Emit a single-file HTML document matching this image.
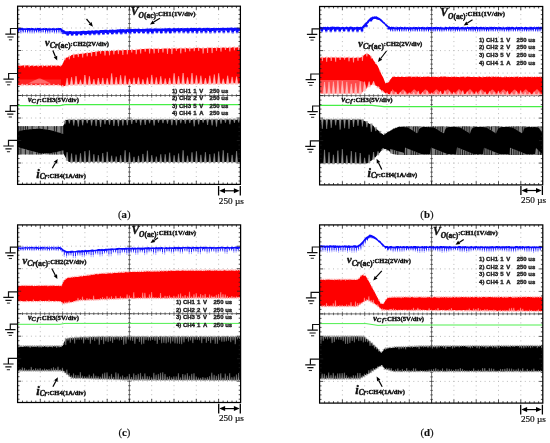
<!DOCTYPE html>
<html><head><meta charset="utf-8"><title>Figure</title>
<style>
html,body{margin:0;padding:0;background:#fff;}
body{width:550px;height:443px;overflow:hidden;}
svg{display:block;}
.lb{font-family:"Liberation Serif",serif;font-weight:bold;fill:#111;stroke:#111;stroke-width:0.4px;}
.lg{font-family:"Liberation Sans",sans-serif;font-weight:bold;font-size:6px;fill:#161616;stroke:#161616;stroke-width:0.32px;}
.sb{font-family:"Liberation Serif",serif;font-size:9.2px;fill:#111;stroke:#111;stroke-width:0.2px;}
.cp{font-family:"Liberation Serif",serif;font-size:10.8px;fill:#111;stroke:#111;stroke-width:0.15px;}
</style></head><body>
<svg width="550" height="443" viewBox="0 0 550 443">
<rect width="550" height="443" fill="#fff"/>
<path d="M39.8 10h1M39.8 14.5h1M39.8 19h1M39.8 23.5h1M39.8 28h1M39.8 32.5h1M39.8 37h1M39.8 41.5h1M39.8 46h1M39.8 50.5h1M39.8 55h1M39.8 59.5h1M39.8 64h1M39.8 68.5h1M39.8 73h1M39.8 77.5h1M39.8 82h1M39.8 86.5h1M39.8 91h1M39.8 95.5h1M39.8 100h1M39.8 104.5h1M39.8 109h1M39.8 113.5h1M39.8 118h1M39.8 122.5h1M39.8 127h1M39.8 131.5h1M39.8 136h1M39.8 140.5h1M39.8 145h1M39.8 149.5h1M39.8 154h1M39.8 158.5h1M39.8 163h1M39.8 167.5h1M39.8 172h1M39.8 176.5h1M39.8 181h1M62.1 10h1M62.1 14.5h1M62.1 19h1M62.1 23.5h1M62.1 28h1M62.1 32.5h1M62.1 37h1M62.1 41.5h1M62.1 46h1M62.1 50.5h1M62.1 55h1M62.1 59.5h1M62.1 64h1M62.1 68.5h1M62.1 73h1M62.1 77.5h1M62.1 82h1M62.1 86.5h1M62.1 91h1M62.1 95.5h1M62.1 100h1M62.1 104.5h1M62.1 109h1M62.1 113.5h1M62.1 118h1M62.1 122.5h1M62.1 127h1M62.1 131.5h1M62.1 136h1M62.1 140.5h1M62.1 145h1M62.1 149.5h1M62.1 154h1M62.1 158.5h1M62.1 163h1M62.1 167.5h1M62.1 172h1M62.1 176.5h1M62.1 181h1M84.4 10h1M84.4 14.5h1M84.4 19h1M84.4 23.5h1M84.4 28h1M84.4 32.5h1M84.4 37h1M84.4 41.5h1M84.4 46h1M84.4 50.5h1M84.4 55h1M84.4 59.5h1M84.4 64h1M84.4 68.5h1M84.4 73h1M84.4 77.5h1M84.4 82h1M84.4 86.5h1M84.4 91h1M84.4 95.5h1M84.4 100h1M84.4 104.5h1M84.4 109h1M84.4 113.5h1M84.4 118h1M84.4 122.5h1M84.4 127h1M84.4 131.5h1M84.4 136h1M84.4 140.5h1M84.4 145h1M84.4 149.5h1M84.4 154h1M84.4 158.5h1M84.4 163h1M84.4 167.5h1M84.4 172h1M84.4 176.5h1M84.4 181h1M106.7 10h1M106.7 14.5h1M106.7 19h1M106.7 23.5h1M106.7 28h1M106.7 32.5h1M106.7 37h1M106.7 41.5h1M106.7 46h1M106.7 50.5h1M106.7 55h1M106.7 59.5h1M106.7 64h1M106.7 68.5h1M106.7 73h1M106.7 77.5h1M106.7 82h1M106.7 86.5h1M106.7 91h1M106.7 95.5h1M106.7 100h1M106.7 104.5h1M106.7 109h1M106.7 113.5h1M106.7 118h1M106.7 122.5h1M106.7 127h1M106.7 131.5h1M106.7 136h1M106.7 140.5h1M106.7 145h1M106.7 149.5h1M106.7 154h1M106.7 158.5h1M106.7 163h1M106.7 167.5h1M106.7 172h1M106.7 176.5h1M106.7 181h1M151.2 10h1M151.2 14.5h1M151.2 19h1M151.2 23.5h1M151.2 28h1M151.2 32.5h1M151.2 37h1M151.2 41.5h1M151.2 46h1M151.2 50.5h1M151.2 55h1M151.2 59.5h1M151.2 64h1M151.2 68.5h1M151.2 73h1M151.2 77.5h1M151.2 82h1M151.2 86.5h1M151.2 91h1M151.2 95.5h1M151.2 100h1M151.2 104.5h1M151.2 109h1M151.2 113.5h1M151.2 118h1M151.2 122.5h1M151.2 127h1M151.2 131.5h1M151.2 136h1M151.2 140.5h1M151.2 145h1M151.2 149.5h1M151.2 154h1M151.2 158.5h1M151.2 163h1M151.2 167.5h1M151.2 172h1M151.2 176.5h1M151.2 181h1M173.5 10h1M173.5 14.5h1M173.5 19h1M173.5 23.5h1M173.5 28h1M173.5 32.5h1M173.5 37h1M173.5 41.5h1M173.5 46h1M173.5 50.5h1M173.5 55h1M173.5 59.5h1M173.5 64h1M173.5 68.5h1M173.5 73h1M173.5 77.5h1M173.5 82h1M173.5 86.5h1M173.5 91h1M173.5 95.5h1M173.5 100h1M173.5 104.5h1M173.5 109h1M173.5 113.5h1M173.5 118h1M173.5 122.5h1M173.5 127h1M173.5 131.5h1M173.5 136h1M173.5 140.5h1M173.5 145h1M173.5 149.5h1M173.5 154h1M173.5 158.5h1M173.5 163h1M173.5 167.5h1M173.5 172h1M173.5 176.5h1M173.5 181h1M195.8 10h1M195.8 14.5h1M195.8 19h1M195.8 23.5h1M195.8 28h1M195.8 32.5h1M195.8 37h1M195.8 41.5h1M195.8 46h1M195.8 50.5h1M195.8 55h1M195.8 59.5h1M195.8 64h1M195.8 68.5h1M195.8 73h1M195.8 77.5h1M195.8 82h1M195.8 86.5h1M195.8 91h1M195.8 95.5h1M195.8 100h1M195.8 104.5h1M195.8 109h1M195.8 113.5h1M195.8 118h1M195.8 122.5h1M195.8 127h1M195.8 131.5h1M195.8 136h1M195.8 140.5h1M195.8 145h1M195.8 149.5h1M195.8 154h1M195.8 158.5h1M195.8 163h1M195.8 167.5h1M195.8 172h1M195.8 176.5h1M195.8 181h1M218.1 10h1M218.1 14.5h1M218.1 19h1M218.1 23.5h1M218.1 28h1M218.1 32.5h1M218.1 37h1M218.1 41.5h1M218.1 46h1M218.1 50.5h1M218.1 55h1M218.1 59.5h1M218.1 64h1M218.1 68.5h1M218.1 73h1M218.1 77.5h1M218.1 82h1M218.1 86.5h1M218.1 91h1M218.1 95.5h1M218.1 100h1M218.1 104.5h1M218.1 109h1M218.1 113.5h1M218.1 118h1M218.1 122.5h1M218.1 127h1M218.1 131.5h1M218.1 136h1M218.1 140.5h1M218.1 145h1M218.1 149.5h1M218.1 154h1M218.1 158.5h1M218.1 163h1M218.1 167.5h1M218.1 172h1M218.1 176.5h1M218.1 181h1M22 28h1M26.4 28h1M30.9 28h1M35.3 28h1M39.8 28h1M44.2 28h1M48.7 28h1M53.2 28h1M57.6 28h1M62.1 28h1M66.5 28h1M71 28h1M75.5 28h1M79.9 28h1M84.4 28h1M88.8 28h1M93.3 28h1M97.7 28h1M102.2 28h1M106.7 28h1M111.1 28h1M115.6 28h1M120 28h1M124.5 28h1M128.9 28h1M133.4 28h1M137.9 28h1M142.3 28h1M146.8 28h1M151.2 28h1M155.7 28h1M160.2 28h1M164.6 28h1M169.1 28h1M173.5 28h1M178 28h1M182.4 28h1M186.9 28h1M191.4 28h1M195.8 28h1M200.3 28h1M204.7 28h1M209.2 28h1M213.7 28h1M218.1 28h1M222.6 28h1M227 28h1M231.5 28h1M235.9 28h1M22 50.5h1M26.4 50.5h1M30.9 50.5h1M35.3 50.5h1M39.8 50.5h1M44.2 50.5h1M48.7 50.5h1M53.2 50.5h1M57.6 50.5h1M62.1 50.5h1M66.5 50.5h1M71 50.5h1M75.5 50.5h1M79.9 50.5h1M84.4 50.5h1M88.8 50.5h1M93.3 50.5h1M97.7 50.5h1M102.2 50.5h1M106.7 50.5h1M111.1 50.5h1M115.6 50.5h1M120 50.5h1M124.5 50.5h1M128.9 50.5h1M133.4 50.5h1M137.9 50.5h1M142.3 50.5h1M146.8 50.5h1M151.2 50.5h1M155.7 50.5h1M160.2 50.5h1M164.6 50.5h1M169.1 50.5h1M173.5 50.5h1M178 50.5h1M182.4 50.5h1M186.9 50.5h1M191.4 50.5h1M195.8 50.5h1M200.3 50.5h1M204.7 50.5h1M209.2 50.5h1M213.7 50.5h1M218.1 50.5h1M222.6 50.5h1M227 50.5h1M231.5 50.5h1M235.9 50.5h1M22 73h1M26.4 73h1M30.9 73h1M35.3 73h1M39.8 73h1M44.2 73h1M48.7 73h1M53.2 73h1M57.6 73h1M62.1 73h1M66.5 73h1M71 73h1M75.5 73h1M79.9 73h1M84.4 73h1M88.8 73h1M93.3 73h1M97.7 73h1M102.2 73h1M106.7 73h1M111.1 73h1M115.6 73h1M120 73h1M124.5 73h1M128.9 73h1M133.4 73h1M137.9 73h1M142.3 73h1M146.8 73h1M151.2 73h1M155.7 73h1M160.2 73h1M164.6 73h1M169.1 73h1M173.5 73h1M178 73h1M182.4 73h1M186.9 73h1M191.4 73h1M195.8 73h1M200.3 73h1M204.7 73h1M209.2 73h1M213.7 73h1M218.1 73h1M222.6 73h1M227 73h1M231.5 73h1M235.9 73h1M22 118h1M26.4 118h1M30.9 118h1M35.3 118h1M39.8 118h1M44.2 118h1M48.7 118h1M53.2 118h1M57.6 118h1M62.1 118h1M66.5 118h1M71 118h1M75.5 118h1M79.9 118h1M84.4 118h1M88.8 118h1M93.3 118h1M97.7 118h1M102.2 118h1M106.7 118h1M111.1 118h1M115.6 118h1M120 118h1M124.5 118h1M128.9 118h1M133.4 118h1M137.9 118h1M142.3 118h1M146.8 118h1M151.2 118h1M155.7 118h1M160.2 118h1M164.6 118h1M169.1 118h1M173.5 118h1M178 118h1M182.4 118h1M186.9 118h1M191.4 118h1M195.8 118h1M200.3 118h1M204.7 118h1M209.2 118h1M213.7 118h1M218.1 118h1M222.6 118h1M227 118h1M231.5 118h1M235.9 118h1M22 140.5h1M26.4 140.5h1M30.9 140.5h1M35.3 140.5h1M39.8 140.5h1M44.2 140.5h1M48.7 140.5h1M53.2 140.5h1M57.6 140.5h1M62.1 140.5h1M66.5 140.5h1M71 140.5h1M75.5 140.5h1M79.9 140.5h1M84.4 140.5h1M88.8 140.5h1M93.3 140.5h1M97.7 140.5h1M102.2 140.5h1M106.7 140.5h1M111.1 140.5h1M115.6 140.5h1M120 140.5h1M124.5 140.5h1M128.9 140.5h1M133.4 140.5h1M137.9 140.5h1M142.3 140.5h1M146.8 140.5h1M151.2 140.5h1M155.7 140.5h1M160.2 140.5h1M164.6 140.5h1M169.1 140.5h1M173.5 140.5h1M178 140.5h1M182.4 140.5h1M186.9 140.5h1M191.4 140.5h1M195.8 140.5h1M200.3 140.5h1M204.7 140.5h1M209.2 140.5h1M213.7 140.5h1M218.1 140.5h1M222.6 140.5h1M227 140.5h1M231.5 140.5h1M235.9 140.5h1M22 163h1M26.4 163h1M30.9 163h1M35.3 163h1M39.8 163h1M44.2 163h1M48.7 163h1M53.2 163h1M57.6 163h1M62.1 163h1M66.5 163h1M71 163h1M75.5 163h1M79.9 163h1M84.4 163h1M88.8 163h1M93.3 163h1M97.7 163h1M102.2 163h1M106.7 163h1M111.1 163h1M115.6 163h1M120 163h1M124.5 163h1M128.9 163h1M133.4 163h1M137.9 163h1M142.3 163h1M146.8 163h1M151.2 163h1M155.7 163h1M160.2 163h1M164.6 163h1M169.1 163h1M173.5 163h1M178 163h1M182.4 163h1M186.9 163h1M191.4 163h1M195.8 163h1M200.3 163h1M204.7 163h1M209.2 163h1M213.7 163h1M218.1 163h1M222.6 163h1M227 163h1M231.5 163h1M235.9 163h1" stroke="#b4b4b4" stroke-width="0.9" fill="none"/>
<path d="M129.4 6.2V184.4M17.6 95.5H240.4M128.1 10h2.6M128.1 14.5h2.6M128.1 19h2.6M128.1 23.5h2.6M127.2 28h4.4M128.1 32.5h2.6M128.1 37h2.6M128.1 41.5h2.6M128.1 46h2.6M127.2 50.5h4.4M128.1 55h2.6M128.1 59.5h2.6M128.1 64h2.6M128.1 68.5h2.6M127.2 73h4.4M128.1 77.5h2.6M128.1 82h2.6M128.1 86.5h2.6M128.1 91h2.6M127.2 95.5h4.4M128.1 100h2.6M128.1 104.5h2.6M128.1 109h2.6M128.1 113.5h2.6M127.2 118h4.4M128.1 122.5h2.6M128.1 127h2.6M128.1 131.5h2.6M128.1 136h2.6M127.2 140.5h4.4M128.1 145h2.6M128.1 149.5h2.6M128.1 154h2.6M128.1 158.5h2.6M127.2 163h4.4M128.1 167.5h2.6M128.1 172h2.6M128.1 176.5h2.6M128.1 181h2.6M22.5 94.2v2.6M26.9 94.2v2.6M31.4 94.2v2.6M35.8 94.2v2.6M40.3 93.3v4.4M44.7 94.2v2.6M49.2 94.2v2.6M53.7 94.2v2.6M58.1 94.2v2.6M62.6 93.3v4.4M67 94.2v2.6M71.5 94.2v2.6M76 94.2v2.6M80.4 94.2v2.6M84.9 93.3v4.4M89.3 94.2v2.6M93.8 94.2v2.6M98.2 94.2v2.6M102.7 94.2v2.6M107.2 93.3v4.4M111.6 94.2v2.6M116.1 94.2v2.6M120.5 94.2v2.6M125 94.2v2.6M129.4 93.3v4.4M133.9 94.2v2.6M138.4 94.2v2.6M142.8 94.2v2.6M147.3 94.2v2.6M151.7 93.3v4.4M156.2 94.2v2.6M160.7 94.2v2.6M165.1 94.2v2.6M169.6 94.2v2.6M174 93.3v4.4M178.5 94.2v2.6M182.9 94.2v2.6M187.4 94.2v2.6M191.9 94.2v2.6M196.3 93.3v4.4M200.8 94.2v2.6M205.2 94.2v2.6M209.7 94.2v2.6M214.2 94.2v2.6M218.6 93.3v4.4M223.1 94.2v2.6M227.5 94.2v2.6M232 94.2v2.6M236.4 94.2v2.6" stroke="#333" stroke-width="0.7" fill="none"/>
<polygon points="17.6,65.5 18.6,65.4 19.6,65.8 20.6,65.4 21.6,65.7 22.6,65.6 23.6,65.3 24.6,65.7 25.6,65.3 26.6,65.6 27.6,65.3 28.6,65.4 29.6,65.6 30.6,65.9 31.6,65.4 32.6,65.5 33.6,65.7 34.6,66 35.6,65.7 36.6,65.6 37.6,66 38.6,65.3 39.6,65.9 40.6,65.5 41.6,65.4 42.6,65.4 43.6,65.5 44.6,65.9 45.6,65.4 46.6,65.7 47.6,65.7 48.6,65.6 49.6,65.7 50.6,65.3 51.6,65.3 52.6,65.4 53.6,65.8 54.6,65.6 55.6,65.5 56.6,65.7 57.6,65.6 58.6,65.5 59.6,65.9 60.6,65.8 61.6,65.5 62.6,64.2 63.6,61.8 64.6,59.6 65.6,58.2 66.6,57.5 67.6,57.5 68.6,56.4 69.6,56.2 70.6,55.9 71.6,55.1 72.6,54.8 73.6,54.3 74.6,54.6 75.6,54.5 76.6,54.3 77.6,54.4 78.6,53.8 79.6,54 80.6,53.8 81.6,53.7 82.6,53.4 83.6,53.6 84.6,53.5 85.6,53.1 86.6,53.1 87.6,52.6 88.6,52.9 89.6,52.7 90.6,52.8 91.6,52.6 92.6,52.1 93.6,52.1 94.6,52.1 95.6,51.6 96.6,51.7 97.6,51.4 98.6,51.3 99.6,51.1 100.6,51.5 101.6,51 102.6,51 103.6,51.1 104.6,51.4 105.6,50.8 106.6,51 107.6,51 108.6,51.2 109.6,51.1 110.6,51.1 111.6,50.6 112.6,50.7 113.6,50.6 114.6,50.9 115.6,50.9 116.6,50.3 117.6,50.3 118.6,50.3 119.6,50.2 120.6,50.4 121.6,50.4 122.6,50.1 123.6,49.9 124.6,50.1 125.6,50 126.6,50.1 127.6,50.3 128.6,50.1 129.6,49.9 130.6,50 131.6,50 132.6,49.5 133.6,50 134.6,49.9 135.6,49.9 136.6,49.8 137.6,49.5 138.6,49.4 139.6,49.2 140.6,49.5 141.6,49 142.6,49 143.6,49.1 144.6,49 145.6,49 146.6,48.8 147.6,48.7 148.6,48.8 149.6,48.7 150.6,48.8 151.6,48.6 152.6,49.2 153.6,49 154.6,48.6 155.6,48.7 156.6,48.7 157.6,48.7 158.6,48.5 159.6,49 160.6,49.1 161.6,48.7 162.6,48.7 163.6,48.4 164.6,48.4 165.6,48.6 166.6,48.5 167.6,48.9 168.6,48.4 169.6,48.3 170.6,48.9 171.6,48.6 172.6,48.3 173.6,48.6 174.6,48.2 175.6,48.5 176.6,48.8 177.6,48.7 178.6,48.6 179.6,48.3 180.6,48.3 181.6,48.2 182.6,48.6 183.6,48.4 184.6,48.5 185.6,48.2 186.6,48.1 187.6,48.5 188.6,48.6 189.6,48.5 190.6,48.4 191.6,48.4 192.6,48.4 193.6,48 194.6,48.2 195.6,48 196.6,47.8 197.6,47.8 198.6,47.9 199.6,47.9 200.6,48.2 201.6,48.4 202.6,48 203.6,48.3 204.6,48.3 205.6,48.3 206.6,47.9 207.6,47.7 208.6,47.7 209.6,47.7 210.6,47.7 211.6,47.9 212.6,48.1 213.6,48.1 214.6,47.8 215.6,47.9 216.6,48 217.6,47.5 218.6,47.8 219.6,48 220.6,47.9 221.6,47.9 222.6,47.6 223.6,47.4 224.6,47.8 225.6,47.5 226.6,47.8 227.6,47.9 228.6,47.5 229.6,47.5 230.6,47.8 231.6,47.7 232.6,47.3 233.6,47.2 234.6,47.2 235.6,47.7 236.6,47.6 237.6,47.2 238.6,47.6 239.6,47.7 240.4,47.5 240.4,83.3 239.6,83.3 238.6,83.7 237.6,83.1 236.6,83.6 235.6,83.6 234.6,83.2 233.6,83.3 232.6,83.4 231.6,83.3 230.6,83.5 229.6,83.5 228.6,83.7 227.6,83.7 226.6,83.9 225.6,83.9 224.6,83.6 223.6,83.9 222.6,83.7 221.6,83.9 220.6,83.6 219.6,83.8 218.6,83.6 217.6,83.6 216.6,83.7 215.6,84 214.6,83.7 213.6,83.8 212.6,83.3 211.6,83.8 210.6,83.6 209.6,83.3 208.6,83.4 207.6,83.8 206.6,83.7 205.6,83.9 204.6,83.7 203.6,83.9 202.6,83.9 201.6,83.9 200.6,83.6 199.6,83.5 198.6,83.5 197.6,84 196.6,84 195.6,83.9 194.6,83.6 193.6,84.1 192.6,84 191.6,84.1 190.6,83.9 189.6,83.9 188.6,83.7 187.6,83.7 186.6,83.6 185.6,83.9 184.6,83.5 183.6,83.7 182.6,83.9 181.6,83.9 180.6,83.6 179.6,83.9 178.6,83.9 177.6,83.7 176.6,84.2 175.6,83.6 174.6,83.9 173.6,84.1 172.6,83.9 171.6,83.8 170.6,84.3 169.6,84.1 168.6,84.3 167.6,84.1 166.6,84.2 165.6,84 164.6,84.1 163.6,83.8 162.6,84.1 161.6,84.1 160.6,84.2 159.6,84.3 158.6,84.3 157.6,84.3 156.6,84.2 155.6,84 154.6,84.3 153.6,84.2 152.6,83.8 151.6,84 150.6,84.2 149.6,84.1 148.6,83.8 147.6,84.4 146.6,83.9 145.6,84.4 144.6,83.9 143.6,84 142.6,83.8 141.6,84.4 140.6,84.2 139.6,84 138.6,84.5 137.6,84.5 136.6,84 135.6,84.1 134.6,83.9 133.6,84.4 132.6,84.4 131.6,84 130.6,83.9 129.6,84.3 128.6,84.5 127.6,84.4 126.6,84.1 125.6,84.6 124.6,84.4 123.6,84.5 122.6,83.9 121.6,84.1 120.6,84 119.6,84.6 118.6,84.3 117.6,84.2 116.6,84.4 115.6,84.7 114.6,84.4 113.6,84.3 112.6,84.7 111.6,84.2 110.6,84.5 109.6,84.6 108.6,84.5 107.6,84.4 106.6,84.4 105.6,84.6 104.6,84.2 103.6,84.1 102.6,84.4 101.6,84.5 100.6,84.1 99.6,84.6 98.6,84.1 97.6,84.2 96.6,84.7 95.6,84.4 94.6,84.3 93.6,84.7 92.6,84.2 91.6,84.3 90.6,84.4 89.6,84.8 88.6,84.7 87.6,84.8 86.6,84.6 85.6,84.8 84.6,84.8 83.6,84.3 82.6,84.3 81.6,84.5 80.6,84.7 79.6,84.3 78.6,84.3 77.6,84.5 76.6,84.3 75.6,84.6 74.6,84.6 73.6,84.7 72.6,84.5 71.6,84.6 70.6,84.6 69.6,84.7 68.6,85 67.6,85 66.6,85.3 65.6,85.7 64.6,86 63.6,86.1 62.6,86.4 61.6,85.9 60.6,85.2 59.6,85.2 58.6,84.8 57.6,84.9 56.6,84.9 55.6,85.1 54.6,84.9 53.6,84.8 52.6,85 51.6,85.2 50.6,84.7 49.6,85.3 48.6,85.2 47.6,85 46.6,85.3 45.6,84.9 44.6,84.9 43.6,84.9 42.6,84.7 41.6,85 40.6,84.7 39.6,84.9 38.6,85 37.6,85.1 36.6,84.7 35.6,85.2 34.6,85 33.6,85.1 32.6,84.9 31.6,85.1 30.6,85.1 29.6,85.1 28.6,85.2 27.6,84.7 26.6,84.7 25.6,85 24.6,84.6 23.6,84.9 22.6,84.8 21.6,84.6 20.6,85.3 19.6,85.2 18.6,84.9 17.6,85.1" fill="#fe0000"/>
<polygon points="17.6,79.6 18.6,79.6 19.6,79.6 20.6,79.6 21.6,79.6 22.6,79.6 23.6,79.6 24.6,79.6 25.6,79.6 26.6,79.6 27.6,79.6 28.6,79.6 29.6,79.6 30.6,79.6 31.6,79.6 32.6,79.6 33.6,79.6 34.6,79.6 35.6,79.6 36.6,79.6 37.6,79.6 38.6,79.6 39.6,79.6 40.6,79.6 41.6,79.6 42.6,79.6 43.6,79.6 44.6,79.6 45.6,79.6 46.6,79.6 47.6,79.6 48.6,79.6 49.6,79.6 50.6,79.6 51.6,79.6 52.6,79.6 53.6,79.6 54.6,79.6 55.6,79.6 56.6,79.6 57.6,79.6 58.6,79.6 59.6,79.6 60.6,79.6 61,79.6 61,85.6 60.6,85.6 59.6,85.6 58.6,85.6 57.6,85.6 56.6,85.6 55.6,85.6 54.6,85.6 53.6,85.6 52.6,85.6 51.6,85.6 50.6,85.6 49.6,85.6 48.6,85.6 47.6,85.6 46.6,85.6 45.6,85.6 44.6,85.6 43.6,85.6 42.6,85.6 41.6,85.6 40.6,85.6 39.6,85.6 38.6,85.6 37.6,85.6 36.6,85.6 35.6,85.6 34.6,85.6 33.6,85.6 32.6,85.6 31.6,85.6 30.6,85.6 29.6,85.6 28.6,85.6 27.6,85.6 26.6,85.6 25.6,85.6 24.6,85.6 23.6,85.6 22.6,85.6 21.6,85.6 20.6,85.6 19.6,85.6 18.6,85.6 17.6,85.6" fill="#ffa4a4" fill-opacity="0.22"/>
<polygon points="28,83.4 29,82.9 30,82.4 31,82 32,81.5 33,81 34,80.6 35,80.1 36,79.7 37,79.3 38,78.8 39,78.4 40,78.4 41,78.8 42,79.3 43,79.7 44,80.1 45,80.6 46,81 47,81.5 48,82 49,82.4 50,82.9 51,83.4 51,83.5 50,83.5 49,83.5 48,83.5 47,83.5 46,83.5 45,83.5 44,83.5 43,83.5 42,83.5 41,83.5 40,83.5 39,83.5 38,83.5 37,83.5 36,83.5 35,83.5 34,83.5 33,83.5 32,83.5 31,83.5 30,83.5 29,83.5 28,83.5" fill="#ffa4a4" fill-opacity="0.55"/>
<path d="M19.7 64.9h1.1L20.3 66.3zM21 85.7h2.9L22.5 83.8zM24.2 64.9h1.1L24.7 67.4zM25.5 85.7h2.9L27 83.9zM28.6 64.9h1.1L29.2 67.2zM30 85.7h2.9L31.4 83.8zM33.1 64.9h1.1L33.7 66.5zM34.4 85.7h2.9L35.9 84zM37.6 64.9h1.1L38.1 66.9zM38.9 85.7h2.9L40.3 83.8zM42 64.9h1.1L42.6 67.3zM43.3 85.7h2.9L44.8 83.8zM46.5 64.9h1.1L47 67zM47.8 85.7h2.9L49.3 83.7zM50.9 64.9h1.1L51.5 67.1zM52.3 85.7h2.9L53.7 83.9zM55.4 64.9h1.1L56 66.6zM56.7 85.7h2.9L58.2 84.5zM59.9 64.9h1.1L60.4 66.5zM61.2 87h2.9L62.6 84.9zM64.3 57.9h1.1L64.9 60.3zM65.6 86.1h2.9L67.1 78.2zM68.8 55.6h1.1L69.3 59.3zM70.1 85.4h2.9L71.6 77.2zM73.2 53.8h1.1L73.8 58zM74.6 85.4h2.9L76 76.1zM77.7 53.3h1.1L78.3 57.1zM79 85.3h2.9L80.5 79.7zM82.2 52.7h1.1L82.7 57.5zM83.5 85.3h2.9L84.9 75zM86.6 52.2h1.1L87.2 56.3zM87.9 85.3h2.9L89.4 76.3zM91.1 51.6h1.1L91.6 56.3zM92.4 85.2h2.9L93.9 79.2zM95.5 51.1h1.1L96.1 56.1zM96.9 85.2h2.9L98.3 78zM100 50.6h1.1L100.6 53.7zM101.3 85.2h2.9L102.8 77.9zM104.5 50.4h1.1L105 55.5zM105.8 85.1h2.9L107.2 78.3zM108.9 50.1h1.1L109.5 55.3zM110.2 85.1h2.9L111.7 73.4zM113.4 49.9h1.1L113.9 54.4zM114.7 85.1h2.9L116.2 77.1zM117.8 49.7h1.1L118.4 54.1zM119.2 85h2.9L120.6 75.2zM122.3 49.5h1.1L122.9 54.9zM123.6 85h2.9L125.1 75.6zM126.8 49.3h1.1L127.3 54.3zM128.1 85h2.9L129.5 78.9zM131.2 49.1h1.1L131.8 52.5zM132.5 84.9h2.9L134 77.8zM135.7 48.9h1.1L136.2 54.2zM137 84.9h2.9L138.5 77.5zM140.1 48.6h1.1L140.7 53.5zM141.5 84.9h2.9L142.9 79.3zM144.6 48.4h1.1L145.2 51.7zM145.9 84.9h2.9L147.4 77.6zM149.1 48.2h1.1L149.6 53.5zM150.4 84.8h2.9L151.8 74.9zM153.5 48.1h1.1L154.1 53.4zM154.8 84.8h2.9L156.3 77.4zM158 48h1.1L158.5 52.8zM159.3 84.8h2.9L160.8 76.3zM162.4 48h1.1L163 52.5zM163.8 84.7h2.9L165.2 78.5zM166.9 47.9h1.1L167.5 53.9zM168.2 84.7h2.9L169.7 77.9zM171.4 47.8h1.1L171.9 54.1zM172.7 84.7h2.9L174.1 73.3zM175.8 47.7h1.1L176.4 50.9zM177.1 84.6h2.9L178.6 76.2zM180.3 47.7h1.1L180.8 53.4zM181.6 84.6h2.9L183.1 73zM184.7 47.6h1.1L185.3 52.1zM186.1 84.6h2.9L187.5 77.4zM189.2 47.5h1.1L189.8 51.3zM190.5 84.5h2.9L192 73.1zM193.7 47.4h1.1L194.2 51.2zM195 84.5h2.9L196.4 75.4zM198.1 47.3h1.1L198.7 50.9zM199.4 84.5h2.9L200.9 75.7zM202.6 47.3h1.1L203.1 53.5zM203.9 84.4h2.9L205.4 78.1zM207 47.2h1.1L207.6 53zM208.4 84.4h2.9L209.8 75.7zM211.5 47.1h1.1L212.1 53.1zM212.8 84.4h2.9L214.3 74.5zM216 47h1.1L216.5 50.9zM217.3 84.4h2.9L218.7 73.3zM220.4 46.9h1.1L221 51.6zM221.7 84.3h2.9L223.2 78.7zM224.9 46.9h1.1L225.4 50zM226.2 84.3h2.9L227.7 75.7zM229.3 46.8h1.1L229.9 51.4zM230.7 84.3h2.9L232.1 76.9zM233.8 46.7h1.1L234.4 50.3zM235.1 84.2h2.9L236.6 76.6zM238.3 46.6h1.1L238.8 50.8z" fill="#ffbcbc" fill-opacity="1.0" stroke="#ffbcbc" stroke-width="0.5" stroke-opacity="1.0"/>
<polygon points="17.6,127 18.6,126.4 19.6,126.9 20.6,127 21.6,126.5 22.6,127 23.6,126.9 24.6,127 25.6,126.6 26.6,126.7 27.6,126.7 28.6,127.1 29.6,126.8 30.6,126.7 31.6,126.7 32.6,126.6 33.6,126.4 34.6,126.5 35.6,127 36.6,126.6 37.6,127.1 38.6,126.6 39.6,126.6 40.6,126.8 41.6,126.5 42.6,126.7 43.6,127.1 44.6,127 45.6,127 46.6,126.8 47.6,127 48.6,127.1 49.6,126.8 50.6,126.9 51.6,126.4 52.6,126.9 53.6,126.7 54.6,126.9 55.6,126.9 56.6,126.6 57.6,126.4 58.6,127 59.6,126.5 60.6,126.7 61.6,126.6 62.6,126.6 63.6,125.3 64.6,122.7 65.6,119.8 66.6,120.1 67.6,119.8 68.6,120 69.6,119.9 70.6,119.7 71.6,119.7 72.6,119.7 73.6,120.2 74.6,119.9 75.6,119.7 76.6,120.2 77.6,120.3 78.6,119.9 79.6,119.7 80.6,119.7 81.6,119.6 82.6,119.8 83.6,119.6 84.6,119.7 85.6,119.7 86.6,120 87.6,120.2 88.6,120.1 89.6,119.8 90.6,119.8 91.6,119.9 92.6,119.8 93.6,119.8 94.6,119.6 95.6,119.7 96.6,120.2 97.6,119.6 98.6,119.9 99.6,120 100.6,120.1 101.6,119.7 102.6,119.7 103.6,119.7 104.6,119.8 105.6,119.8 106.6,120.2 107.6,120.1 108.6,120.1 109.6,119.5 110.6,119.5 111.6,120 112.6,120.1 113.6,119.8 114.6,119.9 115.6,119.5 116.6,119.8 117.6,120.1 118.6,120.1 119.6,120.1 120.6,120.2 121.6,119.6 122.6,119.5 123.6,119.6 124.6,119.8 125.6,119.9 126.6,120.1 127.6,120 128.6,119.9 129.6,120 130.6,119.8 131.6,119.8 132.6,119.5 133.6,120 134.6,119.6 135.6,120.1 136.6,119.9 137.6,119.6 138.6,119.5 139.6,119.6 140.6,119.9 141.6,119.9 142.6,119.5 143.6,119.5 144.6,119.8 145.6,119.8 146.6,119.7 147.6,119.6 148.6,119.8 149.6,119.4 150.6,119.6 151.6,119.7 152.6,120.1 153.6,119.8 154.6,120 155.6,119.7 156.6,119.6 157.6,119.6 158.6,120.1 159.6,119.9 160.6,119.6 161.6,119.4 162.6,119.7 163.6,119.8 164.6,119.7 165.6,119.6 166.6,119.8 167.6,120 168.6,119.5 169.6,119.4 170.6,119.6 171.6,119.7 172.6,119.8 173.6,119.5 174.6,119.9 175.6,119.9 176.6,119.7 177.6,119.5 178.6,120 179.6,119.6 180.6,119.9 181.6,119.5 182.6,119.5 183.6,119.9 184.6,119.5 185.6,120 186.6,119.7 187.6,119.5 188.6,119.5 189.6,119.6 190.6,119.8 191.6,120 192.6,119.4 193.6,119.6 194.6,119.5 195.6,120 196.6,119.4 197.6,119.3 198.6,119.3 199.6,119.6 200.6,119.9 201.6,119.9 202.6,119.8 203.6,120 204.6,119.9 205.6,119.5 206.6,119.4 207.6,119.9 208.6,119.8 209.6,119.3 210.6,119.7 211.6,119.5 212.6,119.5 213.6,119.5 214.6,119.4 215.6,119.3 216.6,119.5 217.6,119.5 218.6,119.9 219.6,119.3 220.6,119.9 221.6,119.4 222.6,119.5 223.6,119.8 224.6,119.8 225.6,119.5 226.6,119.3 227.6,119.6 228.6,119.5 229.6,119.9 230.6,119.4 231.6,119.5 232.6,119.8 233.6,119.2 234.6,119.5 235.6,119.8 236.6,119.7 237.6,119.2 238.6,119.2 239.6,119.2 240.4,119.8 240.4,161.8 239.6,162.2 238.6,161.9 237.6,162.3 236.6,161.9 235.6,162 234.6,162.2 233.6,162 232.6,162.2 231.6,162.2 230.6,162 229.6,162.2 228.6,162 227.6,161.8 226.6,161.8 225.6,162.1 224.6,162 223.6,161.9 222.6,162.3 221.6,162 220.6,162 219.6,161.8 218.6,162 217.6,161.9 216.6,162 215.6,162.1 214.6,161.9 213.6,161.9 212.6,161.9 211.6,162.2 210.6,161.7 209.6,162.3 208.6,161.8 207.6,161.9 206.6,162.3 205.6,161.7 204.6,161.8 203.6,162.1 202.6,162.2 201.6,162 200.6,161.9 199.6,162 198.6,162.1 197.6,162.2 196.6,161.7 195.6,161.7 194.6,162 193.6,162.1 192.6,161.7 191.6,162.2 190.6,161.7 189.6,161.9 188.6,161.7 187.6,162 186.6,161.7 185.6,162.3 184.6,162 183.6,161.6 182.6,161.6 181.6,162.2 180.6,162.2 179.6,161.6 178.6,161.7 177.6,162 176.6,162.2 175.6,161.7 174.6,161.9 173.6,162.1 172.6,162.2 171.6,161.9 170.6,162 169.6,161.9 168.6,162.2 167.6,161.7 166.6,161.9 165.6,161.9 164.6,162.3 163.6,162.2 162.6,162 161.6,161.7 160.6,162 159.6,161.7 158.6,162 157.6,161.7 156.6,162.3 155.6,162.2 154.6,161.8 153.6,162.2 152.6,162 151.6,161.6 150.6,161.7 149.6,162 148.6,162 147.6,161.9 146.6,162.1 145.6,161.6 144.6,162.1 143.6,162.1 142.6,162 141.6,161.8 140.6,162.2 139.6,162.2 138.6,161.9 137.6,161.9 136.6,162 135.6,162.2 134.6,162.3 133.6,161.9 132.6,161.7 131.6,162.2 130.6,162.1 129.6,162.2 128.6,161.8 127.6,162.1 126.6,162.3 125.6,162.2 124.6,161.8 123.6,161.9 122.6,162.1 121.6,162.2 120.6,162.2 119.6,162 118.6,162.1 117.6,161.9 116.6,161.9 115.6,162.2 114.6,161.6 113.6,161.8 112.6,162.1 111.6,162 110.6,161.7 109.6,162 108.6,161.6 107.6,161.9 106.6,161.6 105.6,162.2 104.6,162.2 103.6,162.1 102.6,162.3 101.6,161.7 100.6,161.7 99.6,161.7 98.6,162 97.6,162.2 96.6,161.6 95.6,161.8 94.6,161.7 93.6,162.1 92.6,161.9 91.6,161.6 90.6,162 89.6,162.1 88.6,161.9 87.6,161.7 86.6,162.2 85.6,162.1 84.6,162.1 83.6,162.2 82.6,161.8 81.6,162 80.6,161.9 79.6,162.1 78.6,161.7 77.6,162.2 76.6,161.8 75.6,161.7 74.6,161.8 73.6,161.8 72.6,161.9 71.6,162 70.6,162.1 69.6,162 68.6,161.8 67.6,160.5 66.6,159.2 65.6,157.5 64.6,155.8 63.6,153.7 62.6,153.6 61.6,153.5 60.6,154 59.6,153.8 58.6,154.2 57.6,154.2 56.6,154 55.6,153.7 54.6,154.1 53.6,154.1 52.6,153.7 51.6,153.9 50.6,154 49.6,154 48.6,153.8 47.6,153.7 46.6,153.6 45.6,153.7 44.6,153.6 43.6,154.1 42.6,153.6 41.6,153.9 40.6,153.9 39.6,154 38.6,153.9 37.6,153.5 36.6,153.5 35.6,153.9 34.6,154 33.6,154.2 32.6,153.5 31.6,153.8 30.6,153.6 29.6,153.7 28.6,154.2 27.6,154 26.6,154 25.6,153.7 24.6,154 23.6,153.8 22.6,153.5 21.6,154 20.6,154 19.6,153.6 18.6,153.7 17.6,154" fill="#000"/>
<polygon points="17.6,126.2 18.6,126.2 19.6,126.2 20.6,126.2 21.6,126.2 22.6,126.2 23.6,126.2 24.6,126.2 25.6,126.2 26.6,126.2 27.6,126.2 28.6,126.2 29.6,126.2 30.6,126.2 31.6,126.2 32.6,126.2 33.6,126.2 34.6,126.2 35.6,126.2 36.6,126.2 37.6,126.2 38.6,126.2 39.6,126.2 40.6,126.2 41.6,126.2 42.6,126.2 43.6,126.2 44.6,126.2 45.6,126.2 46.6,126.2 47.6,126.2 48.6,126.2 49.6,126.2 50.6,126.2 51.6,126.2 52.6,126.2 53.6,126.2 54.6,126.2 55.6,126.2 56.6,126.2 57.6,126.2 58.6,126.2 59.6,126.2 60.6,126.2 61.6,126.2 62.6,126.2 63.5,126.2 63.5,134 62.6,133.7 61.6,133.4 60.6,133.1 59.6,132.8 58.6,132.5 57.6,132.2 56.6,131.9 55.6,131.6 54.6,131.3 53.6,131 52.6,130.7 51.6,130.4 50.6,130.3 49.6,130.1 48.6,130 47.6,129.8 46.6,129.6 45.6,129.5 44.6,129.3 43.6,129.2 42.6,129 41.6,128.9 40.6,128.7 39.6,128.6 38.6,128.7 37.6,128.8 36.6,128.8 35.6,128.9 34.6,129 33.6,129 32.6,129.1 31.6,129.2 30.6,129.2 29.6,129.3 28.6,129.4 27.6,129.5 26.6,129.6 25.6,129.8 24.6,129.9 23.6,130.1 22.6,130.2 21.6,130.4 20.6,130.5 19.6,130.7 18.6,130.8 17.6,131" fill="#828282" fill-opacity="1"/>
<path d="M18.7 126.2V130.8M20.9 126.2V130.5M23.2 126.2V130.1M25.4 126.2V129.8M27.6 126.2V129.5M32.1 126.2V129.1M38.8 126.2V128.7M43.2 126.2V129.1M47.7 126.2V129.8M54.4 126.2V131.2M56.6 126.2V131.9M61.1 126.2V133.3M63.3 126.2V133.9" stroke="#000" stroke-width="0.8" fill="none"/>
<polygon points="17.6,147 18.6,147.3 19.6,147.6 20.6,147.9 21.6,148.2 22.6,148.5 23.6,148.7 24.6,149 25.6,149.3 26.6,149.6 27.6,149.9 28.6,150.2 29.6,150.5 30.6,150.8 31.6,151 32.6,151.3 33.6,151.6 34.6,151.8 35.6,152.1 36.6,152.3 37.6,152.6 38.6,152.9 39.6,153.1 40.6,153.4 41.6,153.7 42.6,153.9 43.6,154.2 44.6,154.2 45.6,154.1 46.6,153.9 47.6,153.8 48.6,153.6 49.6,153.5 50.6,153.3 51.6,153 52.6,152.8 53.6,152.6 54.6,152.4 55.6,152.2 56.6,151.9 57.6,151.7 58.6,151.5 59.6,151.3 60.6,151 61.6,150.8 62.6,150.6 63.5,150.4 63.5,154.5 62.6,154.5 61.6,154.5 60.6,154.5 59.6,154.5 58.6,154.5 57.6,154.5 56.6,154.5 55.6,154.5 54.6,154.5 53.6,154.5 52.6,154.5 51.6,154.5 50.6,154.5 49.6,154.5 48.6,154.5 47.6,154.5 46.6,154.5 45.6,154.5 44.6,154.5 43.6,154.5 42.6,154.5 41.6,154.5 40.6,154.5 39.6,154.5 38.6,154.5 37.6,154.5 36.6,154.5 35.6,154.5 34.6,154.5 33.6,154.5 32.6,154.5 31.6,154.5 30.6,154.5 29.6,154.5 28.6,154.5 27.6,154.5 26.6,154.5 25.6,154.5 24.6,154.5 23.6,154.5 22.6,154.5 21.6,154.5 20.6,154.5 19.6,154.5 18.6,154.5 17.6,154.5" fill="#828282" fill-opacity="1"/>
<path d="M18.7 147.3V154.5M20.9 148V154.5M25.4 149.3V154.5M29.9 150.6V154.5M32.1 151.2V154.5M36.6 152.3V154.5M38.8 152.9V154.5M41 153.5V154.5M49.9 153.4V154.5M52.2 152.9V154.5M54.4 152.4V154.5M56.6 151.9V154.5M61.1 150.9V154.5" stroke="#000" stroke-width="0.8" fill="none"/>
<path d="M63.8 120.9h2.1L64.9 124.3zM66 160.4h2.1L67.1 152.2zM68.3 119.2h2.1L69.3 123.4zM70.5 162.7h2.1L71.6 153.5zM72.7 119.2h2.1L73.8 125.5zM75 162.7h2.1L76 154.6zM77.2 119.2h2.1L78.3 126.5zM79.4 162.7h2.1L80.5 153.3zM81.6 119.2h2.1L82.7 125.3zM83.9 162.7h2.1L84.9 151.2zM86.1 119.2h2.1L87.2 123.3zM88.3 162.7h2.1L89.4 150.4zM90.6 119.1h2.1L91.6 125.5zM92.8 162.7h2.1L93.9 154.3zM95 119.1h2.1L96.1 126.1zM97.3 162.7h2.1L98.3 155.2zM99.5 119.1h2.1L100.6 126.9zM101.7 162.7h2.1L102.8 153.1zM103.9 119.1h2.1L105 124.3zM106.2 162.7h2.1L107.2 151.8zM108.4 119.1h2.1L109.5 124.7zM110.6 162.7h2.1L111.7 155.7zM112.9 119.1h2.1L113.9 125.9zM115.1 162.7h2.1L116.2 156.5zM117.3 119.1h2.1L118.4 126.2zM119.6 162.7h2.1L120.6 155.2zM121.8 119.1h2.1L122.9 125.5zM124 162.7h2.1L125.1 150.3zM126.2 119.1h2.1L127.3 125.2zM128.5 162.7h2.1L129.5 152.4zM130.7 119h2.1L131.8 124.1zM132.9 162.7h2.1L134 156.8zM135.2 119h2.1L136.2 122.9zM137.4 162.7h2.1L138.5 155.8zM139.6 119h2.1L140.7 125.3zM141.9 162.7h2.1L142.9 153.9zM144.1 119h2.1L145.2 124.9zM146.3 162.7h2.1L147.4 150.7zM148.5 119h2.1L149.6 123.3zM150.8 162.7h2.1L151.8 155.2zM153 119h2.1L154.1 125.5zM155.2 162.7h2.1L156.3 156.6zM157.5 119h2.1L158.5 122.8zM159.7 162.7h2.1L160.8 154.3zM161.9 119h2.1L163 123.2zM164.2 162.7h2.1L165.2 154.3zM166.4 119h2.1L167.5 123.7zM168.6 162.7h2.1L169.7 152.7zM170.8 119h2.1L171.9 125.2zM173.1 162.7h2.1L174.1 155.3zM175.3 118.9h2.1L176.4 125.3zM177.5 162.7h2.1L178.6 153.5zM179.8 118.9h2.1L180.8 123.3zM182 162.7h2.1L183.1 150.3zM184.2 118.9h2.1L185.3 123.7zM186.5 162.7h2.1L187.5 155.7zM188.7 118.9h2.1L189.8 123.1zM190.9 162.7h2.1L192 152.3zM193.1 118.9h2.1L194.2 126.3zM195.4 162.7h2.1L196.4 151.3zM197.6 118.9h2.1L198.7 124.4zM199.8 162.7h2.1L200.9 154.8zM202.1 118.9h2.1L203.1 122.7zM204.3 162.7h2.1L205.4 152.2zM206.5 118.9h2.1L207.6 125zM208.8 162.7h2.1L209.8 154.2zM211 118.9h2.1L212.1 125.4zM213.2 162.7h2.1L214.3 153.5zM215.4 118.9h2.1L216.5 126.6zM217.7 162.7h2.1L218.7 151.5zM219.9 118.8h2.1L221 123.7zM222.1 162.7h2.1L223.2 150.3zM224.4 118.8h2.1L225.4 122.8zM226.6 162.7h2.1L227.7 152.9zM228.8 118.8h2.1L229.9 124.3zM231.1 162.7h2.1L232.1 154.9zM233.3 118.8h2.1L234.4 122.9zM235.5 162.7h2.1L236.6 151.1zM237.7 118.8h2.1L238.8 122.7z" fill="#939393" fill-opacity="1.0" stroke="#939393" stroke-width="0.5" stroke-opacity="1.0"/>
<path d="M17.6 105.6H60L65 104.6H240.4" stroke="#46ee46" stroke-width="1.1" fill="none"/>
<path d="M18.7 32.1V33.5M20.9 32.2V33.8M23.2 31.9V33.2M25.4 31.9V33.2M27.6 32.1V33.5M29.9 32V33.5M32.1 32.1V33.6M34.3 32.2V33.7M36.6 31.9V33.2M38.8 31.9V33.3M41 31.9V33.3M43.2 31.8V33.1M45.5 32.2V33.8M47.7 32.2V33.7M49.9 32.1V33.6M52.2 31.8V33M54.4 32.2V33.7M56.6 32.2V33.7M58.9 32V33.4M61.1 32.2V33.7" stroke="#8c8cff" stroke-width="0.8" fill="none"/>
<path d="M18.7 29.9V32.3M20.9 29.9V32.4M23.2 29.9V32.1M25.4 29.9V32.1M27.6 29.9V32.3M29.9 29.9V32.2M32.1 29.9V32.3M34.3 29.9V32.4M36.6 29.9V32.1M38.8 29.9V32.1M41 29.9V32.1M43.2 29.9V32M45.5 29.9V32.4M47.7 29.9V32.4M49.9 29.9V32.3M52.2 29.9V32M54.4 29.9V32.4M56.6 29.9V32.4M58.9 29.9V32.2M61.1 29.9V32.4" stroke="#0a0aff" stroke-width="1" fill="none"/>
<polygon points="17.6,28.1 18.6,27.9 19.6,27.8 20.6,27.9 21.6,27.8 22.6,28 23.6,28.3 24.6,28.2 25.6,28.3 26.6,28.2 27.6,27.9 28.6,28.1 29.6,28.1 30.6,28.3 31.6,28.1 32.6,27.9 33.6,28.2 34.6,28.4 35.6,27.9 36.6,28.4 37.6,27.8 38.6,27.9 39.6,27.9 40.6,28.3 41.6,28.4 42.6,28.3 43.6,28 44.6,28.4 45.6,28 46.6,27.9 47.6,28.4 48.6,28.2 49.6,28.2 50.6,28.2 51.6,28.4 52.6,28.1 53.6,28.3 54.6,28.2 55.6,28.4 56.6,28.1 57.6,28.3 58.6,28.1 59.6,28 60.6,27.9 61.5,28.2 61.5,30.3 60.6,30.6 59.6,30.2 58.6,30.2 57.6,30.1 56.6,30.3 55.6,30.3 54.6,30.2 53.6,30.6 52.6,30.1 51.6,30.1 50.6,30.3 49.6,30.5 48.6,30.6 47.6,30.5 46.6,30.6 45.6,30.6 44.6,30.1 43.6,30.1 42.6,30.2 41.6,30.1 40.6,30.7 39.6,30.7 38.6,30.7 37.6,30.1 36.6,30.7 35.6,30.6 34.6,30.6 33.6,30.3 32.6,30.5 31.6,30.1 30.6,30.6 29.6,30.5 28.6,30.5 27.6,30.5 26.6,30.1 25.6,30.1 24.6,30.1 23.6,30.3 22.6,30.7 21.6,30.1 20.6,30.1 19.6,30.2 18.6,30.7 17.6,30.1" fill="#0a0aff"/>
<path d="M63.2 33.6V34.3M67.7 35.1V36M72.1 35.1V35.9M76.6 35.1V36M81.1 34.9V35.8M85.5 34.5V35.3M90 34.5V35.4M94.4 34.3V35.2M98.9 34.2V35.2M103.4 34V34.9M107.8 33.9V35M112.3 33.7V34.8M116.7 33.5V34.5M121.2 33.6V34.8M125.7 33.2V34.2M130.1 33.3V34.5M134.6 32.9V34M139 32.8V33.8M143.5 32.8V33.9M148 33V34.2M152.4 33V34.3M156.9 32.5V33.6M161.3 32.7V33.9M165.8 32.6V33.8M170.3 32.7V33.9M174.7 32.4V33.5M179.2 32.4V33.6M183.7 32.3V33.5M188.1 32.5V33.8M192.6 32.3V33.4M197 32.5V33.9M201.5 32.3V33.4M206 32.2V33.4M210.4 32.4V33.7M214.9 32.3V33.5M219.3 32.1V33.3M223.8 32.3V33.6M228.3 32.1V33.2M232.7 32.4V33.7M237.2 32.3V33.6" stroke="#8c8cff" stroke-width="2.2" fill="none"/>
<path d="M63.2 32.4V33.8M67.7 33.8V35.3M72.1 33.8V35.3M76.6 33.7V35.3M81.1 33.5V35.1M85.5 33.3V34.7M90 33.1V34.7M94.4 32.9V34.5M98.9 32.7V34.4M103.4 32.6V34.2M107.8 32.4V34.1M112.3 32.2V33.9M116.7 32V33.7M121.2 31.9V33.8M125.7 31.7V33.4M130.1 31.5V33.5M134.6 31.3V33.1M139 31.2V33M143.5 31.2V33M148 31.1V33.2M152.4 31V33.2M156.9 31V32.7M161.3 30.9V32.9M165.8 30.8V32.8M170.3 30.8V32.9M174.7 30.7V32.6M179.2 30.6V32.6M183.7 30.6V32.5M188.1 30.6V32.7M192.6 30.5V32.5M197 30.5V32.7M201.5 30.5V32.5M206 30.5V32.4M210.4 30.4V32.6M214.9 30.4V32.5M219.3 30.4V32.3M223.8 30.4V32.5M228.3 30.4V32.3M232.7 30.3V32.6M237.2 30.3V32.5" stroke="#0a0aff" stroke-width="2.8" fill="none"/>
<polygon points="61,28.5 62,29.1 63,29.7 64,30.2 65,30.7 66,31.6 67,31 68,31.6 69,31 70,31.1 71,31.1 72,31.6 73,31.3 74,31.2 75,31.6 76,31.1 77,31.2 78,31.2 79,31.3 80,31.3 81,31.1 82,30.9 83,30.8 84,30.7 85,31.1 86,30.9 87,30.9 88,30.5 89,30.6 90,30.8 91,30.7 92,30.3 93,30.5 94,30.7 95,30.2 96,30.2 97,30.2 98,30.4 99,30.5 100,30 101,29.9 102,29.9 103,30 104,30.1 105,29.8 106,29.8 107,29.7 108,30.2 109,30 110,29.5 111,30.1 112,29.4 113,29.6 114,30 115,29.8 116,29.7 117,29.5 118,29.3 119,29.5 120,29.1 121,29.2 122,29.2 123,29 124,29.2 125,29.4 126,29.3 127,29.1 128,29.2 129,29 130,28.7 131,29 132,28.9 133,29 134,29.1 135,28.8 136,28.8 137,28.9 138,28.7 139,28.5 140,28.9 141,29 142,28.9 143,28.8 144,28.9 145,28.8 146,28.7 147,28.6 148,28.5 149,28.7 150,28.3 151,28.5 152,28.7 153,28.7 154,28.6 155,28.3 156,28.4 157,28.4 158,28.5 159,28.4 160,28.5 161,28.7 162,28.2 163,28.5 164,28.5 165,28.3 166,28.3 167,28.6 168,28 169,28.3 170,28 171,28.4 172,28.5 173,28.2 174,27.9 175,28.2 176,28.2 177,28.3 178,28.1 179,28.2 180,28.3 181,28.1 182,28 183,28.4 184,27.9 185,28.2 186,28 187,28.2 188,27.8 189,28.4 190,27.9 191,27.7 192,27.9 193,28 194,27.7 195,28 196,28 197,28.2 198,27.9 199,27.8 200,27.8 201,28.2 202,28.3 203,28 204,27.8 205,28.2 206,27.9 207,27.8 208,27.7 209,28.1 210,28.2 211,28 212,27.9 213,28 214,27.7 215,28.3 216,27.8 217,28 218,28.1 219,28.1 220,27.9 221,27.8 222,27.9 223,27.6 224,28.1 225,27.8 226,28.1 227,27.7 228,27.8 229,27.7 230,27.8 231,27.6 232,27.5 233,28 234,27.7 235,27.6 236,27.7 237,27.8 238,27.8 239,27.9 240,27.9 240.4,27.7 240.4,30.6 240,31.1 239,30.8 238,31 237,30.9 236,30.5 235,31 234,31.1 233,31 232,31 231,30.5 230,30.6 229,31 228,30.7 227,31 226,30.5 225,30.6 224,31.1 223,30.6 222,31.2 221,30.6 220,31 219,30.6 218,30.6 217,30.7 216,30.7 215,31 214,30.7 213,30.9 212,30.9 211,31.3 210,31.3 209,31 208,30.9 207,30.6 206,30.9 205,31.3 204,31 203,31.2 202,30.7 201,30.7 200,31 199,30.7 198,31.3 197,31.1 196,31 195,30.9 194,31 193,30.9 192,30.9 191,31.1 190,31.3 189,31.3 188,31 187,31.2 186,31.4 185,31.3 184,30.8 183,30.9 182,30.8 181,31.3 180,31.1 179,31.2 178,30.9 177,31.3 176,31.2 175,31.3 174,31.3 173,31.3 172,31.3 171,31.5 170,31.5 169,31.4 168,31.4 167,31.6 166,31.1 165,31 164,31.2 163,31 162,31.4 161,31.7 160,31.6 159,31.1 158,31.6 157,31.6 156,31.5 155,31.3 154,31.4 153,31.4 152,31.7 151,31.7 150,31.9 149,31.6 148,31.4 147,31.6 146,31.6 145,31.9 144,31.5 143,31.9 142,31.7 141,31.7 140,31.7 139,31.5 138,31.9 137,31.8 136,31.8 135,31.7 134,32.1 133,31.8 132,32 131,32.1 130,31.7 129,32.3 128,32.1 127,32.1 126,32.5 125,32.1 124,32.5 123,32.4 122,32.4 121,32 120,32.5 119,32.5 118,32.2 117,32.8 116,32.5 115,32.5 114,32.9 113,32.8 112,32.8 111,32.7 110,33 109,32.5 108,33.1 107,32.9 106,33 105,33 104,32.8 103,33.1 102,32.8 101,33.2 100,32.9 99,33.1 98,33.1 97,33.4 96,33.6 95,33.4 94,33.6 93,33.5 92,33.7 91,33.4 90,33.9 89,33.9 88,34 87,33.9 86,34 85,33.9 84,34.2 83,33.7 82,34.2 81,34.3 80,33.8 79,34 78,34.4 77,34 76,34 75,34 74,34.1 73,34.4 72,34.6 71,34 70,34 69,34.4 68,34.5 67,34 66,34.5 65,34.1 64,33.5 63,32.5 62,32.3 61,31.6" fill="#0a0aff"/>
<path d="M17.6 10h1.9M240.4 10h-1.9M17.6 14.5h1.9M240.4 14.5h-1.9M17.6 19h1.9M240.4 19h-1.9M17.6 23.5h1.9M240.4 23.5h-1.9M17.6 28h3.6M240.4 28h-3.6M17.6 32.5h1.9M240.4 32.5h-1.9M17.6 37h1.9M240.4 37h-1.9M17.6 41.5h1.9M240.4 41.5h-1.9M17.6 46h1.9M240.4 46h-1.9M17.6 50.5h3.6M240.4 50.5h-3.6M17.6 55h1.9M240.4 55h-1.9M17.6 59.5h1.9M240.4 59.5h-1.9M17.6 64h1.9M240.4 64h-1.9M17.6 68.5h1.9M240.4 68.5h-1.9M17.6 73h3.6M240.4 73h-3.6M17.6 77.5h1.9M240.4 77.5h-1.9M17.6 82h1.9M240.4 82h-1.9M17.6 86.5h1.9M240.4 86.5h-1.9M17.6 91h1.9M240.4 91h-1.9M17.6 95.5h3.6M240.4 95.5h-3.6M17.6 100h1.9M240.4 100h-1.9M17.6 104.5h1.9M240.4 104.5h-1.9M17.6 109h1.9M240.4 109h-1.9M17.6 113.5h1.9M240.4 113.5h-1.9M17.6 118h3.6M240.4 118h-3.6M17.6 122.5h1.9M240.4 122.5h-1.9M17.6 127h1.9M240.4 127h-1.9M17.6 131.5h1.9M240.4 131.5h-1.9M17.6 136h1.9M240.4 136h-1.9M17.6 140.5h3.6M240.4 140.5h-3.6M17.6 145h1.9M240.4 145h-1.9M17.6 149.5h1.9M240.4 149.5h-1.9M17.6 154h1.9M240.4 154h-1.9M17.6 158.5h1.9M240.4 158.5h-1.9M17.6 163h3.6M240.4 163h-3.6M17.6 167.5h1.9M240.4 167.5h-1.9M17.6 172h1.9M240.4 172h-1.9M17.6 176.5h1.9M240.4 176.5h-1.9M17.6 181h1.9M240.4 181h-1.9M22.5 6.2v1.9M22.5 184.4v-1.9M26.9 6.2v1.9M26.9 184.4v-1.9M31.4 6.2v1.9M31.4 184.4v-1.9M35.8 6.2v1.9M35.8 184.4v-1.9M40.3 6.2v3.6M40.3 184.4v-3.6M44.7 6.2v1.9M44.7 184.4v-1.9M49.2 6.2v1.9M49.2 184.4v-1.9M53.7 6.2v1.9M53.7 184.4v-1.9M58.1 6.2v1.9M58.1 184.4v-1.9M62.6 6.2v3.6M62.6 184.4v-3.6M67 6.2v1.9M67 184.4v-1.9M71.5 6.2v1.9M71.5 184.4v-1.9M76 6.2v1.9M76 184.4v-1.9M80.4 6.2v1.9M80.4 184.4v-1.9M84.9 6.2v3.6M84.9 184.4v-3.6M89.3 6.2v1.9M89.3 184.4v-1.9M93.8 6.2v1.9M93.8 184.4v-1.9M98.2 6.2v1.9M98.2 184.4v-1.9M102.7 6.2v1.9M102.7 184.4v-1.9M107.2 6.2v3.6M107.2 184.4v-3.6M111.6 6.2v1.9M111.6 184.4v-1.9M116.1 6.2v1.9M116.1 184.4v-1.9M120.5 6.2v1.9M120.5 184.4v-1.9M125 6.2v1.9M125 184.4v-1.9M129.4 6.2v3.6M129.4 184.4v-3.6M133.9 6.2v1.9M133.9 184.4v-1.9M138.4 6.2v1.9M138.4 184.4v-1.9M142.8 6.2v1.9M142.8 184.4v-1.9M147.3 6.2v1.9M147.3 184.4v-1.9M151.7 6.2v3.6M151.7 184.4v-3.6M156.2 6.2v1.9M156.2 184.4v-1.9M160.7 6.2v1.9M160.7 184.4v-1.9M165.1 6.2v1.9M165.1 184.4v-1.9M169.6 6.2v1.9M169.6 184.4v-1.9M174 6.2v3.6M174 184.4v-3.6M178.5 6.2v1.9M178.5 184.4v-1.9M182.9 6.2v1.9M182.9 184.4v-1.9M187.4 6.2v1.9M187.4 184.4v-1.9M191.9 6.2v1.9M191.9 184.4v-1.9M196.3 6.2v3.6M196.3 184.4v-3.6M200.8 6.2v1.9M200.8 184.4v-1.9M205.2 6.2v1.9M205.2 184.4v-1.9M209.7 6.2v1.9M209.7 184.4v-1.9M214.2 6.2v1.9M214.2 184.4v-1.9M218.6 6.2v3.6M218.6 184.4v-3.6M223.1 6.2v1.9M223.1 184.4v-1.9M227.5 6.2v1.9M227.5 184.4v-1.9M232 6.2v1.9M232 184.4v-1.9M236.4 6.2v1.9M236.4 184.4v-1.9" stroke="#222" stroke-width="0.8" fill="none"/>
<rect x="17.6" y="6.2" width="222.8" height="178.2" fill="none" stroke="#000" stroke-width="1.25"/>
<path d="M17.6 28.5H10.5V34.1" stroke="#111" stroke-width="1.2" fill="none"/>
<path d="M5.3 34.1h10.4M7.4 37h6.2" stroke="#111" stroke-width="1.2" fill="none"/>
<path d="M8.9 39.8h3.2" stroke="#333" stroke-width="1.1" fill="none"/>
<path d="M17.6 73.5H8.6V79.1" stroke="#111" stroke-width="1.2" fill="none"/>
<path d="M3.4 79.1h10.4M5.5 82h6.2" stroke="#111" stroke-width="1.2" fill="none"/>
<path d="M7 84.8h3.2" stroke="#333" stroke-width="1.1" fill="none"/>
<path d="M17.6 105.7H10.3V111.3" stroke="#111" stroke-width="1.2" fill="none"/>
<path d="M5.1 111.3h10.4M7.2 114.2h6.2" stroke="#111" stroke-width="1.2" fill="none"/>
<path d="M8.7 117h3.2" stroke="#333" stroke-width="1.1" fill="none"/>
<path d="M17.6 140.4H8.5V146" stroke="#111" stroke-width="1.2" fill="none"/>
<path d="M3.3 146h10.4M5.4 148.9h6.2" stroke="#111" stroke-width="1.2" fill="none"/>
<path d="M6.9 151.7h3.2" stroke="#333" stroke-width="1.1" fill="none"/>
<text x="130.8" y="15.3" class="lb"><tspan font-size="11.5" font-style="italic">V</tspan><tspan font-size="7.5" font-style="italic" dy="2.9">O</tspan><tspan font-size="7.5">(ac)</tspan><tspan font-size="6.3" dy="-2.5">:</tspan><tspan font-size="6.8">CH1(1V/div)</tspan></text>
<path d="M159.9 18.2L153.7 22.1" stroke="#000" stroke-width="1.2" fill="none"/>
<polygon points="150.00,24.40 152.72,20.45 154.74,23.67" fill="#000"/>
<path d="M86.5 19L90.1 23.3" stroke="#000" stroke-width="1.2" fill="none"/>
<polygon points="92.90,26.70 88.63,24.53 91.55,22.10" fill="#000"/>
<text x="45.1" y="46" class="lb"><tspan font-size="10.5" font-style="italic">v</tspan><tspan font-size="7.8" font-style="italic" dy="2.2">Cr</tspan><tspan font-size="7.8">(ac)</tspan><tspan font-size="6.3" dy="-2.5">:</tspan><tspan font-size="6.6">CH2(2V/div)</tspan></text>
<path d="M52.8 50.4L55.4 56.5" stroke="#000" stroke-width="1.2" fill="none"/>
<polygon points="57.20,60.50 53.70,57.23 57.18,55.71" fill="#000"/>
<text x="28" y="101.6" class="lb"><tspan font-size="8" font-style="italic">v</tspan><tspan font-size="6.6" font-style="italic" dy="0.9">C</tspan><tspan font-size="3"> </tspan><tspan font-size="6.6" font-style="italic">f</tspan><tspan font-size="2.5" dy="-0.9"> </tspan><tspan font-size="6.75">:CH3(5V/div)</tspan></text>
<text x="36.3" y="177.6" class="lb"><tspan font-size="12.5" font-style="italic">i</tspan><tspan font-size="7.2" font-style="italic" dy="1.4">Cr</tspan><tspan font-size="6.6" dy="-1.4">:CH4(1A/div)</tspan></text>
<path d="M52.3 168.2L55.5 162.8" stroke="#000" stroke-width="1.2" fill="none"/>
<polygon points="57.70,159.00 57.11,163.76 53.83,161.83" fill="#000"/>
<text class="lg" y="92.9"><tspan x="172">1) CH1</tspan><tspan x="193.2">1</tspan><tspan x="199.2">V</tspan><tspan x="209.6">250 us</tspan></text>
<text class="lg" y="100.2"><tspan x="172">2) CH2</tspan><tspan x="193.2">2</tspan><tspan x="199.2">V</tspan><tspan x="209.6">250 us</tspan></text>
<text class="lg" y="107.5"><tspan x="172">3) CH3</tspan><tspan x="193.2">5</tspan><tspan x="199.2">V</tspan><tspan x="209.6">250 us</tspan></text>
<text class="lg" y="114.8"><tspan x="172">4) CH4</tspan><tspan x="193.2">1</tspan><tspan x="199.2">A</tspan><tspan x="209.6">250 us</tspan></text>
<path d="M218.6 186V195.5M240.3 186V195.5" stroke="#000" stroke-width="1.3" fill="none"/>
<path d="M222.6 190.8H236.3" stroke="#000" stroke-width="1.2" fill="none"/>
<polygon points="219.2,190.8 225,188.2 225,193.2" fill="#000"/>
<polygon points="239.7,190.8 233.9,188.2 233.9,193.2" fill="#000"/>
<text class="sb" x="218.8" y="203.5">250 µs</text>
<text class="cp" x="124.3" y="217.9" text-anchor="middle">(<tspan font-weight="bold">a</tspan>)</text>
<path d="M341.9 10.1h1M341.9 14.6h1M341.9 19.1h1M341.9 23.6h1M341.9 28.1h1M341.9 32.6h1M341.9 37.1h1M341.9 41.6h1M341.9 46.1h1M341.9 50.6h1M341.9 55.1h1M341.9 59.6h1M341.9 64.1h1M341.9 68.6h1M341.9 73.1h1M341.9 77.6h1M341.9 82.1h1M341.9 86.6h1M341.9 91.1h1M341.9 95.6h1M341.9 100.1h1M341.9 104.6h1M341.9 109.1h1M341.9 113.6h1M341.9 118.1h1M341.9 122.6h1M341.9 127.1h1M341.9 131.6h1M341.9 136.1h1M341.9 140.6h1M341.9 145.1h1M341.9 149.6h1M341.9 154.1h1M341.9 158.6h1M341.9 163.1h1M341.9 167.6h1M341.9 172.1h1M341.9 176.6h1M341.9 181.1h1M364.2 10.1h1M364.2 14.6h1M364.2 19.1h1M364.2 23.6h1M364.2 28.1h1M364.2 32.6h1M364.2 37.1h1M364.2 41.6h1M364.2 46.1h1M364.2 50.6h1M364.2 55.1h1M364.2 59.6h1M364.2 64.1h1M364.2 68.6h1M364.2 73.1h1M364.2 77.6h1M364.2 82.1h1M364.2 86.6h1M364.2 91.1h1M364.2 95.6h1M364.2 100.1h1M364.2 104.6h1M364.2 109.1h1M364.2 113.6h1M364.2 118.1h1M364.2 122.6h1M364.2 127.1h1M364.2 131.6h1M364.2 136.1h1M364.2 140.6h1M364.2 145.1h1M364.2 149.6h1M364.2 154.1h1M364.2 158.6h1M364.2 163.1h1M364.2 167.6h1M364.2 172.1h1M364.2 176.6h1M364.2 181.1h1M386.5 10.1h1M386.5 14.6h1M386.5 19.1h1M386.5 23.6h1M386.5 28.1h1M386.5 32.6h1M386.5 37.1h1M386.5 41.6h1M386.5 46.1h1M386.5 50.6h1M386.5 55.1h1M386.5 59.6h1M386.5 64.1h1M386.5 68.6h1M386.5 73.1h1M386.5 77.6h1M386.5 82.1h1M386.5 86.6h1M386.5 91.1h1M386.5 95.6h1M386.5 100.1h1M386.5 104.6h1M386.5 109.1h1M386.5 113.6h1M386.5 118.1h1M386.5 122.6h1M386.5 127.1h1M386.5 131.6h1M386.5 136.1h1M386.5 140.6h1M386.5 145.1h1M386.5 149.6h1M386.5 154.1h1M386.5 158.6h1M386.5 163.1h1M386.5 167.6h1M386.5 172.1h1M386.5 176.6h1M386.5 181.1h1M408.8 10.1h1M408.8 14.6h1M408.8 19.1h1M408.8 23.6h1M408.8 28.1h1M408.8 32.6h1M408.8 37.1h1M408.8 41.6h1M408.8 46.1h1M408.8 50.6h1M408.8 55.1h1M408.8 59.6h1M408.8 64.1h1M408.8 68.6h1M408.8 73.1h1M408.8 77.6h1M408.8 82.1h1M408.8 86.6h1M408.8 91.1h1M408.8 95.6h1M408.8 100.1h1M408.8 104.6h1M408.8 109.1h1M408.8 113.6h1M408.8 118.1h1M408.8 122.6h1M408.8 127.1h1M408.8 131.6h1M408.8 136.1h1M408.8 140.6h1M408.8 145.1h1M408.8 149.6h1M408.8 154.1h1M408.8 158.6h1M408.8 163.1h1M408.8 167.6h1M408.8 172.1h1M408.8 176.6h1M408.8 181.1h1M453.4 10.1h1M453.4 14.6h1M453.4 19.1h1M453.4 23.6h1M453.4 28.1h1M453.4 32.6h1M453.4 37.1h1M453.4 41.6h1M453.4 46.1h1M453.4 50.6h1M453.4 55.1h1M453.4 59.6h1M453.4 64.1h1M453.4 68.6h1M453.4 73.1h1M453.4 77.6h1M453.4 82.1h1M453.4 86.6h1M453.4 91.1h1M453.4 95.6h1M453.4 100.1h1M453.4 104.6h1M453.4 109.1h1M453.4 113.6h1M453.4 118.1h1M453.4 122.6h1M453.4 127.1h1M453.4 131.6h1M453.4 136.1h1M453.4 140.6h1M453.4 145.1h1M453.4 149.6h1M453.4 154.1h1M453.4 158.6h1M453.4 163.1h1M453.4 167.6h1M453.4 172.1h1M453.4 176.6h1M453.4 181.1h1M475.7 10.1h1M475.7 14.6h1M475.7 19.1h1M475.7 23.6h1M475.7 28.1h1M475.7 32.6h1M475.7 37.1h1M475.7 41.6h1M475.7 46.1h1M475.7 50.6h1M475.7 55.1h1M475.7 59.6h1M475.7 64.1h1M475.7 68.6h1M475.7 73.1h1M475.7 77.6h1M475.7 82.1h1M475.7 86.6h1M475.7 91.1h1M475.7 95.6h1M475.7 100.1h1M475.7 104.6h1M475.7 109.1h1M475.7 113.6h1M475.7 118.1h1M475.7 122.6h1M475.7 127.1h1M475.7 131.6h1M475.7 136.1h1M475.7 140.6h1M475.7 145.1h1M475.7 149.6h1M475.7 154.1h1M475.7 158.6h1M475.7 163.1h1M475.7 167.6h1M475.7 172.1h1M475.7 176.6h1M475.7 181.1h1M498 10.1h1M498 14.6h1M498 19.1h1M498 23.6h1M498 28.1h1M498 32.6h1M498 37.1h1M498 41.6h1M498 46.1h1M498 50.6h1M498 55.1h1M498 59.6h1M498 64.1h1M498 68.6h1M498 73.1h1M498 77.6h1M498 82.1h1M498 86.6h1M498 91.1h1M498 95.6h1M498 100.1h1M498 104.6h1M498 109.1h1M498 113.6h1M498 118.1h1M498 122.6h1M498 127.1h1M498 131.6h1M498 136.1h1M498 140.6h1M498 145.1h1M498 149.6h1M498 154.1h1M498 158.6h1M498 163.1h1M498 167.6h1M498 172.1h1M498 176.6h1M498 181.1h1M520.3 10.1h1M520.3 14.6h1M520.3 19.1h1M520.3 23.6h1M520.3 28.1h1M520.3 32.6h1M520.3 37.1h1M520.3 41.6h1M520.3 46.1h1M520.3 50.6h1M520.3 55.1h1M520.3 59.6h1M520.3 64.1h1M520.3 68.6h1M520.3 73.1h1M520.3 77.6h1M520.3 82.1h1M520.3 86.6h1M520.3 91.1h1M520.3 95.6h1M520.3 100.1h1M520.3 104.6h1M520.3 109.1h1M520.3 113.6h1M520.3 118.1h1M520.3 122.6h1M520.3 127.1h1M520.3 131.6h1M520.3 136.1h1M520.3 140.6h1M520.3 145.1h1M520.3 149.6h1M520.3 154.1h1M520.3 158.6h1M520.3 163.1h1M520.3 167.6h1M520.3 172.1h1M520.3 176.6h1M520.3 181.1h1M324.1 28.1h1M328.5 28.1h1M333 28.1h1M337.4 28.1h1M341.9 28.1h1M346.4 28.1h1M350.8 28.1h1M355.3 28.1h1M359.7 28.1h1M364.2 28.1h1M368.7 28.1h1M373.1 28.1h1M377.6 28.1h1M382 28.1h1M386.5 28.1h1M391 28.1h1M395.4 28.1h1M399.9 28.1h1M404.3 28.1h1M408.8 28.1h1M413.3 28.1h1M417.7 28.1h1M422.2 28.1h1M426.6 28.1h1M431.1 28.1h1M435.6 28.1h1M440 28.1h1M444.5 28.1h1M448.9 28.1h1M453.4 28.1h1M457.9 28.1h1M462.3 28.1h1M466.8 28.1h1M471.2 28.1h1M475.7 28.1h1M480.2 28.1h1M484.6 28.1h1M489.1 28.1h1M493.5 28.1h1M498 28.1h1M502.5 28.1h1M506.9 28.1h1M511.4 28.1h1M515.8 28.1h1M520.3 28.1h1M524.8 28.1h1M529.2 28.1h1M533.7 28.1h1M538.1 28.1h1M324.1 50.6h1M328.5 50.6h1M333 50.6h1M337.4 50.6h1M341.9 50.6h1M346.4 50.6h1M350.8 50.6h1M355.3 50.6h1M359.7 50.6h1M364.2 50.6h1M368.7 50.6h1M373.1 50.6h1M377.6 50.6h1M382 50.6h1M386.5 50.6h1M391 50.6h1M395.4 50.6h1M399.9 50.6h1M404.3 50.6h1M408.8 50.6h1M413.3 50.6h1M417.7 50.6h1M422.2 50.6h1M426.6 50.6h1M431.1 50.6h1M435.6 50.6h1M440 50.6h1M444.5 50.6h1M448.9 50.6h1M453.4 50.6h1M457.9 50.6h1M462.3 50.6h1M466.8 50.6h1M471.2 50.6h1M475.7 50.6h1M480.2 50.6h1M484.6 50.6h1M489.1 50.6h1M493.5 50.6h1M498 50.6h1M502.5 50.6h1M506.9 50.6h1M511.4 50.6h1M515.8 50.6h1M520.3 50.6h1M524.8 50.6h1M529.2 50.6h1M533.7 50.6h1M538.1 50.6h1M324.1 73.1h1M328.5 73.1h1M333 73.1h1M337.4 73.1h1M341.9 73.1h1M346.4 73.1h1M350.8 73.1h1M355.3 73.1h1M359.7 73.1h1M364.2 73.1h1M368.7 73.1h1M373.1 73.1h1M377.6 73.1h1M382 73.1h1M386.5 73.1h1M391 73.1h1M395.4 73.1h1M399.9 73.1h1M404.3 73.1h1M408.8 73.1h1M413.3 73.1h1M417.7 73.1h1M422.2 73.1h1M426.6 73.1h1M431.1 73.1h1M435.6 73.1h1M440 73.1h1M444.5 73.1h1M448.9 73.1h1M453.4 73.1h1M457.9 73.1h1M462.3 73.1h1M466.8 73.1h1M471.2 73.1h1M475.7 73.1h1M480.2 73.1h1M484.6 73.1h1M489.1 73.1h1M493.5 73.1h1M498 73.1h1M502.5 73.1h1M506.9 73.1h1M511.4 73.1h1M515.8 73.1h1M520.3 73.1h1M524.8 73.1h1M529.2 73.1h1M533.7 73.1h1M538.1 73.1h1M324.1 118.1h1M328.5 118.1h1M333 118.1h1M337.4 118.1h1M341.9 118.1h1M346.4 118.1h1M350.8 118.1h1M355.3 118.1h1M359.7 118.1h1M364.2 118.1h1M368.7 118.1h1M373.1 118.1h1M377.6 118.1h1M382 118.1h1M386.5 118.1h1M391 118.1h1M395.4 118.1h1M399.9 118.1h1M404.3 118.1h1M408.8 118.1h1M413.3 118.1h1M417.7 118.1h1M422.2 118.1h1M426.6 118.1h1M431.1 118.1h1M435.6 118.1h1M440 118.1h1M444.5 118.1h1M448.9 118.1h1M453.4 118.1h1M457.9 118.1h1M462.3 118.1h1M466.8 118.1h1M471.2 118.1h1M475.7 118.1h1M480.2 118.1h1M484.6 118.1h1M489.1 118.1h1M493.5 118.1h1M498 118.1h1M502.5 118.1h1M506.9 118.1h1M511.4 118.1h1M515.8 118.1h1M520.3 118.1h1M524.8 118.1h1M529.2 118.1h1M533.7 118.1h1M538.1 118.1h1M324.1 140.6h1M328.5 140.6h1M333 140.6h1M337.4 140.6h1M341.9 140.6h1M346.4 140.6h1M350.8 140.6h1M355.3 140.6h1M359.7 140.6h1M364.2 140.6h1M368.7 140.6h1M373.1 140.6h1M377.6 140.6h1M382 140.6h1M386.5 140.6h1M391 140.6h1M395.4 140.6h1M399.9 140.6h1M404.3 140.6h1M408.8 140.6h1M413.3 140.6h1M417.7 140.6h1M422.2 140.6h1M426.6 140.6h1M431.1 140.6h1M435.6 140.6h1M440 140.6h1M444.5 140.6h1M448.9 140.6h1M453.4 140.6h1M457.9 140.6h1M462.3 140.6h1M466.8 140.6h1M471.2 140.6h1M475.7 140.6h1M480.2 140.6h1M484.6 140.6h1M489.1 140.6h1M493.5 140.6h1M498 140.6h1M502.5 140.6h1M506.9 140.6h1M511.4 140.6h1M515.8 140.6h1M520.3 140.6h1M524.8 140.6h1M529.2 140.6h1M533.7 140.6h1M538.1 140.6h1M324.1 163.1h1M328.5 163.1h1M333 163.1h1M337.4 163.1h1M341.9 163.1h1M346.4 163.1h1M350.8 163.1h1M355.3 163.1h1M359.7 163.1h1M364.2 163.1h1M368.7 163.1h1M373.1 163.1h1M377.6 163.1h1M382 163.1h1M386.5 163.1h1M391 163.1h1M395.4 163.1h1M399.9 163.1h1M404.3 163.1h1M408.8 163.1h1M413.3 163.1h1M417.7 163.1h1M422.2 163.1h1M426.6 163.1h1M431.1 163.1h1M435.6 163.1h1M440 163.1h1M444.5 163.1h1M448.9 163.1h1M453.4 163.1h1M457.9 163.1h1M462.3 163.1h1M466.8 163.1h1M471.2 163.1h1M475.7 163.1h1M480.2 163.1h1M484.6 163.1h1M489.1 163.1h1M493.5 163.1h1M498 163.1h1M502.5 163.1h1M506.9 163.1h1M511.4 163.1h1M515.8 163.1h1M520.3 163.1h1M524.8 163.1h1M529.2 163.1h1M533.7 163.1h1M538.1 163.1h1" stroke="#b4b4b4" stroke-width="0.9" fill="none"/>
<path d="M431.6 6.5V184.9M319.6 95.6H542.7M430.3 10.1h2.6M430.3 14.6h2.6M430.3 19.1h2.6M430.3 23.6h2.6M429.4 28.1h4.4M430.3 32.6h2.6M430.3 37.1h2.6M430.3 41.6h2.6M430.3 46.1h2.6M429.4 50.6h4.4M430.3 55.1h2.6M430.3 59.6h2.6M430.3 64.1h2.6M430.3 68.6h2.6M429.4 73.1h4.4M430.3 77.6h2.6M430.3 82.1h2.6M430.3 86.6h2.6M430.3 91.1h2.6M429.4 95.6h4.4M430.3 100.1h2.6M430.3 104.6h2.6M430.3 109.1h2.6M430.3 113.6h2.6M429.4 118.1h4.4M430.3 122.6h2.6M430.3 127.1h2.6M430.3 131.6h2.6M430.3 136.1h2.6M429.4 140.6h4.4M430.3 145.1h2.6M430.3 149.6h2.6M430.3 154.1h2.6M430.3 158.6h2.6M429.4 163.1h4.4M430.3 167.6h2.6M430.3 172.1h2.6M430.3 176.6h2.6M430.3 181.1h2.6M324.6 94.3v2.6M329 94.3v2.6M333.5 94.3v2.6M337.9 94.3v2.6M342.4 93.4v4.4M346.9 94.3v2.6M351.3 94.3v2.6M355.8 94.3v2.6M360.2 94.3v2.6M364.7 93.4v4.4M369.2 94.3v2.6M373.6 94.3v2.6M378.1 94.3v2.6M382.5 94.3v2.6M387 93.4v4.4M391.5 94.3v2.6M395.9 94.3v2.6M400.4 94.3v2.6M404.8 94.3v2.6M409.3 93.4v4.4M413.8 94.3v2.6M418.2 94.3v2.6M422.7 94.3v2.6M427.1 94.3v2.6M431.6 93.4v4.4M436.1 94.3v2.6M440.5 94.3v2.6M445 94.3v2.6M449.4 94.3v2.6M453.9 93.4v4.4M458.4 94.3v2.6M462.8 94.3v2.6M467.3 94.3v2.6M471.7 94.3v2.6M476.2 93.4v4.4M480.7 94.3v2.6M485.1 94.3v2.6M489.6 94.3v2.6M494 94.3v2.6M498.5 93.4v4.4M503 94.3v2.6M507.4 94.3v2.6M511.9 94.3v2.6M516.3 94.3v2.6M520.8 93.4v4.4M525.3 94.3v2.6M529.7 94.3v2.6M534.2 94.3v2.6M538.6 94.3v2.6" stroke="#333" stroke-width="0.7" fill="none"/>
<polygon points="319.6,57.9 320.6,57.7 321.6,57.2 322.6,57.2 323.6,57.7 324.6,57.8 325.6,57.3 326.6,57.4 327.6,57.7 328.6,57.3 329.6,57.8 330.6,57.5 331.6,57.2 332.6,57.5 333.6,57.6 334.6,57.5 335.6,57.7 336.6,57.3 337.6,57.8 338.6,57.5 339.6,57.7 340.6,57.6 341.6,57.5 342.6,57.5 343.6,57.8 344.6,57.9 345.6,57.7 346.6,57.6 347.6,57.4 348.6,57.2 349.6,57.9 350.6,57.7 351.6,57.8 352.6,57.4 353.6,57.6 354.6,57.9 355.6,57.8 356.6,57.6 357.6,57.4 358.6,57.5 359.6,57.8 360.6,57.5 361.6,57.1 362.6,56.2 363.6,55.5 364.6,54.8 365.6,54.1 366.6,53.5 367.6,53.8 368.6,54.3 369.6,54.9 370.6,56 371.6,57.5 372.6,58.4 373.6,60.4 374.6,61.8 375.6,63.3 376.6,64.5 377.6,65.8 378.6,68.1 379.6,70.3 380.6,72.4 381.6,74.8 382.6,76.6 383.6,78.6 384.6,81.2 385.6,83.6 386.6,82.8 387.6,82.8 388.6,82.2 389.6,80.3 390.6,79.2 391.6,77.9 392.6,76.7 393.6,76.5 394.6,76.6 395.6,76.9 396.6,77 397.6,76.7 398.6,76.5 399.6,77 400.6,76.9 401.6,76.6 402.6,76.8 403.6,77 404.6,77 405.6,76.8 406.6,76.7 407.6,76.8 408.6,76.5 409.6,76.6 410.6,76.5 411.6,76.9 412.6,76.7 413.6,76.8 414.6,76.7 415.6,76.8 416.6,76.5 417.6,76.5 418.6,77.1 419.6,76.7 420.6,76.5 421.6,76.9 422.6,77 423.6,76.5 424.6,76.9 425.6,76.7 426.6,76.8 427.6,76.5 428.6,76.5 429.6,77.1 430.6,77.1 431.6,76.8 432.6,76.8 433.6,76.6 434.6,77 435.6,76.8 436.6,77.1 437.6,77 438.6,77 439.6,77.1 440.6,76.6 441.6,76.5 442.6,76.6 443.6,76.6 444.6,76.5 445.6,76.5 446.6,76.9 447.6,77.1 448.6,76.8 449.6,77.1 450.6,77.1 451.6,76.5 452.6,76.9 453.6,76.8 454.6,76.6 455.6,77.2 456.6,76.7 457.6,76.9 458.6,76.9 459.6,77.2 460.6,77 461.6,76.8 462.6,76.8 463.6,76.6 464.6,77.2 465.6,77.2 466.6,76.7 467.6,76.5 468.6,76.7 469.6,76.7 470.6,77.1 471.6,77.1 472.6,77.1 473.6,76.5 474.6,77.1 475.6,77 476.6,77 477.6,77.2 478.6,76.6 479.6,76.6 480.6,77 481.6,77.2 482.6,77 483.6,76.7 484.6,76.9 485.6,77.1 486.6,76.6 487.6,76.8 488.6,76.7 489.6,76.6 490.6,76.9 491.6,76.6 492.6,76.7 493.6,76.6 494.6,77 495.6,76.5 496.6,77 497.6,76.7 498.6,76.6 499.6,77.2 500.6,76.7 501.6,77.2 502.6,77.2 503.6,77.2 504.6,76.6 505.6,76.9 506.6,76.6 507.6,77.2 508.6,77.1 509.6,77 510.6,76.9 511.6,76.8 512.6,77.1 513.6,76.9 514.6,77 515.6,76.7 516.6,76.7 517.6,76.6 518.6,77.1 519.6,77 520.6,76.7 521.6,77.2 522.6,76.8 523.6,76.9 524.6,76.7 525.6,76.8 526.6,77.2 527.6,76.8 528.6,76.7 529.6,76.9 530.6,76.8 531.6,77.2 532.6,76.7 533.6,77.3 534.6,76.6 535.6,77.2 536.6,77.1 537.6,76.7 538.6,76.9 539.6,76.8 540.6,76.8 541.6,76.7 542.6,76.9 542.7,77.3 542.7,94.2 542.6,94.2 541.6,94.4 540.6,94.3 539.6,94.5 538.6,94.6 537.6,94.7 536.6,94.3 535.6,94.1 534.6,94.6 533.6,94.7 532.6,94.3 531.6,94.5 530.6,94.5 529.6,94.7 528.6,94.5 527.6,94.2 526.6,94.7 525.6,94.7 524.6,94.2 523.6,94.6 522.6,94.1 521.6,94.6 520.6,94.4 519.6,94.4 518.6,94.6 517.6,94.2 516.6,94.5 515.6,94.8 514.6,94.4 513.6,94.5 512.6,94.4 511.6,94.6 510.6,94.6 509.6,94.5 508.6,94.4 507.6,94.3 506.6,94.4 505.6,94.4 504.6,94.3 503.6,94.6 502.6,94.3 501.6,94.3 500.6,94.3 499.6,94.2 498.6,94.4 497.6,94.7 496.6,94.6 495.6,94.5 494.6,94.5 493.6,94.5 492.6,94.6 491.6,94.6 490.6,94.6 489.6,94.4 488.6,94.4 487.6,94.5 486.6,94.4 485.6,94.1 484.6,94.3 483.6,94.6 482.6,94.3 481.6,94.5 480.6,94.5 479.6,94.1 478.6,94.4 477.6,94.4 476.6,94.5 475.6,94.3 474.6,94.1 473.6,94.3 472.6,94.5 471.6,94.2 470.6,94.5 469.6,94.3 468.6,94.7 467.6,94.1 466.6,94.1 465.6,94.1 464.6,94.3 463.6,94 462.6,94.2 461.6,94 460.6,94.6 459.6,94.7 458.6,94.3 457.6,94.4 456.6,94.6 455.6,94.3 454.6,94.4 453.6,94.2 452.6,94.4 451.6,94.5 450.6,94 449.6,94 448.6,94.3 447.6,94.6 446.6,94.1 445.6,94.1 444.6,94 443.6,94.1 442.6,94 441.6,94.4 440.6,94.4 439.6,94.5 438.6,94.4 437.6,94.1 436.6,94 435.6,94.4 434.6,94.3 433.6,94.1 432.6,94.4 431.6,94.4 430.6,94 429.6,94.1 428.6,94.5 427.6,94.1 426.6,94.2 425.6,94.5 424.6,94 423.6,94.2 422.6,94.5 421.6,94.4 420.6,94.6 419.6,94.4 418.6,94.3 417.6,94.3 416.6,94.6 415.6,94.6 414.6,94.1 413.6,94 412.6,94.6 411.6,94.1 410.6,94.3 409.6,94.2 408.6,94.2 407.6,94.6 406.6,94.5 405.6,94.1 404.6,94.6 403.6,94.6 402.6,94 401.6,94.4 400.6,94.5 399.6,94.5 398.6,94.5 397.6,93.9 396.6,94.6 395.6,94.2 394.6,94.2 393.6,94.2 392.6,94.3 391.6,93.9 390.6,94 389.6,94.6 388.6,94.1 387.6,94.2 386.6,93.5 385.6,93.4 384.6,92.6 383.6,92.2 382.6,91.4 381.6,90.8 380.6,89.6 379.6,88.7 378.6,87.7 377.6,87.2 376.6,86.1 375.6,85.6 374.6,85.1 373.6,84.3 372.6,83.8 371.6,84.9 370.6,85.5 369.6,85.7 368.6,86.6 367.6,87 366.6,88.4 365.6,89 364.6,89.6 363.6,90.6 362.6,91.9 361.6,92.5 360.6,93.6 359.6,93.1 358.6,93.3 357.6,93.1 356.6,93.6 355.6,93.5 354.6,93.2 353.6,93 352.6,93.1 351.6,93.2 350.6,93.5 349.6,93.4 348.6,93.3 347.6,93.2 346.6,93.5 345.6,93.5 344.6,93.5 343.6,93.1 342.6,93.1 341.6,93.5 340.6,93.5 339.6,93.2 338.6,93.4 337.6,93 336.6,93.3 335.6,93.5 334.6,93.2 333.6,93 332.6,93.6 331.6,93.5 330.6,93.4 329.6,93 328.6,93.6 327.6,92.9 326.6,93.4 325.6,93.1 324.6,93.6 323.6,93 322.6,93.4 321.6,93.5 320.6,93 319.6,92.9" fill="#fe0000"/>
<polygon points="319.6,80 320.6,80 321.6,80 322.6,80 323.6,80 324.6,80 325.6,80 326.6,80 327.6,80 328.6,80 329.6,80 330.6,80 331.6,80 332.6,80 333.6,80 334.6,80 335.6,80 336.6,80 337.6,80 338.6,80 339.6,80 340.6,80 341.6,80 342.6,80 343.6,80 344.6,80 345.6,80 346.6,80 347.6,80 348.6,80 349.6,80 350.6,80 351.6,80 352.6,80 353.6,80 354.6,80 355.6,80 356.6,80 357.6,80 358.6,80.2 359.6,80.5 360.6,80.9 361.6,81.2 362.6,81.5 363.6,81.9 364.6,83.2 365.6,85.2 366.6,87.2 367,88 367,88 366.6,88.4 365.6,89.4 364.6,90.3 363.6,91.3 362.6,92.3 361.6,93.2 360.6,93.8 359.6,93.8 358.6,93.8 357.6,93.8 356.6,93.8 355.6,93.8 354.6,93.8 353.6,93.8 352.6,93.8 351.6,93.8 350.6,93.8 349.6,93.8 348.6,93.8 347.6,93.8 346.6,93.8 345.6,93.8 344.6,93.8 343.6,93.8 342.6,93.8 341.6,93.8 340.6,93.8 339.6,93.8 338.6,93.8 337.6,93.8 336.6,93.8 335.6,93.8 334.6,93.8 333.6,93.8 332.6,93.8 331.6,93.8 330.6,93.8 329.6,93.8 328.6,93.8 327.6,93.8 326.6,93.8 325.6,93.8 324.6,93.8 323.6,93.8 322.6,93.8 321.6,93.8 320.6,93.8 319.6,93.8" fill="#ffa4a4" fill-opacity="0.45"/>
<polygon points="392,89 393,90 394,91 395,92 396,93 397,94 398,94.2 399,93.2 400,92.2 401,91.2 402,90.2 403,89.2 404,89.9 405,90.9 406,91.9 407,92.9 408,93.9 409,94.3 410,93.3 411,92.3 412,91.3 413,90.3 414,89.3 415,89.7 416,90.7 417,91.7 418,92.7 419,93.7 420,94.5 421,93.5 422,92.5 423,91.5 424,90.5 425,89.5 426,89.6 427,90.6 428,91.6 429,92.6 430,93.6 431,94.6 432,93.6 433,92.6 434,91.6 435,90.6 436,89.6 437,89.4 438,90.4 439,91.4 440,92.4 441,93.4 442,94.4 443,93.8 444,92.8 445,91.8 446,90.8 447,89.8 448,89.3 449,90.3 450,91.3 451,92.3 452,93.3 453,94.3 454,93.9 455,92.9 456,91.9 457,90.9 458,89.9 459,89.1 460,90.1 461,91.1 462,92.1 463,93.1 464,94.1 465,94.1 466,93.1 467,92.1 468,91.1 469,90.1 470,89.1 471,90 472,91 473,92 474,93 475,94 476,94.2 477,93.2 478,92.2 479,91.2 480,90.2 481,89.2 482,89.8 483,90.8 484,91.8 485,92.8 486,93.8 487,94.4 488,93.4 489,92.4 490,91.4 491,90.4 492,89.4 493,89.7 494,90.7 495,91.7 496,92.7 497,93.7 498,94.5 499,93.5 500,92.5 501,91.5 502,90.5 503,89.5 504,89.5 505,90.5 506,91.5 507,92.5 508,93.5 509,94.5 510,93.7 511,92.7 512,91.7 513,90.7 514,89.7 515,89.4 516,90.4 517,91.4 518,92.4 519,93.4 520,94.4 521,93.8 522,92.8 523,91.8 524,90.8 525,89.8 526,89.2 527,90.2 528,91.2 529,92.2 530,93.2 531,94.2 532,94 533,93 534,92 535,91 536,90 537,89.1 538,90.1 539,91.1 540,92.1 541,93.1 542,94.1 542.5,94.6 542.5,94.9 542,94.9 541,94.9 540,94.9 539,94.9 538,94.9 537,94.9 536,94.9 535,94.9 534,94.9 533,94.9 532,94.9 531,94.9 530,94.9 529,94.9 528,94.9 527,94.9 526,94.9 525,94.9 524,94.9 523,94.9 522,94.9 521,94.9 520,94.9 519,94.9 518,94.9 517,94.9 516,94.9 515,94.9 514,94.9 513,94.9 512,94.9 511,94.9 510,94.9 509,94.9 508,94.9 507,94.9 506,94.9 505,94.9 504,94.9 503,94.9 502,94.9 501,94.9 500,94.9 499,94.9 498,94.9 497,94.9 496,94.9 495,94.9 494,94.9 493,94.9 492,94.9 491,94.9 490,94.9 489,94.9 488,94.9 487,94.9 486,94.9 485,94.9 484,94.9 483,94.9 482,94.9 481,94.9 480,94.9 479,94.9 478,94.9 477,94.9 476,94.9 475,94.9 474,94.9 473,94.9 472,94.9 471,94.9 470,94.9 469,94.9 468,94.9 467,94.9 466,94.9 465,94.9 464,94.9 463,94.9 462,94.9 461,94.9 460,94.9 459,94.9 458,94.9 457,94.9 456,94.9 455,94.9 454,94.9 453,94.9 452,94.9 451,94.9 450,94.9 449,94.9 448,94.9 447,94.9 446,94.9 445,94.9 444,94.9 443,94.9 442,94.9 441,94.9 440,94.9 439,94.9 438,94.9 437,94.9 436,94.9 435,94.9 434,94.9 433,94.9 432,94.9 431,94.9 430,94.9 429,94.9 428,94.9 427,94.9 426,94.9 425,94.9 424,94.9 423,94.9 422,94.9 421,94.9 420,94.9 419,94.9 418,94.9 417,94.9 416,94.9 415,94.9 414,94.9 413,94.9 412,94.9 411,94.9 410,94.9 409,94.9 408,94.9 407,94.9 406,94.9 405,94.9 404,94.9 403,94.9 402,94.9 401,94.9 400,94.9 399,94.9 398,94.9 397,94.9 396,94.9 395,94.9 394,94.9 393,94.9 392,94.9" fill="#ffa4a4" fill-opacity="0.6"/>
<path d="M321.7 56.8h1.1L322.3 61.1zM323 94h2.9L324.5 82zM326.2 56.8h1.1L326.7 61.8zM327.5 94h2.9L329 81.8zM330.6 56.8h1.1L331.2 61zM332 94h2.9L333.4 81.6zM335.1 56.8h1.1L335.7 61.7zM336.4 94h2.9L337.9 80.6zM339.6 56.8h1.1L340.1 60zM340.9 94h2.9L342.3 81zM344 56.8h1.1L344.6 59.6zM345.3 94h2.9L346.8 81.8zM348.5 56.8h1.1L349 61.3zM349.8 94h2.9L351.3 83.8zM352.9 56.8h1.1L353.5 62.4zM354.3 94h2.9L355.7 83.2zM357.4 56.8h1.1L358 60.8zM358.7 94h2.9L360.2 81.4zM361.9 55.5h1.1L362.4 60.9zM363.2 90.6h2.9L364.6 81.6zM366.3 53h1.1L366.9 56.4zM367.6 87h2.9L369.1 81.6zM370.8 56.1h1.1L371.3 58.6zM372.1 84.9h2.9L373.6 81.2zM375.2 62.6h1.1L375.8 64zM376.6 87.9h2.9L378 86.3zM379.7 70.8h1.1L380.3 71.8zM381 92.1h2.9L382.5 90.4zM385.5 94.6h2.9L386.9 92.7zM388.6 80.4h1.1L389.2 81.3zM389.9 95h2.9L391.4 91zM393.1 76h1.1L393.6 77.1zM394.4 95h2.9L395.9 91.8zM397.5 76h1.1L398.1 77zM398.9 95h2.9L400.3 92.1zM402 76h1.1L402.6 76.9zM403.3 95h2.9L404.8 91.5zM406.5 76h1.1L407 77.2zM407.8 95h2.9L409.2 92.6zM410.9 76h1.1L411.5 77.4zM412.2 95h2.9L413.7 92zM415.4 76h1.1L415.9 77.3zM416.7 95h2.9L418.2 90.9zM419.8 76h1.1L420.4 77.4zM421.2 95h2.9L422.6 92.3zM424.3 76h1.1L424.9 77.1zM425.6 95.1h2.9L427.1 90.7zM428.8 76h1.1L429.3 76.9zM430.1 95.1h2.9L431.5 92.7zM433.2 76.1h1.1L433.8 77.2zM434.5 95.1h2.9L436 91.7zM437.7 76.1h1.1L438.2 77.4zM439 95.1h2.9L440.5 91zM442.1 76.1h1.1L442.7 77.2zM443.5 95.1h2.9L444.9 90.5zM446.6 76.1h1.1L447.2 77.2zM447.9 95.1h2.9L449.4 91.6zM451.1 76.1h1.1L451.6 77.3zM452.4 95.1h2.9L453.8 91.9zM455.5 76.1h1.1L456.1 77.1zM456.8 95.1h2.9L458.3 91.4zM460 76.1h1.1L460.5 77.1zM461.3 95.1h2.9L462.8 90.6zM464.4 76.1h1.1L465 77.3zM465.8 95.1h2.9L467.2 91.6zM468.9 76.1h1.1L469.5 77zM470.2 95.1h2.9L471.7 91.9zM473.4 76.1h1.1L473.9 77.2zM474.7 95.1h2.9L476.1 91.5zM477.8 76.1h1.1L478.4 77.3zM479.1 95.1h2.9L480.6 90.8zM482.3 76.1h1.1L482.8 77.5zM483.6 95.1h2.9L485.1 91.7zM486.7 76.1h1.1L487.3 77.2zM488.1 95.1h2.9L489.5 91.4zM491.2 76.1h1.1L491.8 77.5zM492.5 95.1h2.9L494 92zM495.7 76.1h1.1L496.2 77.3zM497 95.1h2.9L498.4 90.9zM500.1 76.1h1.1L500.7 77.1zM501.4 95.1h2.9L502.9 92.1zM504.6 76.1h1.1L505.1 77.5zM505.9 95.2h2.9L507.4 90.9zM509 76.2h1.1L509.6 77.3zM510.4 95.2h2.9L511.8 92.6zM513.5 76.2h1.1L514.1 77.5zM514.8 95.2h2.9L516.3 91.2zM518 76.2h1.1L518.5 77.5zM519.3 95.2h2.9L520.7 90.5zM522.4 76.2h1.1L523 77.5zM523.7 95.2h2.9L525.2 91.9zM526.9 76.2h1.1L527.4 77.1zM528.2 95.2h2.9L529.7 92.2zM531.3 76.2h1.1L531.9 77.3zM532.7 95.2h2.9L534.1 91.7zM535.8 76.2h1.1L536.4 77.1zM537.1 95.2h2.9L538.6 92.4zM540.3 76.2h1.1L540.8 77.4z" fill="#ffbcbc" fill-opacity="1.0" stroke="#ffbcbc" stroke-width="0.5" stroke-opacity="1.0"/>
<polygon points="319.6,119.7 320.6,119.5 321.6,120 322.6,119.7 323.6,119.3 324.6,119.6 325.6,119.9 326.6,119.5 327.6,119.8 328.6,119.3 329.6,119.5 330.6,119.9 331.6,119.7 332.6,119.8 333.6,119.4 334.6,119.6 335.6,119.7 336.6,119.5 337.6,119.8 338.6,119.7 339.6,120 340.6,119.7 341.6,119.6 342.6,119.4 343.6,119.4 344.6,119.8 345.6,119.4 346.6,119.4 347.6,119.4 348.6,119.7 349.6,119.9 350.6,119.7 351.6,119.9 352.6,119.3 353.6,119.3 354.6,119.8 355.6,119.5 356.6,119.8 357.6,119.5 358.6,119.4 359.6,119.5 360.6,119.4 361.6,119.9 362.6,120.2 363.6,120.5 364.6,121.1 365.6,121.6 366.6,121.8 367.6,122.9 368.6,123.2 369.6,124 370.6,124.1 371.6,124.7 372.6,125.2 373.6,125.9 374.6,127.4 375.6,128.2 376.6,128.7 377.6,130 378.6,130.8 379.6,131.3 380.6,132.4 381.6,133.5 382.6,134.1 383.6,135.1 384.6,134 385.6,133.4 386.6,133 387.6,132 388.6,131.5 389.6,131.3 390.6,130.5 391.6,130.1 392.6,129.2 393.6,128.6 394.6,128.4 395.6,127.8 396.6,128 397.6,127.1 398.6,126.9 399.6,126.6 400.6,126.9 401.6,126.8 402.6,126.8 403.6,126.5 404.6,126.6 405.6,127.1 406.6,126.7 407.6,126.7 408.6,126.6 409.6,126.7 410.6,126.7 411.6,126.5 412.6,127 413.6,126.7 414.6,126.6 415.6,127 416.6,126.6 417.6,126.7 418.6,127.1 419.6,126.6 420.6,126.8 421.6,127.1 422.6,127.1 423.6,126.6 424.6,126.7 425.6,127 426.6,126.8 427.6,127.2 428.6,126.6 429.6,127.2 430.6,126.9 431.6,126.7 432.6,126.8 433.6,126.6 434.6,127 435.6,126.7 436.6,127.1 437.6,126.9 438.6,126.8 439.6,126.7 440.6,126.9 441.6,126.6 442.6,127.1 443.6,126.6 444.6,126.9 445.6,126.9 446.6,126.7 447.6,127 448.6,126.8 449.6,127 450.6,126.9 451.6,126.7 452.6,126.8 453.6,126.6 454.6,126.6 455.6,127.1 456.6,126.7 457.6,127 458.6,126.6 459.6,126.9 460.6,126.8 461.6,126.9 462.6,126.7 463.6,126.5 464.6,126.7 465.6,126.7 466.6,126.6 467.6,127 468.6,126.7 469.6,126.8 470.6,127.1 471.6,127 472.6,127.1 473.6,127.1 474.6,126.6 475.6,126.7 476.6,126.5 477.6,127 478.6,127 479.6,126.7 480.6,126.8 481.6,127 482.6,127 483.6,126.7 484.6,127.1 485.6,126.7 486.6,126.9 487.6,126.6 488.6,126.6 489.6,127.1 490.6,127 491.6,127 492.6,126.5 493.6,126.5 494.6,126.6 495.6,126.6 496.6,126.7 497.6,126.8 498.6,126.5 499.6,126.7 500.6,126.9 501.6,126.6 502.6,127.1 503.6,126.9 504.6,127 505.6,126.7 506.6,126.8 507.6,127 508.6,126.7 509.6,126.5 510.6,127.1 511.6,127 512.6,126.7 513.6,126.5 514.6,127.1 515.6,126.9 516.6,126.5 517.6,126.7 518.6,126.6 519.6,127.1 520.6,126.6 521.6,127.1 522.6,127 523.6,126.6 524.6,127 525.6,126.8 526.6,127 527.6,127.1 528.6,126.7 529.6,126.6 530.6,127.2 531.6,126.8 532.6,127.2 533.6,127 534.6,127 535.6,127.1 536.6,126.9 537.6,126.8 538.6,126.5 539.6,127 540.6,126.8 541.6,126.9 542.6,127.1 542.7,126.6 542.7,154.7 542.6,154.4 541.6,154.8 540.6,154.3 539.6,154.3 538.6,154.5 537.6,154.3 536.6,154.5 535.6,154.3 534.6,154.6 533.6,154.4 532.6,154.7 531.6,154.8 530.6,154.5 529.6,154.9 528.6,154.6 527.6,154.7 526.6,154.9 525.6,154.4 524.6,154.8 523.6,154.4 522.6,154.5 521.6,154.2 520.6,154.8 519.6,154.6 518.6,154.3 517.6,154.8 516.6,154.4 515.6,154.2 514.6,154.8 513.6,154.4 512.6,154.4 511.6,154.5 510.6,154.3 509.6,154.6 508.6,154.8 507.6,154.6 506.6,154.8 505.6,154.5 504.6,154.5 503.6,154.8 502.6,154.5 501.6,154.7 500.6,154.5 499.6,154.6 498.6,154.7 497.6,154.5 496.6,154.8 495.6,154.7 494.6,154.3 493.6,154.8 492.6,154.5 491.6,154.3 490.6,154.8 489.6,154.8 488.6,154.6 487.6,154.5 486.6,154.5 485.6,154.6 484.6,154.5 483.6,154.6 482.6,154.4 481.6,154.8 480.6,154.6 479.6,154.4 478.6,154.8 477.6,154.9 476.6,154.3 475.6,154.7 474.6,154.7 473.6,154.4 472.6,154.6 471.6,154.2 470.6,154.5 469.6,154.7 468.6,154.5 467.6,154.4 466.6,154.9 465.6,154.3 464.6,154.5 463.6,154.2 462.6,154.2 461.6,154.3 460.6,154.3 459.6,154.2 458.6,154.6 457.6,154.7 456.6,154.8 455.6,154.8 454.6,154.7 453.6,154.5 452.6,154.6 451.6,154.7 450.6,154.8 449.6,154.3 448.6,154.3 447.6,154.4 446.6,154.6 445.6,154.7 444.6,154.6 443.6,154.5 442.6,154.4 441.6,154.7 440.6,154.6 439.6,154.3 438.6,154.3 437.6,154.3 436.6,154.9 435.6,154.4 434.6,154.8 433.6,154.6 432.6,154.9 431.6,154.8 430.6,154.2 429.6,154.6 428.6,154.8 427.6,154.4 426.6,154.8 425.6,154.5 424.6,154.7 423.6,154.8 422.6,154.6 421.6,154.6 420.6,154.2 419.6,154.3 418.6,154.4 417.6,154.3 416.6,154.5 415.6,154.5 414.6,154.9 413.6,154.7 412.6,154.3 411.6,154.6 410.6,154.5 409.6,154.6 408.6,154.7 407.6,154.3 406.6,154.8 405.6,154.7 404.6,154.4 403.6,154.3 402.6,154.4 401.6,154.8 400.6,154.3 399.6,154.3 398.6,154.3 397.6,154.5 396.6,154.3 395.6,153.8 394.6,153.8 393.6,154.2 392.6,153.5 391.6,152.9 390.6,152.3 389.6,151.4 388.6,150.6 387.6,150.3 386.6,149.8 385.6,149.1 384.6,149.2 383.6,148.3 382.6,149.5 381.6,150.4 380.6,151.5 379.6,152.9 378.6,153.7 377.6,154.5 376.6,155.8 375.6,157.3 374.6,157.6 373.6,158.2 372.6,159.6 371.6,160.4 370.6,161.1 369.6,161.7 368.6,162.4 367.6,163.3 366.6,163.5 365.6,163.3 364.6,163.1 363.6,163.5 362.6,163.4 361.6,163.6 360.6,163.5 359.6,163.3 358.6,163.4 357.6,163.5 356.6,163 355.6,163.1 354.6,163.3 353.6,163.2 352.6,163.1 351.6,163.5 350.6,163.1 349.6,163.2 348.6,163 347.6,163.4 346.6,163.2 345.6,163.5 344.6,163 343.6,163.4 342.6,163.4 341.6,162.9 340.6,163.3 339.6,163.2 338.6,163.4 337.6,163.4 336.6,163.1 335.6,163.1 334.6,163.5 333.6,163.4 332.6,163.5 331.6,163.3 330.6,163.3 329.6,163.6 328.6,163.4 327.6,163.2 326.6,163.2 325.6,162.9 324.6,163.2 323.6,163.4 322.6,163 321.6,163.1 320.6,163.6 319.6,163.1" fill="#000"/>
<polygon points="390,130.5 391,129.9 392,129.4 393,128.8 394,128.3 395,128 396,127.6 397,127.2 398,126.8 399,126.5 400,126.5 401,126.5 402,126.5 403,126.5 404,126.5 405,126.5 406,126.5 407,126.5 408,126.5 409,126.5 410,126.5 411,126.5 412,126.5 413,126.5 414,126.5 415,126.5 416,126.5 417,126.5 418,126.5 419,126.5 420,126.5 421,126.5 422,126.5 423,126.5 424,126.5 425,126.5 426,126.5 427,126.5 428,126.5 429,126.5 430,126.5 431,126.5 432,126.5 433,126.5 434,126.5 435,126.5 436,126.5 437,126.5 438,126.5 439,126.5 440,126.5 441,126.5 442,126.5 443,126.5 444,126.5 445,126.5 446,126.5 447,126.5 448,126.5 449,126.5 450,126.5 451,126.5 452,126.5 453,126.5 454,126.5 455,126.5 456,126.5 457,126.5 458,126.5 459,126.5 460,126.5 461,126.5 462,126.5 463,126.5 464,126.5 465,126.5 466,126.5 467,126.5 468,126.5 469,126.5 470,126.5 471,126.5 472,126.5 473,126.5 474,126.5 475,126.5 476,126.5 477,126.5 478,126.5 479,126.5 480,126.5 481,126.5 482,126.5 483,126.5 484,126.5 485,126.5 486,126.5 487,126.5 488,126.5 489,126.5 490,126.5 491,126.5 492,126.5 493,126.5 494,126.5 495,126.5 496,126.5 497,126.5 498,126.5 499,126.5 500,126.5 501,126.5 502,126.5 503,126.5 504,126.5 505,126.5 506,126.5 507,126.5 508,126.5 509,126.5 510,126.5 511,126.5 512,126.5 513,126.5 514,126.5 515,126.5 516,126.5 517,126.5 518,126.5 519,126.5 520,126.5 521,126.5 522,126.5 523,126.5 524,126.5 525,126.5 526,126.5 527,126.5 528,126.5 529,126.5 530,126.5 531,126.5 532,126.5 533,126.5 534,126.5 535,126.5 536,126.5 537,126.5 538,126.5 539,126.5 540,126.5 541,126.5 542,126.5 542.7,126.5 542.7,133.6 542,132.5 541,131 540,129.4 539,127.9 538,127.3 537,127.3 536,127.2 535,127.1 534,127 533,127 532,126.9 531,126.8 530,126.7 529,126.8 528,127 527,127.2 526,127.6 525,128.1 524,128.6 523,131.9 522,133.3 521,132.7 520,132.1 519,131.4 518,130.8 517,130.2 516,129.6 515,128.9 514,128.3 513,127.7 512,127.4 511,127.3 510,127.2 509,127.1 508,127.1 507,127 506,126.9 505,126.8 504,126.7 503,126.8 502,127 501,127.2 500,127.5 499,128 498,128.5 497,131.3 496,133.4 495,132.8 494,132.2 493,131.6 492,130.9 491,130.3 490,129.7 489,129.1 488,128.5 487,127.8 486,127.4 485,127.3 484,127.2 483,127.1 482,127.1 481,127 480,126.9 479,126.8 478,126.8 477,126.8 476,126.9 475,127.1 474,127.4 473,127.9 472,128.4 471,130.6 470,133.5 469,132.9 468,132.3 467,131.7 466,131.1 465,130.4 464,129.8 463,129.2 462,128.6 461,128 460,127.4 459,127.3 458,127.2 457,127.2 456,127.1 455,127 454,126.9 453,126.8 452,126.8 451,126.7 450,126.9 449,127.1 448,127.3 447,127.8 446,128.3 445,129.9 444,133.3 443,133 442,132.4 441,131.8 440,131.2 439,130.6 438,129.9 437,129.3 436,128.7 435,128.1 434,127.5 433,127.3 432,127.3 431,127.2 430,127.1 429,127 428,126.9 427,126.9 426,126.8 425,126.7 424,126.9 423,127.1 422,127.2 421,127.7 420,128.2 419,129.3 418,132.6 417,133.2 416,132.5 415,131.9 414,131.3 413,130.7 412,130.1 411,129.4 410,128.8 409,128.2 408,127.6 407,127.3 406,127.3 405,127.2 404,127.1 403,127 402,127 401,126.9 400,126.8 399,126.7 398,127 397,127.4 396,127.9 395,128.3 394,128.7 393,129.2 392,129.8 391,130.4 390,130.9" fill="#808080" fill-opacity="1"/>
<path d="M406.7 126.5V127.3M409 126.5V128.2M413.4 126.5V130.9M415.6 126.5V132.3M417.9 126.5V133M433.5 126.5V127.4M435.7 126.5V128.5M437.9 126.5V129.9M440.2 126.5V131.3M442.4 126.5V132.7M446.9 126.5V127.8M462.5 126.5V128.9M464.7 126.5V130.3M466.9 126.5V131.6M469.2 126.5V133M473.6 126.5V127.5M487 126.5V127.8M489.2 126.5V129.2M491.5 126.5V130.6M495.9 126.5V133.4M498.2 126.5V128.4M511.5 126.5V127.3M513.8 126.5V128.2M516 126.5V129.6M518.2 126.5V130.9M522.7 126.5V133M524.9 126.5V128.1" stroke="#000" stroke-width="0.8" fill="none"/>
<polygon points="390,149.1 391,149.3 392,149.6 393,149.8 394,150.1 395,150.4 396,150.7 397,150.9 398,151.2 399,151.5 400,151.8 401,152.1 402,152.3 403,152.6 404,152.9 405,147.6 406,148 407,148.4 408,148.8 409,149.2 410,149.6 411,150 412,150.4 413,150.8 414,151.2 415,151.6 416,152 417,152.4 418,152.8 419,153.2 420,153.6 421,154 422,154.4 423,154.6 424,154.6 425,154.7 426,154.7 427,154.7 428,154.7 429,154.8 430,154.8 431,147.5 432,147.9 433,148.3 434,148.7 435,149.1 436,149.5 437,149.9 438,150.3 439,150.7 440,151.1 441,151.5 442,151.9 443,152.3 444,152.7 445,153.1 446,153.5 447,153.9 448,154.3 449,154.6 450,154.6 451,154.7 452,154.7 453,154.7 454,154.7 455,154.8 456,154.8 457,147.4 458,147.8 459,148.2 460,148.6 461,149 462,149.4 463,149.8 464,150.2 465,150.6 466,151 467,151.4 468,151.8 469,152.2 470,152.6 471,153 472,153.4 473,153.8 474,154.2 475,154.6 476,154.6 477,154.7 478,154.7 479,154.7 480,154.7 481,154.8 482,154.8 483,154.8 484,147.8 485,148.2 486,148.6 487,149 488,149.4 489,149.8 490,150.2 491,150.6 492,151 493,151.4 494,151.8 495,152.2 496,152.6 497,153 498,153.4 499,153.8 500,154.2 501,154.6 502,154.6 503,154.6 504,154.7 505,154.7 506,154.7 507,154.7 508,154.8 509,154.8 510,147.7 511,148.1 512,148.5 513,148.9 514,149.3 515,149.7 516,150.1 517,150.5 518,150.9 519,151.3 520,151.7 521,152.1 522,152.5 523,152.9 524,153.3 525,153.7 526,154.1 527,154.5 528,154.6 529,154.6 530,154.7 531,154.7 532,154.7 533,154.7 534,154.8 535,154.8 536,147.9 537,148.9 538,149.9 539,150.9 540,151.9 541,152.9 542,153.9 542.7,154.6 542.7,154.9 542,154.9 541,154.9 540,154.9 539,154.9 538,154.9 537,154.9 536,154.9 535,154.9 534,154.9 533,154.9 532,154.9 531,154.9 530,154.9 529,154.9 528,154.9 527,154.9 526,154.9 525,154.9 524,154.9 523,154.9 522,154.9 521,154.9 520,154.9 519,154.9 518,154.9 517,154.9 516,154.9 515,154.9 514,154.9 513,154.9 512,154.9 511,154.9 510,154.9 509,154.9 508,154.9 507,154.9 506,154.9 505,154.9 504,154.9 503,154.9 502,154.9 501,154.9 500,154.9 499,154.9 498,154.9 497,154.9 496,154.9 495,154.9 494,154.9 493,154.9 492,154.9 491,154.9 490,154.9 489,154.9 488,154.9 487,154.9 486,154.9 485,154.9 484,154.9 483,154.9 482,154.9 481,154.9 480,154.9 479,154.9 478,154.9 477,154.9 476,154.9 475,154.9 474,154.9 473,154.9 472,154.9 471,154.9 470,154.9 469,154.9 468,154.9 467,154.9 466,154.9 465,154.9 464,154.9 463,154.9 462,154.9 461,154.9 460,154.9 459,154.9 458,154.9 457,154.9 456,154.9 455,154.9 454,154.9 453,154.9 452,154.9 451,154.9 450,154.9 449,154.9 448,154.9 447,154.9 446,154.9 445,154.9 444,154.9 443,154.9 442,154.9 441,154.9 440,154.9 439,154.9 438,154.9 437,154.9 436,154.9 435,154.9 434,154.9 433,154.9 432,154.9 431,154.9 430,154.9 429,154.9 428,154.9 427,154.9 426,154.9 425,154.9 424,154.9 423,154.9 422,154.9 421,154.9 420,154.9 419,154.9 418,154.9 417,154.9 416,154.9 415,154.9 414,154.9 413,154.9 412,154.9 411,154.9 410,154.9 409,154.9 408,154.9 407,154.9 406,154.9 405,154.9 404,154.9 403,154.9 402,154.9 401,154.9 400,154.9 399,154.8 398,154.7 397,154.6 396,154.5 395,154.4 394,154.2 393,153.8 392,153.3 391,152.7 390,152.1" fill="#808080" fill-opacity="1"/>
<path d="M391.1 149.4V152.7M393.3 149.9V154.1M395.6 150.5V154.4M397.8 151.2V154.7M404.5 147.7V154.9M406.7 148.3V154.9M411.2 150.1V154.9M413.4 151V154.9M415.6 151.9V154.9M417.9 152.8V154.9M431.3 147.6V154.9M435.7 149.4V154.9M437.9 150.3V154.9M440.2 151.2V154.9M442.4 152.1V154.9M446.9 153.9V154.9M458 147.8V154.9M460.2 148.7V154.9M462.5 149.6V154.9M464.7 150.5V154.9M466.9 151.4V154.9M469.2 152.3V154.9M471.4 153.2V154.9M473.6 154.1V154.9M484.8 148.1V154.9M487 149V154.9M489.2 149.9V154.9M491.5 150.7V154.9M495.9 152.5V154.9M498.2 153.4V154.9M509.3 147.4V154.9M511.5 148.3V154.9M513.8 149.2V154.9M516 150.1V154.9M518.2 151V154.9M520.5 151.9V154.9M522.7 152.8V154.9M538.3 150.2V154.9M540.5 152.4V154.9" stroke="#000" stroke-width="0.8" fill="none"/>
<path d="M321.3 118.9h1.9L322.3 128.8zM323.6 164h1.9L324.5 149.8zM325.8 118.9h1.9L326.7 128.9zM328 164h1.9L329 152.2zM330.3 118.9h1.9L331.2 127.8zM332.5 164h1.9L333.4 154.8zM334.7 118.9h1.9L335.7 125.3zM336.9 164h1.9L337.9 150.6zM339.2 118.9h1.9L340.1 129.6zM341.4 164h1.9L342.3 149.2zM343.6 118.9h1.9L344.6 128.2zM345.9 164h1.9L346.8 155.4zM348.1 118.9h1.9L349 128.8zM350.3 164h1.9L351.3 151.1zM352.6 118.9h1.9L353.5 126.9zM354.8 164h1.9L355.7 152.2zM357 118.9h1.9L358 125.8zM359.2 164h1.9L360.2 153zM361.5 119.3h1.9L362.4 126.4zM363.7 164h1.9L364.6 157.8zM365.9 121.5h1.9L366.9 127.2zM368.2 162.8h1.9L369.1 154.7zM370.4 123.8h1.9L371.3 131.8zM372.6 159.3h1.9L373.6 152zM374.9 127.4h1.9L375.8 131.1zM377.1 155.1h1.9L378 151.3zM379.3 131.3h1.9L380.3 133.3zM381.5 150.1h1.9L382.5 148.4zM383.8 133.3h1.9L384.7 134.3zM386 150.8h1.9L386.9 149.7zM390.5 153.3h1.9L391.4 149.7z" fill="#939393" fill-opacity="1.0" stroke="#939393" stroke-width="0.5" stroke-opacity="1.0"/>
<path d="M319.6 105.4H372L384 106.6H542.7" stroke="#46ee46" stroke-width="1.1" fill="none"/>
<path d="M321.8 31.1V32.4M326.3 31.1V32.4M330.8 31.2V32.5M335.2 31V32.3M339.7 31V32.2M344.1 30.9V32.1M348.6 31V32.3M353 31V32.3M357.5 31.2V32.6M362 31V32.3M366.4 26.6V27.6M370.9 21V21.5M375.3 18.7V19.1M388.7 29.1V29.8" stroke="#8c8cff" stroke-width="2.1" fill="none"/>
<path d="M321.8 29.1V31.3M326.3 29.1V31.3M330.8 29.1V31.4M335.2 29.1V31.2M339.7 29.1V31.2M344.1 29.1V31.1M348.6 29.1V31.2M353 29.1V31.2M357.5 29.1V31.4M362 29.1V31.2M366.4 25.1V26.8M370.9 20.1V21.2M375.3 18.2V18.9M388.7 28V29.3" stroke="#0a0aff" stroke-width="2.6" fill="none"/>
<polygon points="319.6,26.6 320.6,26.7 321.6,27 322.6,27.2 323.6,26.8 324.6,27.1 325.6,26.8 326.6,27.2 327.6,26.6 328.6,26.9 329.6,27.2 330.6,26.7 331.6,26.7 332.6,26.6 333.6,26.7 334.6,26.7 335.6,27 336.6,26.7 337.6,26.8 338.6,26.7 339.6,27 340.6,27.2 341.6,27 342.6,26.7 343.6,27.1 344.6,27.2 345.6,27 346.6,26.6 347.6,27.1 348.6,27.2 349.6,26.8 350.6,26.6 351.6,26.7 352.6,26.9 353.6,27.2 354.6,27 355.6,27.2 356.6,26.7 357.6,26.8 358.6,27.1 359.6,27 360.6,26.8 361.6,27 362.6,25.9 363.6,24.7 364.6,23.9 365.6,22.6 366.6,21.9 367.6,20.6 368.6,19.6 369.6,18.5 370.6,17.6 371.6,17.3 372.6,16.6 373.6,16.8 374.6,16.2 375.6,16.6 376.6,16.3 377.6,17.1 378.6,17.5 379.6,17.9 380.6,18.7 381.6,19.6 382.6,20.5 383.6,21.8 384.6,22.3 385.6,23.7 386.6,24.3 387.6,25.3 388.6,26.3 389.6,26.5 390,26.6 390,28.8 389.6,28.5 388.6,28.8 387.6,27.4 386.6,26.7 385.6,25.9 384.6,24.6 383.6,23.8 382.6,23 381.6,22.1 380.6,21.2 379.6,20.3 378.6,19.9 377.6,19.8 376.6,19.4 375.6,18.7 374.6,18.8 373.6,18.9 372.6,20 371.6,20.2 370.6,20.9 369.6,21.3 368.6,23 367.6,23.8 366.6,25.6 365.6,26.3 364.6,27.3 363.6,28.4 362.6,28.9 361.6,29.8 360.6,29.6 359.6,29.9 358.6,29.4 357.6,29.8 356.6,29.3 355.6,29.4 354.6,29.9 353.6,29.8 352.6,29.4 351.6,29.4 350.6,29.5 349.6,29.9 348.6,29.4 347.6,29.6 346.6,29.6 345.6,29.3 344.6,29.3 343.6,29.3 342.6,29.3 341.6,29.8 340.6,29.4 339.6,29.9 338.6,29.5 337.6,29.8 336.6,29.7 335.6,29.6 334.6,29.3 333.6,29.3 332.6,29.9 331.6,29.6 330.6,29.4 329.6,29.6 328.6,29.9 327.6,29.8 326.6,29.5 325.6,29.8 324.6,29.8 323.6,29.7 322.6,29.4 321.6,29.8 320.6,29.5 319.6,29.7" fill="#0a0aff"/>
<path d="M390.6 30.6V31.7M392.8 30.8V32.1M395.1 30.8V32.1M397.3 30.6V31.7M399.5 30.8V32.1M401.8 30.8V32.1M404 30.6V31.8M406.2 30.6V31.8M408.5 30.7V31.9M410.7 30.9V32.2M412.9 30.6V31.7M415.1 30.8V32M417.4 30.7V32M419.6 30.7V31.9M421.8 30.7V32M424.1 30.9V32.2M426.3 30.6V31.7M428.5 30.9V32.2M430.8 30.6V31.8M433 30.8V32.1M435.2 30.8V32.1M437.4 30.6V31.7M439.7 30.8V32.1M441.9 30.9V32.2M444.1 30.6V31.8M446.4 30.5V31.6M448.6 30.5V31.6M450.8 30.9V32.2M453.1 30.5V31.6M455.3 30.9V32.2M457.5 30.6V31.7M459.7 30.8V32.1M462 30.5V31.6M464.2 30.6V31.7M466.4 30.8V32M468.7 30.5V31.6M470.9 30.6V31.8M473.1 30.9V32.2M475.4 30.8V32M477.6 30.9V32.2M479.8 30.9V32.2M482 30.5V31.6M484.3 30.6V31.7M486.5 30.8V32.1M488.7 30.8V32M491 30.5V31.6M493.2 30.7V31.9M495.4 30.6V31.7M497.7 30.7V31.9M499.9 30.5V31.6M502.1 30.5V31.6M504.3 30.9V32.2M506.6 30.6V31.8M508.8 30.9V32.2M511 30.5V31.6M513.3 30.7V31.9M515.5 30.6V31.7M517.7 30.7V31.8M520 30.6V31.7M522.2 30.8V32M524.4 30.6V31.7M526.6 30.8V32.1M528.9 30.7V31.9M531.1 30.5V31.6M533.3 30.6V31.8M535.6 30.7V31.9M537.8 30.9V32.2M540 30.6V31.8M542.3 30.6V31.7" stroke="#8c8cff" stroke-width="0.8" fill="none"/>
<path d="M390.6 28.9V30.8M392.8 28.9V31M395.1 28.9V31M397.3 28.9V30.8M399.5 28.9V31M401.8 28.9V31M404 28.9V30.8M406.2 28.9V30.8M408.5 28.9V30.9M410.7 28.9V31.1M412.9 28.9V30.8M415.1 28.9V31M417.4 28.9V30.9M419.6 28.9V30.9M421.8 28.9V30.9M424.1 28.9V31.1M426.3 28.9V30.8M428.5 28.9V31.1M430.8 28.9V30.8M433 28.9V31M435.2 28.9V31M437.4 28.9V30.8M439.7 28.9V31M441.9 28.9V31.1M444.1 28.9V30.8M446.4 28.9V30.7M448.6 28.9V30.7M450.8 28.9V31.1M453.1 28.9V30.7M455.3 28.9V31.1M457.5 28.9V30.8M459.7 28.9V31M462 28.9V30.7M464.2 28.9V30.8M466.4 28.9V31M468.7 28.9V30.7M470.9 28.9V30.8M473.1 28.9V31.1M475.4 28.9V31M477.6 28.9V31.1M479.8 28.9V31.1M482 28.9V30.7M484.3 28.9V30.8M486.5 28.9V31M488.7 28.9V31M491 28.9V30.7M493.2 28.9V30.9M495.4 28.9V30.8M497.7 28.9V30.9M499.9 28.9V30.7M502.1 28.9V30.7M504.3 28.9V31.1M506.6 28.9V30.8M508.8 28.9V31.1M511 28.9V30.7M513.3 28.9V30.9M515.5 28.9V30.8M517.7 28.9V30.9M520 28.9V30.8M522.2 28.9V31M524.4 28.9V30.8M526.6 28.9V31M528.9 28.9V30.9M531.1 28.9V30.7M533.3 28.9V30.8M535.6 28.9V30.9M537.8 28.9V31.1M540 28.9V30.8M542.3 28.9V30.8" stroke="#0a0aff" stroke-width="1" fill="none"/>
<path d="M391.7 26.2V27.6M396.2 26.2V27.6M400.6 26.3V27.6M405.1 26.5V27.6M409.6 26.5V27.6M414 26.5V27.6M418.5 26.5V27.6M422.9 26.5V27.6M427.4 26.4V27.6M431.9 26.4V27.6M436.3 26.4V27.6M440.8 26.4V27.6M445.2 26.6V27.6M449.7 26.3V27.6M454.2 26.3V27.6M458.6 26.4V27.6M463.1 26.4V27.6M467.5 26.3V27.6M472 26.2V27.6M476.5 26.2V27.6M480.9 26.3V27.6M485.4 26.4V27.6M489.8 26.4V27.6M494.3 26.4V27.6M498.8 26.2V27.6M503.2 26.4V27.6M507.7 26.4V27.6M512.1 26.4V27.6M516.6 26.5V27.6M521.1 26.2V27.6M525.5 26.6V27.6M530 26.3V27.6M534.4 26.2V27.6M538.9 26.5V27.6" stroke="#8c8cff" stroke-width="1" fill="none"/>
<polygon points="389.5,27.2 390.5,27 391.5,26.9 392.5,26.9 393.5,26.8 394.5,27.3 395.5,27.3 396.5,27.4 397.5,26.8 398.5,27.2 399.5,27 400.5,27.2 401.5,27.1 402.5,27 403.5,27.4 404.5,26.8 405.5,27.3 406.5,27.3 407.5,27.1 408.5,27.2 409.5,27.4 410.5,26.9 411.5,27.2 412.5,27.3 413.5,27 414.5,27.2 415.5,27 416.5,27.1 417.5,27.2 418.5,27.2 419.5,27 420.5,27.2 421.5,27.1 422.5,26.9 423.5,27.2 424.5,26.9 425.5,27.4 426.5,27.1 427.5,27.3 428.5,27.1 429.5,27.1 430.5,26.9 431.5,26.8 432.5,27.4 433.5,27.1 434.5,27.1 435.5,27.1 436.5,27.3 437.5,26.9 438.5,26.9 439.5,27.3 440.5,27.1 441.5,27.2 442.5,27.3 443.5,27.4 444.5,27.4 445.5,26.8 446.5,27 447.5,27.3 448.5,27.3 449.5,26.8 450.5,26.9 451.5,26.9 452.5,26.8 453.5,27 454.5,27.3 455.5,27.1 456.5,27.1 457.5,26.8 458.5,27 459.5,27.4 460.5,27.2 461.5,27.1 462.5,27.1 463.5,27.3 464.5,27.3 465.5,26.9 466.5,27.2 467.5,27 468.5,27.1 469.5,26.9 470.5,27 471.5,27 472.5,27 473.5,26.8 474.5,26.9 475.5,27.1 476.5,26.8 477.5,26.9 478.5,27.3 479.5,26.9 480.5,27 481.5,26.9 482.5,27.3 483.5,26.8 484.5,27.2 485.5,27.4 486.5,26.9 487.5,27 488.5,27.3 489.5,27.2 490.5,27 491.5,26.8 492.5,27.1 493.5,27 494.5,27.2 495.5,27 496.5,27 497.5,27.2 498.5,27.3 499.5,27 500.5,27 501.5,27.2 502.5,27.4 503.5,26.9 504.5,27.4 505.5,27.2 506.5,27 507.5,27.2 508.5,27 509.5,26.8 510.5,27.3 511.5,27 512.5,27.1 513.5,27.1 514.5,27.4 515.5,27.3 516.5,26.8 517.5,27.2 518.5,27.1 519.5,27.1 520.5,27.3 521.5,27 522.5,27.1 523.5,27.4 524.5,27.1 525.5,27.1 526.5,27.1 527.5,27.3 528.5,27.2 529.5,27.3 530.5,27 531.5,26.8 532.5,27.2 533.5,27.1 534.5,27.3 535.5,27.3 536.5,26.8 537.5,26.9 538.5,26.8 539.5,27.3 540.5,26.8 541.5,26.8 542.5,27.3 542.7,27.1 542.7,29.4 542.5,29.1 541.5,29.3 540.5,29.6 539.5,29.2 538.5,29.6 537.5,29.2 536.5,29.4 535.5,29.3 534.5,29.1 533.5,29.5 532.5,29.7 531.5,29.3 530.5,29.7 529.5,29.5 528.5,29.1 527.5,29.7 526.5,29.2 525.5,29.6 524.5,29.7 523.5,29.2 522.5,29.1 521.5,29.1 520.5,29.4 519.5,29.5 518.5,29.7 517.5,29.4 516.5,29.1 515.5,29.7 514.5,29.4 513.5,29.6 512.5,29.3 511.5,29.3 510.5,29.4 509.5,29.7 508.5,29.7 507.5,29.7 506.5,29.1 505.5,29.6 504.5,29.1 503.5,29.5 502.5,29.4 501.5,29.6 500.5,29.4 499.5,29.1 498.5,29.4 497.5,29.2 496.5,29.5 495.5,29.3 494.5,29.1 493.5,29.3 492.5,29.7 491.5,29.6 490.5,29.2 489.5,29.6 488.5,29.3 487.5,29.7 486.5,29.2 485.5,29.4 484.5,29.3 483.5,29.5 482.5,29.2 481.5,29.3 480.5,29.6 479.5,29.1 478.5,29.5 477.5,29.1 476.5,29.2 475.5,29.5 474.5,29.7 473.5,29.2 472.5,29.5 471.5,29.3 470.5,29.7 469.5,29.6 468.5,29.1 467.5,29.1 466.5,29.2 465.5,29.7 464.5,29.2 463.5,29.6 462.5,29.2 461.5,29.3 460.5,29.5 459.5,29.5 458.5,29.4 457.5,29.6 456.5,29.4 455.5,29.7 454.5,29.2 453.5,29.5 452.5,29.1 451.5,29.7 450.5,29.1 449.5,29.5 448.5,29.4 447.5,29.1 446.5,29.7 445.5,29.4 444.5,29.7 443.5,29.4 442.5,29.5 441.5,29.6 440.5,29.5 439.5,29.3 438.5,29.6 437.5,29.2 436.5,29.3 435.5,29.4 434.5,29.3 433.5,29.4 432.5,29.3 431.5,29.1 430.5,29.4 429.5,29.7 428.5,29.2 427.5,29.6 426.5,29.3 425.5,29.5 424.5,29.4 423.5,29.4 422.5,29.3 421.5,29.4 420.5,29.1 419.5,29.2 418.5,29.2 417.5,29.6 416.5,29.6 415.5,29.7 414.5,29.3 413.5,29.1 412.5,29.3 411.5,29.4 410.5,29.4 409.5,29.7 408.5,29.2 407.5,29.3 406.5,29.2 405.5,29.2 404.5,29.7 403.5,29.1 402.5,29.4 401.5,29.3 400.5,29.2 399.5,29.7 398.5,29.6 397.5,29.7 396.5,29.5 395.5,29.3 394.5,29.5 393.5,29.1 392.5,29.4 391.5,29.5 390.5,29.5 389.5,29.1" fill="#0a0aff"/>
<path d="M319.6 10.1h1.9M542.7 10.1h-1.9M319.6 14.6h1.9M542.7 14.6h-1.9M319.6 19.1h1.9M542.7 19.1h-1.9M319.6 23.6h1.9M542.7 23.6h-1.9M319.6 28.1h3.6M542.7 28.1h-3.6M319.6 32.6h1.9M542.7 32.6h-1.9M319.6 37.1h1.9M542.7 37.1h-1.9M319.6 41.6h1.9M542.7 41.6h-1.9M319.6 46.1h1.9M542.7 46.1h-1.9M319.6 50.6h3.6M542.7 50.6h-3.6M319.6 55.1h1.9M542.7 55.1h-1.9M319.6 59.6h1.9M542.7 59.6h-1.9M319.6 64.1h1.9M542.7 64.1h-1.9M319.6 68.6h1.9M542.7 68.6h-1.9M319.6 73.1h3.6M542.7 73.1h-3.6M319.6 77.6h1.9M542.7 77.6h-1.9M319.6 82.1h1.9M542.7 82.1h-1.9M319.6 86.6h1.9M542.7 86.6h-1.9M319.6 91.1h1.9M542.7 91.1h-1.9M319.6 95.6h3.6M542.7 95.6h-3.6M319.6 100.1h1.9M542.7 100.1h-1.9M319.6 104.6h1.9M542.7 104.6h-1.9M319.6 109.1h1.9M542.7 109.1h-1.9M319.6 113.6h1.9M542.7 113.6h-1.9M319.6 118.1h3.6M542.7 118.1h-3.6M319.6 122.6h1.9M542.7 122.6h-1.9M319.6 127.1h1.9M542.7 127.1h-1.9M319.6 131.6h1.9M542.7 131.6h-1.9M319.6 136.1h1.9M542.7 136.1h-1.9M319.6 140.6h3.6M542.7 140.6h-3.6M319.6 145.1h1.9M542.7 145.1h-1.9M319.6 149.6h1.9M542.7 149.6h-1.9M319.6 154.1h1.9M542.7 154.1h-1.9M319.6 158.6h1.9M542.7 158.6h-1.9M319.6 163.1h3.6M542.7 163.1h-3.6M319.6 167.6h1.9M542.7 167.6h-1.9M319.6 172.1h1.9M542.7 172.1h-1.9M319.6 176.6h1.9M542.7 176.6h-1.9M319.6 181.1h1.9M542.7 181.1h-1.9M324.6 6.5v1.9M324.6 184.9v-1.9M329 6.5v1.9M329 184.9v-1.9M333.5 6.5v1.9M333.5 184.9v-1.9M337.9 6.5v1.9M337.9 184.9v-1.9M342.4 6.5v3.6M342.4 184.9v-3.6M346.9 6.5v1.9M346.9 184.9v-1.9M351.3 6.5v1.9M351.3 184.9v-1.9M355.8 6.5v1.9M355.8 184.9v-1.9M360.2 6.5v1.9M360.2 184.9v-1.9M364.7 6.5v3.6M364.7 184.9v-3.6M369.2 6.5v1.9M369.2 184.9v-1.9M373.6 6.5v1.9M373.6 184.9v-1.9M378.1 6.5v1.9M378.1 184.9v-1.9M382.5 6.5v1.9M382.5 184.9v-1.9M387 6.5v3.6M387 184.9v-3.6M391.5 6.5v1.9M391.5 184.9v-1.9M395.9 6.5v1.9M395.9 184.9v-1.9M400.4 6.5v1.9M400.4 184.9v-1.9M404.8 6.5v1.9M404.8 184.9v-1.9M409.3 6.5v3.6M409.3 184.9v-3.6M413.8 6.5v1.9M413.8 184.9v-1.9M418.2 6.5v1.9M418.2 184.9v-1.9M422.7 6.5v1.9M422.7 184.9v-1.9M427.1 6.5v1.9M427.1 184.9v-1.9M431.6 6.5v3.6M431.6 184.9v-3.6M436.1 6.5v1.9M436.1 184.9v-1.9M440.5 6.5v1.9M440.5 184.9v-1.9M445 6.5v1.9M445 184.9v-1.9M449.4 6.5v1.9M449.4 184.9v-1.9M453.9 6.5v3.6M453.9 184.9v-3.6M458.4 6.5v1.9M458.4 184.9v-1.9M462.8 6.5v1.9M462.8 184.9v-1.9M467.3 6.5v1.9M467.3 184.9v-1.9M471.7 6.5v1.9M471.7 184.9v-1.9M476.2 6.5v3.6M476.2 184.9v-3.6M480.7 6.5v1.9M480.7 184.9v-1.9M485.1 6.5v1.9M485.1 184.9v-1.9M489.6 6.5v1.9M489.6 184.9v-1.9M494 6.5v1.9M494 184.9v-1.9M498.5 6.5v3.6M498.5 184.9v-3.6M503 6.5v1.9M503 184.9v-1.9M507.4 6.5v1.9M507.4 184.9v-1.9M511.9 6.5v1.9M511.9 184.9v-1.9M516.3 6.5v1.9M516.3 184.9v-1.9M520.8 6.5v3.6M520.8 184.9v-3.6M525.3 6.5v1.9M525.3 184.9v-1.9M529.7 6.5v1.9M529.7 184.9v-1.9M534.2 6.5v1.9M534.2 184.9v-1.9M538.6 6.5v1.9M538.6 184.9v-1.9" stroke="#222" stroke-width="0.8" fill="none"/>
<rect x="319.6" y="6.5" width="223.1" height="178.4" fill="none" stroke="#000" stroke-width="1.25"/>
<path d="M319.6 28.8H312.1V34.4" stroke="#111" stroke-width="1.2" fill="none"/>
<path d="M306.9 34.4h10.4M309 37.3h6.2" stroke="#111" stroke-width="1.2" fill="none"/>
<path d="M310.5 40.1h3.2" stroke="#333" stroke-width="1.1" fill="none"/>
<path d="M319.6 74H310.8V79.6" stroke="#111" stroke-width="1.2" fill="none"/>
<path d="M305.6 79.6h10.4M307.7 82.5h6.2" stroke="#111" stroke-width="1.2" fill="none"/>
<path d="M309.2 85.3h3.2" stroke="#333" stroke-width="1.1" fill="none"/>
<path d="M319.6 106H312.6V111.6" stroke="#111" stroke-width="1.2" fill="none"/>
<path d="M307.4 111.6h10.4M309.5 114.5h6.2" stroke="#111" stroke-width="1.2" fill="none"/>
<path d="M311 117.3h3.2" stroke="#333" stroke-width="1.1" fill="none"/>
<path d="M319.6 140.8H310.4V146.4" stroke="#111" stroke-width="1.2" fill="none"/>
<path d="M305.2 146.4h10.4M307.3 149.3h6.2" stroke="#111" stroke-width="1.2" fill="none"/>
<path d="M308.8 152.1h3.2" stroke="#333" stroke-width="1.1" fill="none"/>
<text x="440.3" y="15.7" class="lb"><tspan font-size="11.5" font-style="italic">V</tspan><tspan font-size="7.5" font-style="italic" dy="2.9">O</tspan><tspan font-size="7.5">(ac)</tspan><tspan font-size="6.3" dy="-2.5">:</tspan><tspan font-size="6.8">CH1(1V/div)</tspan></text>
<path d="M472.5 19.7L467.4 23.1" stroke="#000" stroke-width="1.2" fill="none"/>
<polygon points="463.70,25.50 466.33,21.49 468.42,24.67" fill="#000"/>
<text x="358.3" y="46.5" class="lb"><tspan font-size="10.5" font-style="italic">v</tspan><tspan font-size="7.8" font-style="italic" dy="2.2">Cr</tspan><tspan font-size="7.8">(ac)</tspan><tspan font-size="6.3" dy="-2.5">:</tspan><tspan font-size="6.6">CH2(2V/div)</tspan></text>
<path d="M386.5 51L380.7 58.5" stroke="#000" stroke-width="1.2" fill="none"/>
<polygon points="378.00,62.00 379.19,57.36 382.19,59.68" fill="#000"/>
<text x="341.6" y="102.4" class="lb"><tspan font-size="8" font-style="italic">v</tspan><tspan font-size="6.6" font-style="italic" dy="0.9">C</tspan><tspan font-size="3"> </tspan><tspan font-size="6.6" font-style="italic">f</tspan><tspan font-size="2.5" dy="-0.9"> </tspan><tspan font-size="6.75">:CH3(5V/div)</tspan></text>
<text x="367.6" y="177" class="lb"><tspan font-size="12.5" font-style="italic">i</tspan><tspan font-size="7.2" font-style="italic" dy="1.4">Cr</tspan><tspan font-size="6.6" dy="-1.4">:CH4(1A/div)</tspan></text>
<path d="M381.8 169.5L378.5 162.8" stroke="#000" stroke-width="1.2" fill="none"/>
<polygon points="376.60,158.80 380.23,161.93 376.81,163.59" fill="#000"/>
<text class="lg" y="41.8"><tspan x="479">1) CH1</tspan><tspan x="500.2">1</tspan><tspan x="506.2">V</tspan><tspan x="516.6">250 us</tspan></text>
<text class="lg" y="49.4"><tspan x="479">2) CH2</tspan><tspan x="500.2">2</tspan><tspan x="506.2">V</tspan><tspan x="516.6">250 us</tspan></text>
<text class="lg" y="57"><tspan x="479">3) CH3</tspan><tspan x="500.2">5</tspan><tspan x="506.2">V</tspan><tspan x="516.6">250 us</tspan></text>
<text class="lg" y="64.6"><tspan x="479">4) CH4</tspan><tspan x="500.2">1</tspan><tspan x="506.2">A</tspan><tspan x="516.6">250 us</tspan></text>
<path d="M520.9 186V195M542.4 186V195" stroke="#000" stroke-width="1.3" fill="none"/>
<path d="M524.9 190.5H538.4" stroke="#000" stroke-width="1.2" fill="none"/>
<polygon points="521.5,190.5 527.3,188 527.3,193" fill="#000"/>
<polygon points="541.8,190.5 536,188 536,193" fill="#000"/>
<text class="sb" x="521.1" y="202.8">250 µs</text>
<text class="cp" x="426.9" y="217.9" text-anchor="middle">(<tspan font-weight="bold">b</tspan>)</text>
<path d="M39.8 228.2h1M39.8 232.7h1M39.8 237.2h1M39.8 241.7h1M39.8 246.2h1M39.8 250.7h1M39.8 255.2h1M39.8 259.7h1M39.8 264.2h1M39.8 268.7h1M39.8 273.2h1M39.8 277.7h1M39.8 282.2h1M39.8 286.7h1M39.8 291.2h1M39.8 295.7h1M39.8 300.2h1M39.8 304.7h1M39.8 309.2h1M39.8 313.7h1M39.8 318.2h1M39.8 322.7h1M39.8 327.2h1M39.8 331.7h1M39.8 336.2h1M39.8 340.7h1M39.8 345.2h1M39.8 349.7h1M39.8 354.2h1M39.8 358.7h1M39.8 363.2h1M39.8 367.7h1M39.8 372.2h1M39.8 376.7h1M39.8 381.2h1M39.8 385.7h1M39.8 390.2h1M39.8 394.7h1M39.8 399.2h1M62.1 228.2h1M62.1 232.7h1M62.1 237.2h1M62.1 241.7h1M62.1 246.2h1M62.1 250.7h1M62.1 255.2h1M62.1 259.7h1M62.1 264.2h1M62.1 268.7h1M62.1 273.2h1M62.1 277.7h1M62.1 282.2h1M62.1 286.7h1M62.1 291.2h1M62.1 295.7h1M62.1 300.2h1M62.1 304.7h1M62.1 309.2h1M62.1 313.7h1M62.1 318.2h1M62.1 322.7h1M62.1 327.2h1M62.1 331.7h1M62.1 336.2h1M62.1 340.7h1M62.1 345.2h1M62.1 349.7h1M62.1 354.2h1M62.1 358.7h1M62.1 363.2h1M62.1 367.7h1M62.1 372.2h1M62.1 376.7h1M62.1 381.2h1M62.1 385.7h1M62.1 390.2h1M62.1 394.7h1M62.1 399.2h1M84.4 228.2h1M84.4 232.7h1M84.4 237.2h1M84.4 241.7h1M84.4 246.2h1M84.4 250.7h1M84.4 255.2h1M84.4 259.7h1M84.4 264.2h1M84.4 268.7h1M84.4 273.2h1M84.4 277.7h1M84.4 282.2h1M84.4 286.7h1M84.4 291.2h1M84.4 295.7h1M84.4 300.2h1M84.4 304.7h1M84.4 309.2h1M84.4 313.7h1M84.4 318.2h1M84.4 322.7h1M84.4 327.2h1M84.4 331.7h1M84.4 336.2h1M84.4 340.7h1M84.4 345.2h1M84.4 349.7h1M84.4 354.2h1M84.4 358.7h1M84.4 363.2h1M84.4 367.7h1M84.4 372.2h1M84.4 376.7h1M84.4 381.2h1M84.4 385.7h1M84.4 390.2h1M84.4 394.7h1M84.4 399.2h1M106.7 228.2h1M106.7 232.7h1M106.7 237.2h1M106.7 241.7h1M106.7 246.2h1M106.7 250.7h1M106.7 255.2h1M106.7 259.7h1M106.7 264.2h1M106.7 268.7h1M106.7 273.2h1M106.7 277.7h1M106.7 282.2h1M106.7 286.7h1M106.7 291.2h1M106.7 295.7h1M106.7 300.2h1M106.7 304.7h1M106.7 309.2h1M106.7 313.7h1M106.7 318.2h1M106.7 322.7h1M106.7 327.2h1M106.7 331.7h1M106.7 336.2h1M106.7 340.7h1M106.7 345.2h1M106.7 349.7h1M106.7 354.2h1M106.7 358.7h1M106.7 363.2h1M106.7 367.7h1M106.7 372.2h1M106.7 376.7h1M106.7 381.2h1M106.7 385.7h1M106.7 390.2h1M106.7 394.7h1M106.7 399.2h1M151.2 228.2h1M151.2 232.7h1M151.2 237.2h1M151.2 241.7h1M151.2 246.2h1M151.2 250.7h1M151.2 255.2h1M151.2 259.7h1M151.2 264.2h1M151.2 268.7h1M151.2 273.2h1M151.2 277.7h1M151.2 282.2h1M151.2 286.7h1M151.2 291.2h1M151.2 295.7h1M151.2 300.2h1M151.2 304.7h1M151.2 309.2h1M151.2 313.7h1M151.2 318.2h1M151.2 322.7h1M151.2 327.2h1M151.2 331.7h1M151.2 336.2h1M151.2 340.7h1M151.2 345.2h1M151.2 349.7h1M151.2 354.2h1M151.2 358.7h1M151.2 363.2h1M151.2 367.7h1M151.2 372.2h1M151.2 376.7h1M151.2 381.2h1M151.2 385.7h1M151.2 390.2h1M151.2 394.7h1M151.2 399.2h1M173.5 228.2h1M173.5 232.7h1M173.5 237.2h1M173.5 241.7h1M173.5 246.2h1M173.5 250.7h1M173.5 255.2h1M173.5 259.7h1M173.5 264.2h1M173.5 268.7h1M173.5 273.2h1M173.5 277.7h1M173.5 282.2h1M173.5 286.7h1M173.5 291.2h1M173.5 295.7h1M173.5 300.2h1M173.5 304.7h1M173.5 309.2h1M173.5 313.7h1M173.5 318.2h1M173.5 322.7h1M173.5 327.2h1M173.5 331.7h1M173.5 336.2h1M173.5 340.7h1M173.5 345.2h1M173.5 349.7h1M173.5 354.2h1M173.5 358.7h1M173.5 363.2h1M173.5 367.7h1M173.5 372.2h1M173.5 376.7h1M173.5 381.2h1M173.5 385.7h1M173.5 390.2h1M173.5 394.7h1M173.5 399.2h1M195.8 228.2h1M195.8 232.7h1M195.8 237.2h1M195.8 241.7h1M195.8 246.2h1M195.8 250.7h1M195.8 255.2h1M195.8 259.7h1M195.8 264.2h1M195.8 268.7h1M195.8 273.2h1M195.8 277.7h1M195.8 282.2h1M195.8 286.7h1M195.8 291.2h1M195.8 295.7h1M195.8 300.2h1M195.8 304.7h1M195.8 309.2h1M195.8 313.7h1M195.8 318.2h1M195.8 322.7h1M195.8 327.2h1M195.8 331.7h1M195.8 336.2h1M195.8 340.7h1M195.8 345.2h1M195.8 349.7h1M195.8 354.2h1M195.8 358.7h1M195.8 363.2h1M195.8 367.7h1M195.8 372.2h1M195.8 376.7h1M195.8 381.2h1M195.8 385.7h1M195.8 390.2h1M195.8 394.7h1M195.8 399.2h1M218.1 228.2h1M218.1 232.7h1M218.1 237.2h1M218.1 241.7h1M218.1 246.2h1M218.1 250.7h1M218.1 255.2h1M218.1 259.7h1M218.1 264.2h1M218.1 268.7h1M218.1 273.2h1M218.1 277.7h1M218.1 282.2h1M218.1 286.7h1M218.1 291.2h1M218.1 295.7h1M218.1 300.2h1M218.1 304.7h1M218.1 309.2h1M218.1 313.7h1M218.1 318.2h1M218.1 322.7h1M218.1 327.2h1M218.1 331.7h1M218.1 336.2h1M218.1 340.7h1M218.1 345.2h1M218.1 349.7h1M218.1 354.2h1M218.1 358.7h1M218.1 363.2h1M218.1 367.7h1M218.1 372.2h1M218.1 376.7h1M218.1 381.2h1M218.1 385.7h1M218.1 390.2h1M218.1 394.7h1M218.1 399.2h1M22 246.2h1M26.4 246.2h1M30.9 246.2h1M35.3 246.2h1M39.8 246.2h1M44.2 246.2h1M48.7 246.2h1M53.2 246.2h1M57.6 246.2h1M62.1 246.2h1M66.5 246.2h1M71 246.2h1M75.5 246.2h1M79.9 246.2h1M84.4 246.2h1M88.8 246.2h1M93.3 246.2h1M97.7 246.2h1M102.2 246.2h1M106.7 246.2h1M111.1 246.2h1M115.6 246.2h1M120 246.2h1M124.5 246.2h1M128.9 246.2h1M133.4 246.2h1M137.9 246.2h1M142.3 246.2h1M146.8 246.2h1M151.2 246.2h1M155.7 246.2h1M160.2 246.2h1M164.6 246.2h1M169.1 246.2h1M173.5 246.2h1M178 246.2h1M182.4 246.2h1M186.9 246.2h1M191.4 246.2h1M195.8 246.2h1M200.3 246.2h1M204.7 246.2h1M209.2 246.2h1M213.7 246.2h1M218.1 246.2h1M222.6 246.2h1M227 246.2h1M231.5 246.2h1M235.9 246.2h1M22 268.7h1M26.4 268.7h1M30.9 268.7h1M35.3 268.7h1M39.8 268.7h1M44.2 268.7h1M48.7 268.7h1M53.2 268.7h1M57.6 268.7h1M62.1 268.7h1M66.5 268.7h1M71 268.7h1M75.5 268.7h1M79.9 268.7h1M84.4 268.7h1M88.8 268.7h1M93.3 268.7h1M97.7 268.7h1M102.2 268.7h1M106.7 268.7h1M111.1 268.7h1M115.6 268.7h1M120 268.7h1M124.5 268.7h1M128.9 268.7h1M133.4 268.7h1M137.9 268.7h1M142.3 268.7h1M146.8 268.7h1M151.2 268.7h1M155.7 268.7h1M160.2 268.7h1M164.6 268.7h1M169.1 268.7h1M173.5 268.7h1M178 268.7h1M182.4 268.7h1M186.9 268.7h1M191.4 268.7h1M195.8 268.7h1M200.3 268.7h1M204.7 268.7h1M209.2 268.7h1M213.7 268.7h1M218.1 268.7h1M222.6 268.7h1M227 268.7h1M231.5 268.7h1M235.9 268.7h1M22 291.2h1M26.4 291.2h1M30.9 291.2h1M35.3 291.2h1M39.8 291.2h1M44.2 291.2h1M48.7 291.2h1M53.2 291.2h1M57.6 291.2h1M62.1 291.2h1M66.5 291.2h1M71 291.2h1M75.5 291.2h1M79.9 291.2h1M84.4 291.2h1M88.8 291.2h1M93.3 291.2h1M97.7 291.2h1M102.2 291.2h1M106.7 291.2h1M111.1 291.2h1M115.6 291.2h1M120 291.2h1M124.5 291.2h1M128.9 291.2h1M133.4 291.2h1M137.9 291.2h1M142.3 291.2h1M146.8 291.2h1M151.2 291.2h1M155.7 291.2h1M160.2 291.2h1M164.6 291.2h1M169.1 291.2h1M173.5 291.2h1M178 291.2h1M182.4 291.2h1M186.9 291.2h1M191.4 291.2h1M195.8 291.2h1M200.3 291.2h1M204.7 291.2h1M209.2 291.2h1M213.7 291.2h1M218.1 291.2h1M222.6 291.2h1M227 291.2h1M231.5 291.2h1M235.9 291.2h1M22 336.2h1M26.4 336.2h1M30.9 336.2h1M35.3 336.2h1M39.8 336.2h1M44.2 336.2h1M48.7 336.2h1M53.2 336.2h1M57.6 336.2h1M62.1 336.2h1M66.5 336.2h1M71 336.2h1M75.5 336.2h1M79.9 336.2h1M84.4 336.2h1M88.8 336.2h1M93.3 336.2h1M97.7 336.2h1M102.2 336.2h1M106.7 336.2h1M111.1 336.2h1M115.6 336.2h1M120 336.2h1M124.5 336.2h1M128.9 336.2h1M133.4 336.2h1M137.9 336.2h1M142.3 336.2h1M146.8 336.2h1M151.2 336.2h1M155.7 336.2h1M160.2 336.2h1M164.6 336.2h1M169.1 336.2h1M173.5 336.2h1M178 336.2h1M182.4 336.2h1M186.9 336.2h1M191.4 336.2h1M195.8 336.2h1M200.3 336.2h1M204.7 336.2h1M209.2 336.2h1M213.7 336.2h1M218.1 336.2h1M222.6 336.2h1M227 336.2h1M231.5 336.2h1M235.9 336.2h1M22 358.7h1M26.4 358.7h1M30.9 358.7h1M35.3 358.7h1M39.8 358.7h1M44.2 358.7h1M48.7 358.7h1M53.2 358.7h1M57.6 358.7h1M62.1 358.7h1M66.5 358.7h1M71 358.7h1M75.5 358.7h1M79.9 358.7h1M84.4 358.7h1M88.8 358.7h1M93.3 358.7h1M97.7 358.7h1M102.2 358.7h1M106.7 358.7h1M111.1 358.7h1M115.6 358.7h1M120 358.7h1M124.5 358.7h1M128.9 358.7h1M133.4 358.7h1M137.9 358.7h1M142.3 358.7h1M146.8 358.7h1M151.2 358.7h1M155.7 358.7h1M160.2 358.7h1M164.6 358.7h1M169.1 358.7h1M173.5 358.7h1M178 358.7h1M182.4 358.7h1M186.9 358.7h1M191.4 358.7h1M195.8 358.7h1M200.3 358.7h1M204.7 358.7h1M209.2 358.7h1M213.7 358.7h1M218.1 358.7h1M222.6 358.7h1M227 358.7h1M231.5 358.7h1M235.9 358.7h1M22 381.2h1M26.4 381.2h1M30.9 381.2h1M35.3 381.2h1M39.8 381.2h1M44.2 381.2h1M48.7 381.2h1M53.2 381.2h1M57.6 381.2h1M62.1 381.2h1M66.5 381.2h1M71 381.2h1M75.5 381.2h1M79.9 381.2h1M84.4 381.2h1M88.8 381.2h1M93.3 381.2h1M97.7 381.2h1M102.2 381.2h1M106.7 381.2h1M111.1 381.2h1M115.6 381.2h1M120 381.2h1M124.5 381.2h1M128.9 381.2h1M133.4 381.2h1M137.9 381.2h1M142.3 381.2h1M146.8 381.2h1M151.2 381.2h1M155.7 381.2h1M160.2 381.2h1M164.6 381.2h1M169.1 381.2h1M173.5 381.2h1M178 381.2h1M182.4 381.2h1M186.9 381.2h1M191.4 381.2h1M195.8 381.2h1M200.3 381.2h1M204.7 381.2h1M209.2 381.2h1M213.7 381.2h1M218.1 381.2h1M222.6 381.2h1M227 381.2h1M231.5 381.2h1M235.9 381.2h1" stroke="#b4b4b4" stroke-width="0.9" fill="none"/>
<path d="M129.4 224.9V402.5M17.6 313.7H240.6M128.1 228.2h2.6M128.1 232.7h2.6M128.1 237.2h2.6M128.1 241.7h2.6M127.2 246.2h4.4M128.1 250.7h2.6M128.1 255.2h2.6M128.1 259.7h2.6M128.1 264.2h2.6M127.2 268.7h4.4M128.1 273.2h2.6M128.1 277.7h2.6M128.1 282.2h2.6M128.1 286.7h2.6M127.2 291.2h4.4M128.1 295.7h2.6M128.1 300.2h2.6M128.1 304.7h2.6M128.1 309.2h2.6M127.2 313.7h4.4M128.1 318.2h2.6M128.1 322.7h2.6M128.1 327.2h2.6M128.1 331.7h2.6M127.2 336.2h4.4M128.1 340.7h2.6M128.1 345.2h2.6M128.1 349.7h2.6M128.1 354.2h2.6M127.2 358.7h4.4M128.1 363.2h2.6M128.1 367.7h2.6M128.1 372.2h2.6M128.1 376.7h2.6M127.2 381.2h4.4M128.1 385.7h2.6M128.1 390.2h2.6M128.1 394.7h2.6M128.1 399.2h2.6M22.5 312.4v2.6M26.9 312.4v2.6M31.4 312.4v2.6M35.8 312.4v2.6M40.3 311.5v4.4M44.7 312.4v2.6M49.2 312.4v2.6M53.7 312.4v2.6M58.1 312.4v2.6M62.6 311.5v4.4M67 312.4v2.6M71.5 312.4v2.6M76 312.4v2.6M80.4 312.4v2.6M84.9 311.5v4.4M89.3 312.4v2.6M93.8 312.4v2.6M98.2 312.4v2.6M102.7 312.4v2.6M107.2 311.5v4.4M111.6 312.4v2.6M116.1 312.4v2.6M120.5 312.4v2.6M125 312.4v2.6M129.4 311.5v4.4M133.9 312.4v2.6M138.4 312.4v2.6M142.8 312.4v2.6M147.3 312.4v2.6M151.7 311.5v4.4M156.2 312.4v2.6M160.7 312.4v2.6M165.1 312.4v2.6M169.6 312.4v2.6M174 311.5v4.4M178.5 312.4v2.6M182.9 312.4v2.6M187.4 312.4v2.6M191.9 312.4v2.6M196.3 311.5v4.4M200.8 312.4v2.6M205.2 312.4v2.6M209.7 312.4v2.6M214.2 312.4v2.6M218.6 311.5v4.4M223.1 312.4v2.6M227.5 312.4v2.6M232 312.4v2.6M236.4 312.4v2.6" stroke="#333" stroke-width="0.7" fill="none"/>
<polygon points="17.6,285.6 18.6,285.9 19.6,286.1 20.6,285.9 21.6,285.8 22.6,285.5 23.6,285.9 24.6,285.6 25.6,286 26.6,285.6 27.6,285.9 28.6,285.7 29.6,285.8 30.6,286 31.6,285.6 32.6,285.6 33.6,286.2 34.6,285.7 35.6,286.1 36.6,286.1 37.6,285.8 38.6,285.6 39.6,285.6 40.6,286.1 41.6,285.6 42.6,285.8 43.6,285.9 44.6,285.6 45.6,285.8 46.6,285.6 47.6,285.9 48.6,285.9 49.6,285.8 50.6,285.6 51.6,285.8 52.6,285.6 53.6,285.6 54.6,285.7 55.6,286.1 56.6,285.9 57.6,286.1 58.6,285.5 59.6,286.2 60.6,285.8 61.6,285.8 62.6,283.5 63.6,281.4 64.6,279.8 65.6,279.6 66.6,278.5 67.6,278 68.6,277.5 69.6,277.7 70.6,277.6 71.6,277.3 72.6,277.6 73.6,276.9 74.6,277.2 75.6,276.8 76.6,276.9 77.6,276.9 78.6,276.7 79.6,276.2 80.6,276.2 81.6,276.3 82.6,276.4 83.6,275.6 84.6,275.9 85.6,275.8 86.6,275.8 87.6,275.3 88.6,275.5 89.6,275.2 90.6,275.3 91.6,274.6 92.6,275.1 93.6,274.6 94.6,274.5 95.6,274.1 96.6,274.1 97.6,274.3 98.6,274.2 99.6,273.7 100.6,273.7 101.6,273.5 102.6,273.5 103.6,273.4 104.6,273.4 105.6,273.8 106.6,273.8 107.6,273.5 108.6,273.3 109.6,273.2 110.6,273.3 111.6,273.4 112.6,273.2 113.6,273 114.6,272.7 115.6,272.9 116.6,273 117.6,272.9 118.6,272.3 119.6,272.7 120.6,272.4 121.6,272.2 122.6,272.7 123.6,272.4 124.6,272.4 125.6,271.9 126.6,272.3 127.6,272.3 128.6,272.2 129.6,272 130.6,272.1 131.6,272 132.6,271.9 133.6,271.7 134.6,272 135.6,271.9 136.6,272 137.6,271.5 138.6,272 139.6,271.6 140.6,271.9 141.6,271.3 142.6,271.9 143.6,271.7 144.6,271.3 145.6,271.7 146.6,271.3 147.6,271.2 148.6,271.4 149.6,271.2 150.6,271.4 151.6,271.6 152.6,271.4 153.6,271.4 154.6,271.2 155.6,271.4 156.6,271.4 157.6,271.3 158.6,271.5 159.6,271.4 160.6,271 161.6,270.8 162.6,271.2 163.6,271.3 164.6,270.9 165.6,271.1 166.6,271.2 167.6,271.2 168.6,270.6 169.6,270.9 170.6,270.5 171.6,270.6 172.6,271 173.6,270.7 174.6,270.9 175.6,270.7 176.6,270.6 177.6,270.5 178.6,270.6 179.6,270.9 180.6,270.7 181.6,270.5 182.6,270.3 183.6,270.5 184.6,270.8 185.6,270.6 186.6,270.7 187.6,270.8 188.6,270.3 189.6,270.7 190.6,270.3 191.6,270.8 192.6,270.4 193.6,270.4 194.6,270.9 195.6,270.5 196.6,270.4 197.6,270.8 198.6,270.6 199.6,270.8 200.6,270.5 201.6,270.5 202.6,270.9 203.6,270.5 204.6,270.9 205.6,270.3 206.6,270.7 207.6,270.3 208.6,270.5 209.6,270.2 210.6,270.3 211.6,270.8 212.6,270.5 213.6,270.7 214.6,270.3 215.6,270.4 216.6,270.2 217.6,270.5 218.6,270.7 219.6,270.5 220.6,270.4 221.6,270.7 222.6,270.7 223.6,270.6 224.6,270.1 225.6,270.5 226.6,270.4 227.6,270.7 228.6,270.3 229.6,270.5 230.6,270.5 231.6,270.3 232.6,270.4 233.6,270.5 234.6,270.7 235.6,270.4 236.6,270.3 237.6,270.7 238.6,270 239.6,270.6 240.6,270.5 240.6,297.3 239.6,297.5 238.6,297.3 237.6,297.5 236.6,297.6 235.6,297.8 234.6,297.9 233.6,297.5 232.6,297.9 231.6,297.7 230.6,297.7 229.6,297.5 228.6,297.9 227.6,297.9 226.6,297.8 225.6,297.9 224.6,297.8 223.6,297.8 222.6,297.6 221.6,297.6 220.6,297.8 219.6,298 218.6,297.8 217.6,298.1 216.6,297.4 215.6,297.9 214.6,297.4 213.6,297.6 212.6,297.4 211.6,297.5 210.6,298 209.6,297.7 208.6,297.8 207.6,297.9 206.6,297.7 205.6,297.7 204.6,297.7 203.6,298.1 202.6,297.9 201.6,297.8 200.6,298.2 199.6,297.6 198.6,298.2 197.6,297.8 196.6,297.6 195.6,297.6 194.6,298.1 193.6,297.7 192.6,298.1 191.6,297.8 190.6,298 189.6,298 188.6,297.8 187.6,298.1 186.6,298.2 185.6,297.7 184.6,298.2 183.6,297.7 182.6,297.9 181.6,298 180.6,298.2 179.6,298.1 178.6,298.2 177.6,297.8 176.6,298.3 175.6,298.1 174.6,297.7 173.6,298.3 172.6,297.8 171.6,298.1 170.6,297.8 169.6,297.6 168.6,297.9 167.6,298.3 166.6,298.2 165.6,298.2 164.6,298.2 163.6,297.8 162.6,297.9 161.6,298.3 160.6,298.2 159.6,297.9 158.6,297.9 157.6,297.9 156.6,298.3 155.6,297.8 154.6,297.9 153.6,297.8 152.6,297.9 151.6,297.8 150.6,297.8 149.6,298.1 148.6,297.9 147.6,298 146.6,298.3 145.6,297.8 144.6,297.9 143.6,297.8 142.6,298.3 141.6,298 140.6,298.2 139.6,298.1 138.6,298 137.6,297.9 136.6,298.1 135.6,298.2 134.6,298.4 133.6,298.2 132.6,298.4 131.6,297.9 130.6,298 129.6,298.2 128.6,298.2 127.6,298 126.6,298.5 125.6,298.4 124.6,298.2 123.6,298.5 122.6,298.6 121.6,298.3 120.6,298.2 119.6,298.6 118.6,298.4 117.6,298.5 116.6,298.6 115.6,298.4 114.6,298.7 113.6,298.9 112.6,299.1 111.6,298.7 110.6,299 109.6,298.8 108.6,298.8 107.6,299 106.6,299.4 105.6,299.3 104.6,299.3 103.6,298.9 102.6,299.3 101.6,299.2 100.6,299.1 99.6,299.7 98.6,299.2 97.6,299.6 96.6,299.4 95.6,299.7 94.6,299.5 93.6,299.3 92.6,299.7 91.6,299.8 90.6,299.5 89.6,299.6 88.6,299.8 87.6,299.9 86.6,299.7 85.6,300.2 84.6,300.1 83.6,299.8 82.6,300 81.6,299.9 80.6,300.2 79.6,299.9 78.6,300.6 77.6,300.8 76.6,300.5 75.6,301.1 74.6,301.3 73.6,301.6 72.6,301.9 71.6,301.9 70.6,302.2 69.6,302.5 68.6,302.2 67.6,302.8 66.6,303.1 65.6,302.8 64.6,303 63.6,303.6 62.6,303.3 61.6,302.2 60.6,301.3 59.6,301.4 58.6,301 57.6,301.4 56.6,300.9 55.6,301.1 54.6,301.4 53.6,301.3 52.6,300.9 51.6,300.9 50.6,301.1 49.6,301.4 48.6,301.3 47.6,301 46.6,301 45.6,300.8 44.6,301.2 43.6,301 42.6,300.9 41.6,301 40.6,300.8 39.6,301.2 38.6,301.1 37.6,301.3 36.6,301 35.6,301.3 34.6,301.1 33.6,301 32.6,301.2 31.6,301.5 30.6,301.1 29.6,301.1 28.6,301.4 27.6,300.9 26.6,300.8 25.6,301.4 24.6,301.3 23.6,301.5 22.6,301 21.6,301 20.6,300.9 19.6,301 18.6,301.2 17.6,301.1" fill="#fe0000"/>
<path d="M18.3 285.1h1.3L18.9 286.4zM19.4 301.9h1.3L20.1 300.4zM20.5 285.1h1.3L21.2 286.1zM21.6 301.9h1.3L22.3 301.2zM22.8 285.1h1.3L23.4 285.7zM23.9 301.9h1.3L24.5 301.2zM25 285.1h1.3L25.6 286.3zM26.1 301.9h1.3L26.7 300.4zM27.2 285.1h1.3L27.9 286zM28.3 301.9h1.3L29 301.1zM29.4 285.1h1.3L30.1 285.7zM30.6 301.9h1.3L31.2 301.2zM31.7 285.1h1.3L32.3 286zM32.8 301.9h1.3L33.4 299.5zM33.9 285.1h1.3L34.5 285.7zM35 301.9h1.3L35.7 301.2zM36.1 285.1h1.3L36.8 285.7zM37.2 301.9h1.3L37.9 301zM38.4 285.1h1.3L39 286.3zM39.5 301.9h1.3L40.1 300.1zM40.6 285.1h1.3L41.2 285.8zM41.7 301.9h1.3L42.4 301.2zM42.8 285.1h1.3L43.5 285.7zM43.9 301.9h1.3L44.6 301.2zM45.1 285.1h1.3L45.7 286.1zM46.2 301.9h1.3L46.8 300.9zM47.3 285.1h1.3L47.9 286.5zM48.4 301.9h1.3L49 299.8zM49.5 285.1h1.3L50.2 286.2zM50.6 301.9h1.3L51.3 300.9zM51.7 285.1h1.3L52.4 286.2zM52.9 301.9h1.3L53.5 301.2zM54 285.1h1.3L54.6 285.7zM55.1 301.9h1.3L55.7 300.7zM56.2 285.1h1.3L56.8 285.8zM57.3 301.9h1.3L58 301.1zM58.4 285.1h1.3L59.1 285.7zM59.5 301.9h1.3L60.2 301.2zM60.7 285.1h1.3L61.3 286.3zM61.8 303.7h1.3L62.4 302.2zM62.9 280.6h1.3L63.5 281.9zM64 304.1h1.3L64.7 301.5zM65.1 278.5h1.3L65.8 279.2zM66.2 303.6h1.3L66.9 301.7zM67.4 277.2h1.3L68 277.9zM68.5 303.1h1.3L69.1 300.7zM69.6 276.9h1.3L70.2 278zM70.7 302.7h1.3L71.3 301.8zM71.8 276.6h1.3L72.5 277.2zM72.9 302.2h1.3L73.6 301.2zM74 276.3h1.3L74.7 277.2zM75.2 301.8h1.3L75.8 300.4zM76.3 276.1h1.3L76.9 276.6zM77.4 301.3h1.3L78 297.9zM78.5 275.8h1.3L79.1 276.8zM79.6 300.9h1.3L80.3 299.1zM80.7 275.5h1.3L81.4 276zM81.8 300.8h1.3L82.5 296.7zM83 275.2h1.3L83.6 276zM84.1 300.7h1.3L84.7 299.6zM85.2 274.9h1.3L85.8 275.5zM86.3 300.6h1.3L87 298.1zM87.4 274.6h1.3L88.1 275.8zM88.5 300.5h1.3L89.2 298.6zM89.7 274.3h1.3L90.3 275.2zM90.8 300.4h1.3L91.4 299.2zM91.9 274.1h1.3L92.5 274.6zM93 300.4h1.3L93.6 295.7zM94.1 273.8h1.3L94.8 274.4zM95.2 300.3h1.3L95.9 299.1zM96.3 273.5h1.3L97 274.3zM97.5 300.2h1.3L98.1 298.9zM98.6 273.2h1.3L99.2 273.8zM99.7 300.1h1.3L100.3 298.1zM100.8 273h1.3L101.4 273.8zM101.9 300h1.3L102.6 297.1zM103 272.9h1.3L103.7 273.8zM104.1 299.9h1.3L104.8 297.9zM105.3 272.7h1.3L105.9 273.3zM106.4 299.8h1.3L107 296.2zM107.5 272.6h1.3L108.1 273.1zM108.6 299.7h1.3L109.3 297.6zM109.7 272.4h1.3L110.4 273.1zM110.8 299.6h1.3L111.5 296.3zM112 272.3h1.3L112.6 273.2zM113.1 299.6h1.3L113.7 298.1zM114.2 272.1h1.3L114.8 273zM115.3 299.5h1.3L115.9 295.9zM116.4 272h1.3L117.1 272.7zM117.5 299.4h1.3L118.2 298zM118.6 271.8h1.3L119.3 273.1zM119.8 299.3h1.3L120.4 296.3zM120.9 271.7h1.3L121.5 272.2zM122 299.2h1.3L122.6 297.6zM123.1 271.5h1.3L123.7 272.9zM124.2 299.1h1.3L124.9 297.6zM125.3 271.4h1.3L126 272zM126.4 299h1.3L127.1 294.4zM127.6 271.2h1.3L128.2 272.3zM128.7 298.9h1.3L129.3 295.5zM129.8 271.1h1.3L130.4 272.1zM130.9 298.9h1.3L131.6 297.5zM132 271h1.3L132.7 271.6zM133.1 298.9h1.3L133.8 292.3zM134.3 271h1.3L134.9 272.1zM135.4 298.9h1.3L136 297.5zM136.5 270.9h1.3L137.1 271.5zM137.6 298.9h1.3L138.2 297.2zM138.7 270.9h1.3L139.4 272.2zM139.8 298.9h1.3L140.5 297.3zM140.9 270.8h1.3L141.6 271.7zM142.1 298.8h1.3L142.7 292.7zM143.2 270.8h1.3L143.8 271.6zM144.3 298.8h1.3L144.9 292.8zM145.4 270.7h1.3L146 271.3zM146.5 298.8h1.3L147.2 297.3zM147.6 270.7h1.3L148.3 271.2zM148.7 298.8h1.3L149.4 294.4zM149.9 270.6h1.3L150.5 271.2zM151 298.8h1.3L151.6 292.1zM152.1 270.6h1.3L152.7 271.5zM153.2 298.8h1.3L153.9 297.3zM154.3 270.5h1.3L155 271.6zM155.4 298.8h1.3L156.1 297.3zM156.6 270.4h1.3L157.2 271.2zM157.7 298.8h1.3L158.3 297.3zM158.8 270.4h1.3L159.4 271.4zM159.9 298.8h1.3L160.5 293zM161 270.3h1.3L161.7 271.6zM162.1 298.8h1.3L162.8 297.4zM163.2 270.3h1.3L163.9 271.4zM164.4 298.7h1.3L165 295.8zM165.5 270.2h1.3L166.1 271.3zM166.6 298.7h1.3L167.2 296.1zM167.7 270.2h1.3L168.3 271zM168.8 298.7h1.3L169.5 295.5zM169.9 270.1h1.3L170.6 271.2zM171 298.7h1.3L171.7 297.3zM172.2 270.1h1.3L172.8 270.6zM173.3 298.7h1.3L173.9 295.8zM174.4 270h1.3L175 270.6zM175.5 298.7h1.3L176.2 296.5zM176.6 270h1.3L177.3 270.5zM177.7 298.7h1.3L178.4 294.3zM178.9 269.9h1.3L179.5 270.5zM180 298.7h1.3L180.6 293.5zM181.1 269.9h1.3L181.7 271zM182.2 298.7h1.3L182.8 296.2zM183.3 269.9h1.3L184 270.4zM184.4 298.7h1.3L185.1 295zM185.5 269.9h1.3L186.2 270.4zM186.7 298.6h1.3L187.3 296.3zM187.8 269.9h1.3L188.4 270.4zM188.9 298.6h1.3L189.5 291.8zM190 269.8h1.3L190.6 270.6zM191.1 298.6h1.3L191.8 296.6zM192.2 269.8h1.3L192.9 270.4zM193.3 298.6h1.3L194 294.3zM194.5 269.8h1.3L195.1 271zM195.6 298.6h1.3L196.2 293.2zM196.7 269.8h1.3L197.3 270.4zM197.8 298.6h1.3L198.5 296.5zM198.9 269.8h1.3L199.6 270.4zM200 298.6h1.3L200.7 294zM201.2 269.8h1.3L201.8 270.4zM202.3 298.6h1.3L202.9 295.2zM203.4 269.8h1.3L204 271.1zM204.5 298.6h1.3L205.1 293.9zM205.6 269.8h1.3L206.3 270.3zM206.7 298.6h1.3L207.4 297.1zM207.8 269.8h1.3L208.5 270.3zM209 298.5h1.3L209.6 294.5zM210.1 269.7h1.3L210.7 270.6zM211.2 298.5h1.3L211.8 295.7zM212.3 269.7h1.3L212.9 270.4zM213.4 298.5h1.3L214.1 296.3zM214.5 269.7h1.3L215.2 270.6zM215.6 298.5h1.3L216.3 294.8zM216.8 269.7h1.3L217.4 271zM217.9 298.5h1.3L218.5 294.1zM219 269.7h1.3L219.6 270.8zM220.1 298.5h1.3L220.8 292.2zM221.2 269.7h1.3L221.9 270.8zM222.3 298.5h1.3L223 294.2zM223.5 269.7h1.3L224.1 270.2zM224.6 298.5h1.3L225.2 294.5zM225.7 269.7h1.3L226.3 270.8zM226.8 298.5h1.3L227.4 296.1zM227.9 269.7h1.3L228.6 270.8zM229 298.4h1.3L229.7 296.9zM230.1 269.6h1.3L230.8 270.9zM231.3 298.4h1.3L231.9 296zM232.4 269.6h1.3L233 270.6zM233.5 298.4h1.3L234.1 296.7zM234.6 269.6h1.3L235.2 270.2zM235.7 298.4h1.3L236.4 296.4zM236.8 269.6h1.3L237.5 270.2zM237.9 298.4h1.3L238.6 296.9zM239.1 269.6h1.3L239.7 270.3z" fill="#ffa4a4" fill-opacity="1.0" stroke="#ffa4a4" stroke-width="0.4" stroke-opacity="1.0"/>
<polygon points="17.6,346.7 18.6,346.5 19.6,346.7 20.6,346.5 21.6,346.6 22.6,346.7 23.6,346.5 24.6,346.2 25.6,346.2 26.6,346.3 27.6,346 28.6,346.2 29.6,346.6 30.6,346.6 31.6,346.2 32.6,346.5 33.6,346.5 34.6,346.6 35.6,346.6 36.6,346.4 37.6,346.1 38.6,346.6 39.6,346.2 40.6,346.4 41.6,346.3 42.6,346.4 43.6,346.7 44.6,346.1 45.6,346.4 46.6,346.5 47.6,346.4 48.6,346.7 49.6,346.3 50.6,346.6 51.6,346.5 52.6,346.7 53.6,346.1 54.6,346.1 55.6,346.2 56.6,346.6 57.6,346 58.6,346.2 59.6,346.5 60.6,346.7 61.6,346.1 62.6,346.1 63.6,343.8 64.6,341.3 65.6,339.1 66.6,339 67.6,338.5 68.6,338.4 69.6,338.1 70.6,338.4 71.6,338 72.6,337.9 73.6,338.3 74.6,337.9 75.6,337.8 76.6,337.8 77.6,337.7 78.6,337.8 79.6,337.5 80.6,337.3 81.6,337.2 82.6,337.2 83.6,337.4 84.6,337.2 85.6,337.1 86.6,337.4 87.6,337.7 88.6,337.4 89.6,337.1 90.6,337.4 91.6,337 92.6,336.9 93.6,337 94.6,337.1 95.6,337.2 96.6,337 97.6,337.2 98.6,336.7 99.6,337.3 100.6,336.8 101.6,337.2 102.6,336.6 103.6,337.2 104.6,336.8 105.6,337.2 106.6,337.2 107.6,337.1 108.6,336.8 109.6,336.6 110.6,336.7 111.6,337.2 112.6,336.7 113.6,337.1 114.6,337 115.6,337.1 116.6,336.7 117.6,336.7 118.6,336.7 119.6,337.3 120.6,336.9 121.6,337 122.6,337 123.6,336.7 124.6,336.6 125.6,336.6 126.6,337.2 127.6,336.7 128.6,337.3 129.6,336.8 130.6,337.1 131.6,336.7 132.6,337.1 133.6,336.8 134.6,336.8 135.6,336.9 136.6,336.7 137.6,336.7 138.6,337.1 139.6,336.8 140.6,336.8 141.6,337.1 142.6,336.7 143.6,336.7 144.6,336.7 145.6,336.8 146.6,336.8 147.6,337 148.6,336.9 149.6,337.2 150.6,336.6 151.6,337 152.6,337.1 153.6,336.7 154.6,336.6 155.6,336.9 156.6,336.6 157.6,336.9 158.6,337.1 159.6,336.6 160.6,336.6 161.6,336.9 162.6,336.7 163.6,336.7 164.6,336.9 165.6,336.6 166.6,336.6 167.6,336.8 168.6,336.9 169.6,337.2 170.6,336.9 171.6,336.6 172.6,336.7 173.6,337.1 174.6,336.9 175.6,337.2 176.6,337.2 177.6,337.1 178.6,336.6 179.6,337.2 180.6,336.9 181.6,336.7 182.6,336.7 183.6,337.1 184.6,336.7 185.6,336.6 186.6,336.7 187.6,337.2 188.6,336.9 189.6,337 190.6,336.6 191.6,336.9 192.6,336.8 193.6,336.7 194.6,337 195.6,336.8 196.6,336.6 197.6,337.2 198.6,336.9 199.6,336.7 200.6,336.5 201.6,337 202.6,336.9 203.6,336.5 204.6,336.9 205.6,337 206.6,336.9 207.6,336.7 208.6,336.9 209.6,336.9 210.6,337 211.6,336.6 212.6,337.1 213.6,337.2 214.6,337 215.6,337.1 216.6,336.8 217.6,337.1 218.6,336.6 219.6,336.7 220.6,336.9 221.6,337.1 222.6,336.6 223.6,336.7 224.6,336.5 225.6,336.8 226.6,336.6 227.6,336.6 228.6,337 229.6,336.9 230.6,337.2 231.6,336.8 232.6,337 233.6,336.5 234.6,337.2 235.6,336.7 236.6,336.8 237.6,336.9 238.6,337.2 239.6,336.8 240.6,337.2 240.6,379.7 239.6,379.9 238.6,379.8 237.6,379.8 236.6,380.2 235.6,380.3 234.6,380.2 233.6,379.9 232.6,380.2 231.6,380.2 230.6,379.7 229.6,379.9 228.6,379.9 227.6,379.9 226.6,380.1 225.6,380.2 224.6,379.8 223.6,380.3 222.6,379.8 221.6,380 220.6,380 219.6,380.1 218.6,380.2 217.6,379.9 216.6,380.2 215.6,379.9 214.6,380.2 213.6,380.2 212.6,379.9 211.6,379.8 210.6,380.2 209.6,380.1 208.6,379.7 207.6,379.7 206.6,379.8 205.6,380.1 204.6,379.9 203.6,380.2 202.6,379.7 201.6,379.7 200.6,380.1 199.6,379.7 198.6,380 197.6,379.8 196.6,380.1 195.6,380.2 194.6,379.8 193.6,379.6 192.6,380.1 191.6,379.9 190.6,380 189.6,379.7 188.6,379.7 187.6,380 186.6,379.7 185.6,379.8 184.6,380.1 183.6,380.1 182.6,380.1 181.6,380.1 180.6,380 179.6,379.8 178.6,379.9 177.6,379.9 176.6,379.8 175.6,379.9 174.6,380.1 173.6,379.5 172.6,379.5 171.6,380.1 170.6,380.1 169.6,379.5 168.6,379.6 167.6,380 166.6,380 165.6,380.1 164.6,379.6 163.6,380 162.6,380.1 161.6,380.1 160.6,379.9 159.6,379.6 158.6,379.7 157.6,380.1 156.6,380 155.6,379.7 154.6,379.5 153.6,379.5 152.6,379.7 151.6,379.5 150.6,379.9 149.6,379.9 148.6,379.5 147.6,379.9 146.6,379.4 145.6,379.6 144.6,379.6 143.6,379.6 142.6,379.5 141.6,379.5 140.6,379.4 139.6,379.8 138.6,379.9 137.6,379.6 136.6,380 135.6,379.7 134.6,379.9 133.6,379.7 132.6,379.5 131.6,379.8 130.6,379.6 129.6,379.3 128.6,379.5 127.6,379.9 126.6,379.6 125.6,379.6 124.6,379.7 123.6,379.8 122.6,379.6 121.6,379.6 120.6,379.6 119.6,379.6 118.6,379.1 117.6,379.2 116.6,379.3 115.6,379 114.6,379.4 113.6,378.9 112.6,378.8 111.6,379.1 110.6,379.3 109.6,378.7 108.6,379 107.6,379.1 106.6,378.7 105.6,378.6 104.6,379.1 103.6,378.7 102.6,378.7 101.6,378.7 100.6,378.8 99.6,379.1 98.6,378.5 97.6,378.5 96.6,378.6 95.6,378.5 94.6,378.4 93.6,378.8 92.6,378.4 91.6,378.5 90.6,378.5 89.6,378.6 88.6,378.5 87.6,378.2 86.6,378.5 85.6,378.2 84.6,378 83.6,378.5 82.6,378.4 81.6,377.8 80.6,377.9 79.6,377.9 78.6,378 77.6,377.9 76.6,378.2 75.6,378.2 74.6,377.9 73.6,377.8 72.6,377.7 71.6,377.6 70.6,377.1 69.6,376.3 68.6,375.2 67.6,374.2 66.6,373.8 65.6,373 64.6,372.3 63.6,371.3 62.6,370.3 61.6,370.9 60.6,370.6 59.6,370.2 58.6,370.7 57.6,370.2 56.6,370.3 55.6,370.4 54.6,370.3 53.6,370.6 52.6,370.6 51.6,370.5 50.6,370.8 49.6,370.7 48.6,370.9 47.6,370.3 46.6,370.5 45.6,370.5 44.6,370.8 43.6,370.8 42.6,370.2 41.6,370.8 40.6,370.7 39.6,370.8 38.6,370.4 37.6,370.5 36.6,370.6 35.6,370.7 34.6,370.5 33.6,370.9 32.6,370.3 31.6,370.8 30.6,370.6 29.6,370.9 28.6,370.4 27.6,370.7 26.6,370.6 25.6,370.7 24.6,370.2 23.6,370.7 22.6,370.6 21.6,370.2 20.6,370.8 19.6,370.3 18.6,370.7 17.6,370.5" fill="#000"/>
<path d="M18.3 345.6h1.3L18.9 347.6zM19.4 371.3h1.3L20.1 368.9zM20.5 345.6h1.3L21.2 346.9zM21.6 371.3h1.3L22.3 367.5zM22.8 345.6h1.3L23.4 346.6zM23.9 371.3h1.3L24.5 367.9zM25 345.6h1.3L25.6 346.7zM26.1 371.3h1.3L26.7 369.5zM27.2 345.6h1.3L27.9 347.2zM28.3 371.3h1.3L29 369.3zM29.4 345.6h1.3L30.1 347.9zM30.6 371.3h1.3L31.2 366.9zM31.7 345.6h1.3L32.3 347.1zM32.8 371.3h1.3L33.4 369.2zM33.9 345.6h1.3L34.5 346.7zM35 371.3h1.3L35.7 368.2zM36.1 345.6h1.3L36.8 347.2zM37.2 371.3h1.3L37.9 368.7zM38.4 345.6h1.3L39 347.5zM39.5 371.3h1.3L40.1 368.2zM40.6 345.6h1.3L41.2 347.6zM41.7 371.3h1.3L42.4 369.4zM42.8 345.6h1.3L43.5 346.6zM43.9 371.3h1.3L44.6 368.6zM45.1 345.6h1.3L45.7 347.1zM46.2 371.3h1.3L46.8 369zM47.3 345.6h1.3L47.9 347.4zM48.4 371.3h1.3L49 369.1zM49.5 345.6h1.3L50.2 346.9zM50.6 371.3h1.3L51.3 368.3zM51.7 345.6h1.3L52.4 347.5zM52.9 371.3h1.3L53.5 367.3zM54 345.6h1.3L54.6 347zM55.1 371.3h1.3L55.7 368.4zM56.2 345.6h1.3L56.8 347.9zM57.3 371.3h1.3L58 366.7zM58.4 345.6h1.3L59.1 347.4zM59.5 371.3h1.3L60.2 369.4zM60.7 345.6h1.3L61.3 347.1zM61.8 371.3h1.3L62.4 367.8zM62.9 343h1.3L63.5 345zM64 372.7h1.3L64.7 370.9zM65.1 338.2h1.3L65.8 345.1zM66.2 374.7h1.3L66.9 369.6zM67.4 337.9h1.3L68 340.6zM68.5 376.6h1.3L69.1 373.1zM69.6 337.6h1.3L70.2 342.7zM70.7 378.6h1.3L71.3 375.4zM71.8 337.3h1.3L72.5 340.1zM72.9 378.7h1.3L73.6 373.4zM74 337h1.3L74.7 343.5zM75.2 378.7h1.3L75.8 374.9zM76.3 336.9h1.3L76.9 339.8zM77.4 378.8h1.3L78 375.2zM78.5 336.9h1.3L79.1 339.8zM79.6 378.9h1.3L80.3 372.2zM80.7 336.8h1.3L81.4 339.6zM81.8 378.9h1.3L82.5 375.7zM83 336.7h1.3L83.6 343.4zM84.1 379h1.3L84.7 376.3zM85.2 336.7h1.3L85.8 339.7zM86.3 379.1h1.3L87 376.5zM87.4 336.6h1.3L88.1 339.9zM88.5 379.1h1.3L89.2 374.7zM89.7 336.5h1.3L90.3 343.7zM90.8 379.2h1.3L91.4 376.3zM91.9 336.4h1.3L92.5 339.8zM93 379.3h1.3L93.6 373.5zM94.1 336.4h1.3L94.8 341.1zM95.2 379.4h1.3L95.9 375.7zM96.3 336.3h1.3L97 339.5zM97.5 379.4h1.3L98.1 376.2zM98.6 336.2h1.3L99.2 344.7zM99.7 379.5h1.3L100.3 376.7zM100.8 336.2h1.3L101.4 340.1zM101.9 379.6h1.3L102.6 373.7zM103 336.2h1.3L103.7 344.1zM104.1 379.6h1.3L104.8 372.7zM105.3 336.2h1.3L105.9 341.3zM106.4 379.7h1.3L107 372.4zM107.5 336.2h1.3L108.1 342.1zM108.6 379.8h1.3L109.3 376.2zM109.7 336.2h1.3L110.4 341.2zM110.8 379.8h1.3L111.5 373.9zM112 336.2h1.3L112.6 342.9zM113.1 379.9h1.3L113.7 376.9zM114.2 336.2h1.3L114.8 339.8zM115.3 380h1.3L115.9 372.4zM116.4 336.2h1.3L117.1 339.4zM117.5 380h1.3L118.2 373.4zM118.6 336.2h1.3L119.3 340.5zM119.8 380.1h1.3L120.4 376.6zM120.9 336.2h1.3L121.5 340zM122 380.2h1.3L122.6 375.5zM123.1 336.2h1.3L123.7 344.8zM124.2 380.2h1.3L124.9 377.1zM125.3 336.2h1.3L126 343.8zM126.4 380.3h1.3L127.1 376.3zM127.6 336.2h1.3L128.2 339.6zM128.7 380.4h1.3L129.3 373.9zM129.8 336.2h1.3L130.4 340.5zM130.9 380.4h1.3L131.6 377zM132 336.2h1.3L132.7 340.9zM133.1 380.4h1.3L133.8 373.4zM134.3 336.2h1.3L134.9 343.8zM135.4 380.4h1.3L136 375zM136.5 336.2h1.3L137.1 339.1zM137.6 380.4h1.3L138.2 373.8zM138.7 336.2h1.3L139.4 342zM139.8 380.4h1.3L140.5 372.9zM140.9 336.2h1.3L141.6 344.4zM142.1 380.4h1.3L142.7 376.4zM143.2 336.2h1.3L143.8 343.7zM144.3 380.5h1.3L144.9 373.4zM145.4 336.2h1.3L146 340.1zM146.5 380.5h1.3L147.2 376.2zM147.6 336.2h1.3L148.3 340.6zM148.7 380.5h1.3L149.4 376.3zM149.9 336.2h1.3L150.5 340.6zM151 380.5h1.3L151.6 377.4zM152.1 336.2h1.3L152.7 339.9zM153.2 380.5h1.3L153.9 372.8zM154.3 336.2h1.3L155 340.8zM155.4 380.5h1.3L156.1 374.7zM156.6 336.2h1.3L157.2 343.9zM157.7 380.5h1.3L158.3 373.9zM158.8 336.2h1.3L159.4 339.9zM159.9 380.5h1.3L160.5 372.8zM161 336.2h1.3L161.7 343.3zM162.1 380.5h1.3L162.8 372.3zM163.2 336.2h1.3L163.9 342.8zM164.4 380.5h1.3L165 373.9zM165.5 336.2h1.3L166.1 343.4zM166.6 380.5h1.3L167.2 376.8zM167.7 336.2h1.3L168.3 342.3zM168.8 380.5h1.3L169.5 376.2zM169.9 336.1h1.3L170.6 343.5zM171 380.6h1.3L171.7 377.4zM172.2 336.1h1.3L172.8 341.5zM173.3 380.6h1.3L173.9 376.4zM174.4 336.1h1.3L175 343.4zM175.5 380.6h1.3L176.2 376.4zM176.6 336.1h1.3L177.3 343.6zM177.7 380.6h1.3L178.4 373.3zM178.9 336.1h1.3L179.5 343.8zM180 380.6h1.3L180.6 377.4zM181.1 336.1h1.3L181.7 344.2zM182.2 380.6h1.3L182.8 374zM183.3 336.1h1.3L184 342.4zM184.4 380.6h1.3L185.1 374.6zM185.5 336.1h1.3L186.2 339.1zM186.7 380.6h1.3L187.3 373.2zM187.8 336.1h1.3L188.4 341.6zM188.9 380.6h1.3L189.5 375.8zM190 336.1h1.3L190.6 340.4zM191.1 380.6h1.3L191.8 373.8zM192.2 336.1h1.3L192.9 343.1zM193.3 380.6h1.3L194 373.2zM194.5 336.1h1.3L195.1 339.7zM195.6 380.6h1.3L196.2 376.5zM196.7 336.1h1.3L197.3 339.9zM197.8 380.6h1.3L198.5 377.6zM198.9 336.1h1.3L199.6 340.3zM200 380.7h1.3L200.7 377.8zM201.2 336.1h1.3L201.8 343.2zM202.3 380.7h1.3L202.9 377.1zM203.4 336.1h1.3L204 339.1zM204.5 380.7h1.3L205.1 377.7zM205.6 336.1h1.3L206.3 342.8zM206.7 380.7h1.3L207.4 377.2zM207.8 336.1h1.3L208.5 341zM209 380.7h1.3L209.6 376.2zM210.1 336.1h1.3L210.7 343.2zM211.2 380.7h1.3L211.8 372.7zM212.3 336.1h1.3L212.9 340.2zM213.4 380.7h1.3L214.1 374.8zM214.5 336.1h1.3L215.2 343.8zM215.6 380.7h1.3L216.3 375.8zM216.8 336.1h1.3L217.4 343.8zM217.9 380.7h1.3L218.5 374.2zM219 336.1h1.3L219.6 340.2zM220.1 380.7h1.3L220.8 373.3zM221.2 336.1h1.3L221.9 341.7zM222.3 380.7h1.3L223 377.6zM223.5 336.1h1.3L224.1 341.7zM224.6 380.7h1.3L225.2 373.6zM225.7 336.1h1.3L226.3 341.3zM226.8 380.8h1.3L227.4 375.8zM227.9 336.1h1.3L228.6 340.7zM229 380.8h1.3L229.7 373.2zM230.1 336.1h1.3L230.8 342.2zM231.3 380.8h1.3L231.9 377.2zM232.4 336.1h1.3L233 340.4zM233.5 380.8h1.3L234.1 376.5zM234.6 336.1h1.3L235.2 344.2zM235.7 380.8h1.3L236.4 374.5zM236.8 336.1h1.3L237.5 339.3zM237.9 380.8h1.3L238.6 373zM239.1 336.1h1.3L239.7 339z" fill="#939393" fill-opacity="1.0" stroke="#939393" stroke-width="0.4" stroke-opacity="1.0"/>
<path d="M17.6 324.3H60L65 323.4H240.6" stroke="#46ee46" stroke-width="0.95" fill="none"/>
<path d="M18.7 249.9V251M20.9 249.8V250.9M23.1 249.9V251.1M25.3 249.8V250.9M27.5 249.7V250.7M29.7 249.8V250.9M31.9 249.9V251.1M34.1 249.9V251.1M36.3 249.8V250.8M38.5 249.7V250.8M40.7 249.9V251.1M42.9 249.9V251.1M45.1 249.7V250.8M47.3 250V251.1M49.5 250V251.2M51.7 249.8V250.9M53.9 249.8V250.8M56.1 249.9V251M58.3 250V251.2M60.5 249.7V250.7" stroke="#8c8cff" stroke-width="0.7" fill="none"/>
<path d="M18.7 248.2V250.1M20.9 248.2V250M23.1 248.2V250.1M25.3 248.2V250M27.5 248.2V249.9M29.7 248.2V250M31.9 248.2V250.1M34.1 248.2V250.1M36.3 248.2V250M38.5 248.2V249.9M40.7 248.2V250.1M42.9 248.2V250.1M45.1 248.2V249.9M47.3 248.2V250.2M49.5 248.2V250.2M51.7 248.2V250M53.9 248.2V250M56.1 248.2V250.1M58.3 248.2V250.2M60.5 248.2V249.9" stroke="#0a0aff" stroke-width="0.9" fill="none"/>
<path d="M18.7 246.2V247.7M20.9 246.2V247.7M23.1 245.9V247.7M25.3 246.3V247.7M27.5 246.1V247.7M29.7 246.1V247.7M31.9 246V247.7M34.1 246.3V247.7M36.3 245.8V247.7M38.5 245.8V247.7M40.7 246V247.7M42.9 245.9V247.7M45.1 246.3V247.7M47.3 245.9V247.7M49.5 246.1V247.7M51.7 245.9V247.7M53.9 245.9V247.7M56.1 246.2V247.7M58.3 245.8V247.7M60.5 246.2V247.7" stroke="#8c8cff" stroke-width="1" fill="none"/>
<polygon points="17.6,246.9 18.6,247.2 19.6,247.5 20.6,247.5 21.6,247.5 22.6,247.2 23.6,247.5 24.6,247.2 25.6,247 26.6,247.3 27.6,247.4 28.6,247.1 29.6,247.3 30.6,247 31.6,247 32.6,247.1 33.6,247.2 34.6,247.2 35.6,246.9 36.6,246.9 37.6,247.1 38.6,247.4 39.6,247.4 40.6,247 41.6,247 42.6,247.2 43.6,247 44.6,247.3 45.6,247.5 46.6,247 47.6,247.3 48.6,247.4 49.6,247.4 50.6,247.3 51.6,247.3 52.6,247 53.6,247.4 54.6,247.5 55.6,246.9 56.6,247.5 57.6,247.2 58.6,246.9 59.6,246.9 60.6,247.4 61,247.3 61,248.6 60.6,248.9 59.6,248.9 58.6,248.4 57.6,248.8 56.6,249 55.6,248.5 54.6,248.6 53.6,248.8 52.6,248.6 51.6,248.6 50.6,248.6 49.6,248.6 48.6,249 47.6,248.8 46.6,248.4 45.6,248.5 44.6,248.5 43.6,248.8 42.6,248.5 41.6,248.7 40.6,249 39.6,248.7 38.6,249 37.6,248.7 36.6,248.7 35.6,248.5 34.6,248.7 33.6,248.6 32.6,248.5 31.6,248.4 30.6,248.5 29.6,248.5 28.6,248.6 27.6,248.8 26.6,248.6 25.6,248.5 24.6,248.5 23.6,248.5 22.6,248.9 21.6,248.6 20.6,249 19.6,248.8 18.6,248.7 17.6,248.4" fill="#0a0aff"/>
<path d="M62.1 251.4V252.4M64.3 254.6V256.8M66.6 255.6V257.9M68.8 254.5V256M71 254.4V255.8M73.3 255.8V258.1M75.5 255.8V258.2M77.7 254.4V255.9M80 254.3V256M82.2 254.9V257.1M84.4 255V257.3M86.6 253.9V255.5M88.9 253.7V255.3M91.1 254.8V257.2M93.3 254.7V257.2M95.6 253.1V254.5M97.8 253.2V254.9M100 254.2V256.6M102.3 253.9V256.3M104.5 252.4V253.8M106.7 252.2V253.6M108.9 254V256.6M111.2 253.7V256.3M113.4 251.7V253.1M115.6 251.7V253.2M117.9 253V255.4M120.1 252.9V255.3M122.3 251.4V252.9M124.6 251.7V253.3M126.8 252.6V254.9M129 252.7V255.2M131.2 251.6V253.2M133.5 251.4V252.9M135.7 252.6V254.9M137.9 252.4V254.7M140.2 251.1V252.6M142.4 251.2V252.7M144.6 252.7V255.2M146.9 252.2V254.4M149.1 251V252.4M151.3 250.9V252.4M153.5 252.1V254.4M155.8 252.6V255.1M158 250.9V252.4M160.2 250.7V252.1M162.5 251.9V254.1M164.7 252.3V254.8M166.9 250.6V251.9M169.2 250.8V252.3M171.4 251.5V253.5M173.6 251.6V253.7M175.8 250.4V251.7M178.1 250.7V252.2M180.3 251.5V253.5M182.5 251.5V253.6M184.8 250.3V251.5M187 250.4V251.7M189.2 251.9V254.2M191.5 251.8V254.1M193.7 250.6V252.2M195.9 250.6V252.2M198.1 251.6V253.8M200.4 251.9V254.3M202.6 250.2V251.4M204.8 250.6V252.1M207.1 251.5V253.6M209.3 251.3V253.2M211.5 250.4V251.9M213.8 250.5V251.9M216 251.4V253.4M218.2 251.1V253M220.4 250.4V251.9M222.7 250.4V251.8M224.9 251.4V253.6M227.1 251.7V254M229.4 250V251.2M231.6 250V251.2M233.8 251V252.9M236.1 250.9V252.7M238.3 250.2V251.6" stroke="#8c8cff" stroke-width="0.7" fill="none"/>
<path d="M62.1 249.9V251.6M64.3 251.4V254.8M66.6 252.2V255.8M68.8 252.4V254.7M71 252.3V254.6M73.3 252.2V256M75.5 252.2V256M77.7 252V254.6M80 251.9V254.5M82.2 251.7V255.1M84.4 251.6V255.2M86.6 251.5V254.1M88.9 251.3V253.9M91.1 251.2V255M93.3 251V254.9M95.6 250.9V253.3M97.8 250.7V253.4M100 250.6V254.4M102.3 250.4V254.1M104.5 250.3V252.6M106.7 250.1V252.4M108.9 250V254.2M111.2 249.8V253.9M113.4 249.7V251.9M115.6 249.5V251.9M117.9 249.3V253.2M120.1 249.2V253.1M122.3 249.2V251.6M124.6 249.1V251.9M126.8 249.1V252.8M129 249.1V252.9M131.2 249.1V251.8M133.5 249V251.6M135.7 249V252.8M137.9 249V252.6M140.2 248.9V251.3M142.4 248.9V251.4M144.6 248.9V252.9M146.9 248.8V252.4M149.1 248.8V251.2M151.3 248.8V251.1M153.5 248.8V252.3M155.8 248.7V252.8M158 248.7V251.1M160.2 248.7V250.9M162.5 248.6V252.1M164.7 248.6V252.5M166.9 248.6V250.8M169.2 248.5V251M171.4 248.5V251.7M173.6 248.5V251.8M175.8 248.5V250.6M178.1 248.4V250.9M180.3 248.4V251.7M182.5 248.4V251.7M184.8 248.4V250.5M187 248.4V250.6M189.2 248.4V252.1M191.5 248.4V252M193.7 248.4V250.8M195.9 248.3V250.8M198.1 248.3V251.8M200.4 248.3V252.1M202.6 248.3V250.4M204.8 248.3V250.8M207.1 248.3V251.7M209.3 248.3V251.5M211.5 248.3V250.6M213.8 248.3V250.7M216 248.3V251.6M218.2 248.3V251.3M220.4 248.3V250.6M222.7 248.3V250.6M224.9 248.3V251.6M227.1 248.2V251.9M229.4 248.2V250.2M231.6 248.2V250.2M233.8 248.2V251.2M236.1 248.2V251.1M238.3 248.2V250.4" stroke="#0a0aff" stroke-width="0.9" fill="none"/>
<polygon points="61,247.4 62,248.1 63,249.3 64,249.7 65,250.3 66,250.7 67,251.3 68,250.9 69,251.3 70,250.9 71,250.8 72,250.7 73,250.7 74,251.2 75,251.1 76,250.9 77,250.4 78,250.4 79,250.3 80,250.4 81,250.6 82,250 83,250.3 84,250.4 85,249.8 86,250.1 87,250.2 88,250 89,249.9 90,250.1 91,249.8 92,249.6 93,249.6 94,249.9 95,249.8 96,249.7 97,249.4 98,249.1 99,249 100,249.1 101,249.3 102,248.7 103,249.2 104,249.1 105,248.9 106,248.4 107,248.9 108,248.6 109,248.7 110,248.5 111,248.6 112,248.3 113,248.6 114,248.5 115,248.5 116,248.2 117,247.9 118,247.9 119,247.7 120,248.1 121,248 122,248 123,248 124,248.1 125,247.9 126,247.6 127,247.9 128,247.5 129,247.8 130,247.4 131,247.9 132,247.6 133,247.5 134,247.9 135,247.3 136,247.9 137,247.8 138,247.3 139,247.7 140,247.6 141,247.8 142,247.6 143,247.4 144,247.8 145,247.2 146,247.6 147,247.2 148,247.3 149,247.1 150,247.7 151,247.3 152,247.5 153,247.2 154,247.5 155,247.4 156,247 157,247.3 158,247.4 159,247.1 160,247.4 161,247.1 162,247.1 163,247.5 164,247.5 165,247.5 166,247.1 167,247.2 168,247.4 169,247.3 170,247.1 171,247.4 172,247 173,247.4 174,247.1 175,246.8 176,247.2 177,246.8 178,247.2 179,246.7 180,247.3 181,247 182,247.2 183,246.7 184,247.1 185,246.9 186,246.8 187,247.2 188,246.6 189,247 190,246.7 191,247.2 192,247.2 193,246.6 194,246.9 195,246.9 196,247.1 197,247.1 198,246.8 199,247.2 200,246.7 201,246.7 202,247.1 203,246.7 204,246.7 205,246.9 206,246.8 207,246.7 208,247.2 209,246.9 210,247.1 211,246.7 212,247.2 213,246.7 214,247.2 215,247 216,247.2 217,247.1 218,247 219,246.9 220,247.1 221,246.8 222,246.6 223,247.1 224,247.1 225,247 226,247 227,246.7 228,246.8 229,247.1 230,247.2 231,247.1 232,246.6 233,247 234,246.9 235,246.8 236,246.6 237,246.6 238,246.8 239,246.8 240,246.6 240.6,246.7 240.6,248.7 240,248.7 239,248.4 238,249 237,249.1 236,248.7 235,248.4 234,248.5 233,248.7 232,248.9 231,248.7 230,248.5 229,248.9 228,248.6 227,248.6 226,249.1 225,248.9 224,248.5 223,248.5 222,248.7 221,248.6 220,248.4 219,249.1 218,248.5 217,248.9 216,248.7 215,248.9 214,248.6 213,248.8 212,248.9 211,249 210,248.5 209,248.7 208,248.8 207,248.5 206,248.9 205,248.6 204,248.9 203,249.1 202,248.6 201,248.5 200,248.6 199,248.8 198,249 197,249.1 196,248.7 195,248.7 194,248.6 193,248.7 192,249.2 191,248.9 190,248.7 189,248.8 188,249 187,248.6 186,248.8 185,248.6 184,248.6 183,248.7 182,249 181,249.2 180,248.9 179,248.9 178,249.2 177,249.1 176,248.8 175,249.2 174,248.9 173,248.9 172,249 171,248.7 170,248.9 169,249.3 168,248.9 167,249.3 166,248.9 165,249 164,248.8 163,248.8 162,249.2 161,249.1 160,249.2 159,249.2 158,249.2 157,249 156,249.4 155,249.3 154,249 153,249 152,249 151,249.1 150,249.6 149,249.2 148,249.4 147,249.5 146,249.1 145,249.5 144,249.5 143,249.7 142,249.8 141,249.7 140,249.5 139,249.4 138,249.2 137,249.3 136,249.7 135,249.2 134,249.9 133,249.8 132,249.2 131,249.7 130,249.5 129,249.9 128,249.5 127,249.6 126,249.9 125,249.5 124,249.9 123,249.4 122,249.9 121,249.5 120,249.5 119,249.4 118,250.1 117,250 116,250.3 115,250 114,249.8 113,250.2 112,250.1 111,250.7 110,250.3 109,250.2 108,250.2 107,250.8 106,250.8 105,251.1 104,251.1 103,251 102,251.1 101,251.3 100,250.8 99,251.2 98,251 97,251.3 96,251 95,251.1 94,251.8 93,251.4 92,251.9 91,251.5 90,251.8 89,251.7 88,252 87,252.2 86,252 85,252.2 84,252.4 83,252.1 82,252.4 81,252.6 80,252.4 79,252.5 78,252.4 77,252.3 76,252.4 75,252.4 74,252.6 73,252.8 72,252.7 71,253.1 70,252.9 69,252.6 68,253.2 67,253.2 66,252.4 65,252.4 64,251.5 63,251.5 62,250.5 61,249.2" fill="#0a0aff"/>
<path d="M17.6 228.2h1.9M240.6 228.2h-1.9M17.6 232.7h1.9M240.6 232.7h-1.9M17.6 237.2h1.9M240.6 237.2h-1.9M17.6 241.7h1.9M240.6 241.7h-1.9M17.6 246.2h3.6M240.6 246.2h-3.6M17.6 250.7h1.9M240.6 250.7h-1.9M17.6 255.2h1.9M240.6 255.2h-1.9M17.6 259.7h1.9M240.6 259.7h-1.9M17.6 264.2h1.9M240.6 264.2h-1.9M17.6 268.7h3.6M240.6 268.7h-3.6M17.6 273.2h1.9M240.6 273.2h-1.9M17.6 277.7h1.9M240.6 277.7h-1.9M17.6 282.2h1.9M240.6 282.2h-1.9M17.6 286.7h1.9M240.6 286.7h-1.9M17.6 291.2h3.6M240.6 291.2h-3.6M17.6 295.7h1.9M240.6 295.7h-1.9M17.6 300.2h1.9M240.6 300.2h-1.9M17.6 304.7h1.9M240.6 304.7h-1.9M17.6 309.2h1.9M240.6 309.2h-1.9M17.6 313.7h3.6M240.6 313.7h-3.6M17.6 318.2h1.9M240.6 318.2h-1.9M17.6 322.7h1.9M240.6 322.7h-1.9M17.6 327.2h1.9M240.6 327.2h-1.9M17.6 331.7h1.9M240.6 331.7h-1.9M17.6 336.2h3.6M240.6 336.2h-3.6M17.6 340.7h1.9M240.6 340.7h-1.9M17.6 345.2h1.9M240.6 345.2h-1.9M17.6 349.7h1.9M240.6 349.7h-1.9M17.6 354.2h1.9M240.6 354.2h-1.9M17.6 358.7h3.6M240.6 358.7h-3.6M17.6 363.2h1.9M240.6 363.2h-1.9M17.6 367.7h1.9M240.6 367.7h-1.9M17.6 372.2h1.9M240.6 372.2h-1.9M17.6 376.7h1.9M240.6 376.7h-1.9M17.6 381.2h3.6M240.6 381.2h-3.6M17.6 385.7h1.9M240.6 385.7h-1.9M17.6 390.2h1.9M240.6 390.2h-1.9M17.6 394.7h1.9M240.6 394.7h-1.9M17.6 399.2h1.9M240.6 399.2h-1.9M22.5 224.9v1.9M22.5 402.5v-1.9M26.9 224.9v1.9M26.9 402.5v-1.9M31.4 224.9v1.9M31.4 402.5v-1.9M35.8 224.9v1.9M35.8 402.5v-1.9M40.3 224.9v3.6M40.3 402.5v-3.6M44.7 224.9v1.9M44.7 402.5v-1.9M49.2 224.9v1.9M49.2 402.5v-1.9M53.7 224.9v1.9M53.7 402.5v-1.9M58.1 224.9v1.9M58.1 402.5v-1.9M62.6 224.9v3.6M62.6 402.5v-3.6M67 224.9v1.9M67 402.5v-1.9M71.5 224.9v1.9M71.5 402.5v-1.9M76 224.9v1.9M76 402.5v-1.9M80.4 224.9v1.9M80.4 402.5v-1.9M84.9 224.9v3.6M84.9 402.5v-3.6M89.3 224.9v1.9M89.3 402.5v-1.9M93.8 224.9v1.9M93.8 402.5v-1.9M98.2 224.9v1.9M98.2 402.5v-1.9M102.7 224.9v1.9M102.7 402.5v-1.9M107.2 224.9v3.6M107.2 402.5v-3.6M111.6 224.9v1.9M111.6 402.5v-1.9M116.1 224.9v1.9M116.1 402.5v-1.9M120.5 224.9v1.9M120.5 402.5v-1.9M125 224.9v1.9M125 402.5v-1.9M129.4 224.9v3.6M129.4 402.5v-3.6M133.9 224.9v1.9M133.9 402.5v-1.9M138.4 224.9v1.9M138.4 402.5v-1.9M142.8 224.9v1.9M142.8 402.5v-1.9M147.3 224.9v1.9M147.3 402.5v-1.9M151.7 224.9v3.6M151.7 402.5v-3.6M156.2 224.9v1.9M156.2 402.5v-1.9M160.7 224.9v1.9M160.7 402.5v-1.9M165.1 224.9v1.9M165.1 402.5v-1.9M169.6 224.9v1.9M169.6 402.5v-1.9M174 224.9v3.6M174 402.5v-3.6M178.5 224.9v1.9M178.5 402.5v-1.9M182.9 224.9v1.9M182.9 402.5v-1.9M187.4 224.9v1.9M187.4 402.5v-1.9M191.9 224.9v1.9M191.9 402.5v-1.9M196.3 224.9v3.6M196.3 402.5v-3.6M200.8 224.9v1.9M200.8 402.5v-1.9M205.2 224.9v1.9M205.2 402.5v-1.9M209.7 224.9v1.9M209.7 402.5v-1.9M214.2 224.9v1.9M214.2 402.5v-1.9M218.6 224.9v3.6M218.6 402.5v-3.6M223.1 224.9v1.9M223.1 402.5v-1.9M227.5 224.9v1.9M227.5 402.5v-1.9M232 224.9v1.9M232 402.5v-1.9M236.4 224.9v1.9M236.4 402.5v-1.9" stroke="#222" stroke-width="0.8" fill="none"/>
<rect x="17.6" y="224.9" width="223" height="177.6" fill="none" stroke="#000" stroke-width="1.25"/>
<path d="M17.6 247.2H10.4V252.8" stroke="#111" stroke-width="1.2" fill="none"/>
<path d="M5.2 252.8h10.4M7.3 255.7h6.2" stroke="#111" stroke-width="1.2" fill="none"/>
<path d="M8.8 258.5h3.2" stroke="#333" stroke-width="1.1" fill="none"/>
<path d="M17.6 291.8H8.5V297.4" stroke="#111" stroke-width="1.2" fill="none"/>
<path d="M3.3 297.4h10.4M5.4 300.3h6.2" stroke="#111" stroke-width="1.2" fill="none"/>
<path d="M6.9 303.1h3.2" stroke="#333" stroke-width="1.1" fill="none"/>
<path d="M17.6 324.1H10.3V329.7" stroke="#111" stroke-width="1.2" fill="none"/>
<path d="M5.1 329.7h10.4M7.2 332.6h6.2" stroke="#111" stroke-width="1.2" fill="none"/>
<path d="M8.7 335.4h3.2" stroke="#333" stroke-width="1.1" fill="none"/>
<path d="M17.6 358.4H8.4V364" stroke="#111" stroke-width="1.2" fill="none"/>
<path d="M3.2 364h10.4M5.3 366.9h6.2" stroke="#111" stroke-width="1.2" fill="none"/>
<path d="M6.8 369.7h3.2" stroke="#333" stroke-width="1.1" fill="none"/>
<text x="131.4" y="234.2" class="lb"><tspan font-size="11.5" font-style="italic">V</tspan><tspan font-size="7.5" font-style="italic" dy="2.9">O</tspan><tspan font-size="7.5">(ac)</tspan><tspan font-size="6.3" dy="-2.5">:</tspan><tspan font-size="6.8">CH1(1V/div)</tspan></text>
<path d="M158 237.7L154.1 240.5" stroke="#000" stroke-width="1.2" fill="none"/>
<polygon points="150.50,243.00 153.00,238.91 155.19,242.01" fill="#000"/>
<text x="22.6" y="264" class="lb"><tspan font-size="10.5" font-style="italic">v</tspan><tspan font-size="7.8" font-style="italic" dy="2.2">Cr</tspan><tspan font-size="7.8">(ac)</tspan><tspan font-size="6.3" dy="-2.5">:</tspan><tspan font-size="6.6">CH2(2V/div)</tspan></text>
<path d="M51.8 268.5L55.3 275.2" stroke="#000" stroke-width="1.2" fill="none"/>
<polygon points="57.40,279.10 53.66,276.10 57.02,274.32" fill="#000"/>
<text x="28" y="320.3" class="lb"><tspan font-size="8" font-style="italic">v</tspan><tspan font-size="6.6" font-style="italic" dy="0.9">C</tspan><tspan font-size="3"> </tspan><tspan font-size="6.6" font-style="italic">f</tspan><tspan font-size="2.5" dy="-0.9"> </tspan><tspan font-size="6.75">:CH3(5V/div)</tspan></text>
<text x="36.3" y="394.6" class="lb"><tspan font-size="12.5" font-style="italic">i</tspan><tspan font-size="7.2" font-style="italic" dy="1.4">Cr</tspan><tspan font-size="6.6" dy="-1.4">:CH4(1A/div)</tspan></text>
<path d="M52.9 386.7L55.8 381.2" stroke="#000" stroke-width="1.2" fill="none"/>
<polygon points="57.90,377.30 57.51,382.08 54.16,380.29" fill="#000"/>
<text class="lg" y="304.1"><tspan x="175.9">1) CH1</tspan><tspan x="197.1">1</tspan><tspan x="203.1">V</tspan><tspan x="213.5">250 us</tspan></text>
<text class="lg" y="311.6"><tspan x="175.9">2) CH2</tspan><tspan x="197.1">2</tspan><tspan x="203.1">V</tspan><tspan x="213.5">250 us</tspan></text>
<text class="lg" y="319"><tspan x="175.9">3) CH3</tspan><tspan x="197.1">5</tspan><tspan x="203.1">V</tspan><tspan x="213.5">250 us</tspan></text>
<text class="lg" y="326.5"><tspan x="175.9">4) CH4</tspan><tspan x="197.1">1</tspan><tspan x="203.1">A</tspan><tspan x="213.5">250 us</tspan></text>
<path d="M218.7 403.7V413.6M240.3 403.7V413.6" stroke="#000" stroke-width="1.3" fill="none"/>
<path d="M222.7 408.6H236.3" stroke="#000" stroke-width="1.2" fill="none"/>
<polygon points="219.3,408.6 225.1,406.1 225.1,411.1" fill="#000"/>
<polygon points="239.7,408.6 233.9,406.1 233.9,411.1" fill="#000"/>
<text class="sb" x="218.9" y="421.3">250 µs</text>
<text class="cp" x="124.4" y="436.3" text-anchor="middle">(<tspan font-weight="bold">c</tspan>)</text>
<path d="M341.9 228.4h1M341.9 232.9h1M341.9 237.4h1M341.9 241.9h1M341.9 246.4h1M341.9 250.9h1M341.9 255.4h1M341.9 259.9h1M341.9 264.4h1M341.9 268.9h1M341.9 273.4h1M341.9 277.9h1M341.9 282.4h1M341.9 286.9h1M341.9 291.4h1M341.9 295.9h1M341.9 300.4h1M341.9 304.9h1M341.9 309.4h1M341.9 313.9h1M341.9 318.4h1M341.9 322.9h1M341.9 327.4h1M341.9 331.9h1M341.9 336.4h1M341.9 340.9h1M341.9 345.4h1M341.9 349.9h1M341.9 354.4h1M341.9 358.9h1M341.9 363.4h1M341.9 367.9h1M341.9 372.4h1M341.9 376.9h1M341.9 381.4h1M341.9 385.9h1M341.9 390.4h1M341.9 394.9h1M341.9 399.4h1M364.2 228.4h1M364.2 232.9h1M364.2 237.4h1M364.2 241.9h1M364.2 246.4h1M364.2 250.9h1M364.2 255.4h1M364.2 259.9h1M364.2 264.4h1M364.2 268.9h1M364.2 273.4h1M364.2 277.9h1M364.2 282.4h1M364.2 286.9h1M364.2 291.4h1M364.2 295.9h1M364.2 300.4h1M364.2 304.9h1M364.2 309.4h1M364.2 313.9h1M364.2 318.4h1M364.2 322.9h1M364.2 327.4h1M364.2 331.9h1M364.2 336.4h1M364.2 340.9h1M364.2 345.4h1M364.2 349.9h1M364.2 354.4h1M364.2 358.9h1M364.2 363.4h1M364.2 367.9h1M364.2 372.4h1M364.2 376.9h1M364.2 381.4h1M364.2 385.9h1M364.2 390.4h1M364.2 394.9h1M364.2 399.4h1M386.5 228.4h1M386.5 232.9h1M386.5 237.4h1M386.5 241.9h1M386.5 246.4h1M386.5 250.9h1M386.5 255.4h1M386.5 259.9h1M386.5 264.4h1M386.5 268.9h1M386.5 273.4h1M386.5 277.9h1M386.5 282.4h1M386.5 286.9h1M386.5 291.4h1M386.5 295.9h1M386.5 300.4h1M386.5 304.9h1M386.5 309.4h1M386.5 313.9h1M386.5 318.4h1M386.5 322.9h1M386.5 327.4h1M386.5 331.9h1M386.5 336.4h1M386.5 340.9h1M386.5 345.4h1M386.5 349.9h1M386.5 354.4h1M386.5 358.9h1M386.5 363.4h1M386.5 367.9h1M386.5 372.4h1M386.5 376.9h1M386.5 381.4h1M386.5 385.9h1M386.5 390.4h1M386.5 394.9h1M386.5 399.4h1M408.8 228.4h1M408.8 232.9h1M408.8 237.4h1M408.8 241.9h1M408.8 246.4h1M408.8 250.9h1M408.8 255.4h1M408.8 259.9h1M408.8 264.4h1M408.8 268.9h1M408.8 273.4h1M408.8 277.9h1M408.8 282.4h1M408.8 286.9h1M408.8 291.4h1M408.8 295.9h1M408.8 300.4h1M408.8 304.9h1M408.8 309.4h1M408.8 313.9h1M408.8 318.4h1M408.8 322.9h1M408.8 327.4h1M408.8 331.9h1M408.8 336.4h1M408.8 340.9h1M408.8 345.4h1M408.8 349.9h1M408.8 354.4h1M408.8 358.9h1M408.8 363.4h1M408.8 367.9h1M408.8 372.4h1M408.8 376.9h1M408.8 381.4h1M408.8 385.9h1M408.8 390.4h1M408.8 394.9h1M408.8 399.4h1M453.4 228.4h1M453.4 232.9h1M453.4 237.4h1M453.4 241.9h1M453.4 246.4h1M453.4 250.9h1M453.4 255.4h1M453.4 259.9h1M453.4 264.4h1M453.4 268.9h1M453.4 273.4h1M453.4 277.9h1M453.4 282.4h1M453.4 286.9h1M453.4 291.4h1M453.4 295.9h1M453.4 300.4h1M453.4 304.9h1M453.4 309.4h1M453.4 313.9h1M453.4 318.4h1M453.4 322.9h1M453.4 327.4h1M453.4 331.9h1M453.4 336.4h1M453.4 340.9h1M453.4 345.4h1M453.4 349.9h1M453.4 354.4h1M453.4 358.9h1M453.4 363.4h1M453.4 367.9h1M453.4 372.4h1M453.4 376.9h1M453.4 381.4h1M453.4 385.9h1M453.4 390.4h1M453.4 394.9h1M453.4 399.4h1M475.7 228.4h1M475.7 232.9h1M475.7 237.4h1M475.7 241.9h1M475.7 246.4h1M475.7 250.9h1M475.7 255.4h1M475.7 259.9h1M475.7 264.4h1M475.7 268.9h1M475.7 273.4h1M475.7 277.9h1M475.7 282.4h1M475.7 286.9h1M475.7 291.4h1M475.7 295.9h1M475.7 300.4h1M475.7 304.9h1M475.7 309.4h1M475.7 313.9h1M475.7 318.4h1M475.7 322.9h1M475.7 327.4h1M475.7 331.9h1M475.7 336.4h1M475.7 340.9h1M475.7 345.4h1M475.7 349.9h1M475.7 354.4h1M475.7 358.9h1M475.7 363.4h1M475.7 367.9h1M475.7 372.4h1M475.7 376.9h1M475.7 381.4h1M475.7 385.9h1M475.7 390.4h1M475.7 394.9h1M475.7 399.4h1M498 228.4h1M498 232.9h1M498 237.4h1M498 241.9h1M498 246.4h1M498 250.9h1M498 255.4h1M498 259.9h1M498 264.4h1M498 268.9h1M498 273.4h1M498 277.9h1M498 282.4h1M498 286.9h1M498 291.4h1M498 295.9h1M498 300.4h1M498 304.9h1M498 309.4h1M498 313.9h1M498 318.4h1M498 322.9h1M498 327.4h1M498 331.9h1M498 336.4h1M498 340.9h1M498 345.4h1M498 349.9h1M498 354.4h1M498 358.9h1M498 363.4h1M498 367.9h1M498 372.4h1M498 376.9h1M498 381.4h1M498 385.9h1M498 390.4h1M498 394.9h1M498 399.4h1M520.3 228.4h1M520.3 232.9h1M520.3 237.4h1M520.3 241.9h1M520.3 246.4h1M520.3 250.9h1M520.3 255.4h1M520.3 259.9h1M520.3 264.4h1M520.3 268.9h1M520.3 273.4h1M520.3 277.9h1M520.3 282.4h1M520.3 286.9h1M520.3 291.4h1M520.3 295.9h1M520.3 300.4h1M520.3 304.9h1M520.3 309.4h1M520.3 313.9h1M520.3 318.4h1M520.3 322.9h1M520.3 327.4h1M520.3 331.9h1M520.3 336.4h1M520.3 340.9h1M520.3 345.4h1M520.3 349.9h1M520.3 354.4h1M520.3 358.9h1M520.3 363.4h1M520.3 367.9h1M520.3 372.4h1M520.3 376.9h1M520.3 381.4h1M520.3 385.9h1M520.3 390.4h1M520.3 394.9h1M520.3 399.4h1M324.1 246.4h1M328.5 246.4h1M333 246.4h1M337.4 246.4h1M341.9 246.4h1M346.4 246.4h1M350.8 246.4h1M355.3 246.4h1M359.7 246.4h1M364.2 246.4h1M368.7 246.4h1M373.1 246.4h1M377.6 246.4h1M382 246.4h1M386.5 246.4h1M391 246.4h1M395.4 246.4h1M399.9 246.4h1M404.3 246.4h1M408.8 246.4h1M413.3 246.4h1M417.7 246.4h1M422.2 246.4h1M426.6 246.4h1M431.1 246.4h1M435.6 246.4h1M440 246.4h1M444.5 246.4h1M448.9 246.4h1M453.4 246.4h1M457.9 246.4h1M462.3 246.4h1M466.8 246.4h1M471.2 246.4h1M475.7 246.4h1M480.2 246.4h1M484.6 246.4h1M489.1 246.4h1M493.5 246.4h1M498 246.4h1M502.5 246.4h1M506.9 246.4h1M511.4 246.4h1M515.8 246.4h1M520.3 246.4h1M524.8 246.4h1M529.2 246.4h1M533.7 246.4h1M538.1 246.4h1M324.1 268.9h1M328.5 268.9h1M333 268.9h1M337.4 268.9h1M341.9 268.9h1M346.4 268.9h1M350.8 268.9h1M355.3 268.9h1M359.7 268.9h1M364.2 268.9h1M368.7 268.9h1M373.1 268.9h1M377.6 268.9h1M382 268.9h1M386.5 268.9h1M391 268.9h1M395.4 268.9h1M399.9 268.9h1M404.3 268.9h1M408.8 268.9h1M413.3 268.9h1M417.7 268.9h1M422.2 268.9h1M426.6 268.9h1M431.1 268.9h1M435.6 268.9h1M440 268.9h1M444.5 268.9h1M448.9 268.9h1M453.4 268.9h1M457.9 268.9h1M462.3 268.9h1M466.8 268.9h1M471.2 268.9h1M475.7 268.9h1M480.2 268.9h1M484.6 268.9h1M489.1 268.9h1M493.5 268.9h1M498 268.9h1M502.5 268.9h1M506.9 268.9h1M511.4 268.9h1M515.8 268.9h1M520.3 268.9h1M524.8 268.9h1M529.2 268.9h1M533.7 268.9h1M538.1 268.9h1M324.1 291.4h1M328.5 291.4h1M333 291.4h1M337.4 291.4h1M341.9 291.4h1M346.4 291.4h1M350.8 291.4h1M355.3 291.4h1M359.7 291.4h1M364.2 291.4h1M368.7 291.4h1M373.1 291.4h1M377.6 291.4h1M382 291.4h1M386.5 291.4h1M391 291.4h1M395.4 291.4h1M399.9 291.4h1M404.3 291.4h1M408.8 291.4h1M413.3 291.4h1M417.7 291.4h1M422.2 291.4h1M426.6 291.4h1M431.1 291.4h1M435.6 291.4h1M440 291.4h1M444.5 291.4h1M448.9 291.4h1M453.4 291.4h1M457.9 291.4h1M462.3 291.4h1M466.8 291.4h1M471.2 291.4h1M475.7 291.4h1M480.2 291.4h1M484.6 291.4h1M489.1 291.4h1M493.5 291.4h1M498 291.4h1M502.5 291.4h1M506.9 291.4h1M511.4 291.4h1M515.8 291.4h1M520.3 291.4h1M524.8 291.4h1M529.2 291.4h1M533.7 291.4h1M538.1 291.4h1M324.1 336.4h1M328.5 336.4h1M333 336.4h1M337.4 336.4h1M341.9 336.4h1M346.4 336.4h1M350.8 336.4h1M355.3 336.4h1M359.7 336.4h1M364.2 336.4h1M368.7 336.4h1M373.1 336.4h1M377.6 336.4h1M382 336.4h1M386.5 336.4h1M391 336.4h1M395.4 336.4h1M399.9 336.4h1M404.3 336.4h1M408.8 336.4h1M413.3 336.4h1M417.7 336.4h1M422.2 336.4h1M426.6 336.4h1M431.1 336.4h1M435.6 336.4h1M440 336.4h1M444.5 336.4h1M448.9 336.4h1M453.4 336.4h1M457.9 336.4h1M462.3 336.4h1M466.8 336.4h1M471.2 336.4h1M475.7 336.4h1M480.2 336.4h1M484.6 336.4h1M489.1 336.4h1M493.5 336.4h1M498 336.4h1M502.5 336.4h1M506.9 336.4h1M511.4 336.4h1M515.8 336.4h1M520.3 336.4h1M524.8 336.4h1M529.2 336.4h1M533.7 336.4h1M538.1 336.4h1M324.1 358.9h1M328.5 358.9h1M333 358.9h1M337.4 358.9h1M341.9 358.9h1M346.4 358.9h1M350.8 358.9h1M355.3 358.9h1M359.7 358.9h1M364.2 358.9h1M368.7 358.9h1M373.1 358.9h1M377.6 358.9h1M382 358.9h1M386.5 358.9h1M391 358.9h1M395.4 358.9h1M399.9 358.9h1M404.3 358.9h1M408.8 358.9h1M413.3 358.9h1M417.7 358.9h1M422.2 358.9h1M426.6 358.9h1M431.1 358.9h1M435.6 358.9h1M440 358.9h1M444.5 358.9h1M448.9 358.9h1M453.4 358.9h1M457.9 358.9h1M462.3 358.9h1M466.8 358.9h1M471.2 358.9h1M475.7 358.9h1M480.2 358.9h1M484.6 358.9h1M489.1 358.9h1M493.5 358.9h1M498 358.9h1M502.5 358.9h1M506.9 358.9h1M511.4 358.9h1M515.8 358.9h1M520.3 358.9h1M524.8 358.9h1M529.2 358.9h1M533.7 358.9h1M538.1 358.9h1M324.1 381.4h1M328.5 381.4h1M333 381.4h1M337.4 381.4h1M341.9 381.4h1M346.4 381.4h1M350.8 381.4h1M355.3 381.4h1M359.7 381.4h1M364.2 381.4h1M368.7 381.4h1M373.1 381.4h1M377.6 381.4h1M382 381.4h1M386.5 381.4h1M391 381.4h1M395.4 381.4h1M399.9 381.4h1M404.3 381.4h1M408.8 381.4h1M413.3 381.4h1M417.7 381.4h1M422.2 381.4h1M426.6 381.4h1M431.1 381.4h1M435.6 381.4h1M440 381.4h1M444.5 381.4h1M448.9 381.4h1M453.4 381.4h1M457.9 381.4h1M462.3 381.4h1M466.8 381.4h1M471.2 381.4h1M475.7 381.4h1M480.2 381.4h1M484.6 381.4h1M489.1 381.4h1M493.5 381.4h1M498 381.4h1M502.5 381.4h1M506.9 381.4h1M511.4 381.4h1M515.8 381.4h1M520.3 381.4h1M524.8 381.4h1M529.2 381.4h1M533.7 381.4h1M538.1 381.4h1" stroke="#b4b4b4" stroke-width="0.9" fill="none"/>
<path d="M431.6 224.9V403.1M319.6 313.9H542.8M430.3 228.4h2.6M430.3 232.9h2.6M430.3 237.4h2.6M430.3 241.9h2.6M429.4 246.4h4.4M430.3 250.9h2.6M430.3 255.4h2.6M430.3 259.9h2.6M430.3 264.4h2.6M429.4 268.9h4.4M430.3 273.4h2.6M430.3 277.9h2.6M430.3 282.4h2.6M430.3 286.9h2.6M429.4 291.4h4.4M430.3 295.9h2.6M430.3 300.4h2.6M430.3 304.9h2.6M430.3 309.4h2.6M429.4 313.9h4.4M430.3 318.4h2.6M430.3 322.9h2.6M430.3 327.4h2.6M430.3 331.9h2.6M429.4 336.4h4.4M430.3 340.9h2.6M430.3 345.4h2.6M430.3 349.9h2.6M430.3 354.4h2.6M429.4 358.9h4.4M430.3 363.4h2.6M430.3 367.9h2.6M430.3 372.4h2.6M430.3 376.9h2.6M429.4 381.4h4.4M430.3 385.9h2.6M430.3 390.4h2.6M430.3 394.9h2.6M430.3 399.4h2.6M324.6 312.6v2.6M329 312.6v2.6M333.5 312.6v2.6M337.9 312.6v2.6M342.4 311.7v4.4M346.9 312.6v2.6M351.3 312.6v2.6M355.8 312.6v2.6M360.2 312.6v2.6M364.7 311.7v4.4M369.2 312.6v2.6M373.6 312.6v2.6M378.1 312.6v2.6M382.5 312.6v2.6M387 311.7v4.4M391.5 312.6v2.6M395.9 312.6v2.6M400.4 312.6v2.6M404.8 312.6v2.6M409.3 311.7v4.4M413.8 312.6v2.6M418.2 312.6v2.6M422.7 312.6v2.6M427.1 312.6v2.6M431.6 311.7v4.4M436.1 312.6v2.6M440.5 312.6v2.6M445 312.6v2.6M449.4 312.6v2.6M453.9 311.7v4.4M458.4 312.6v2.6M462.8 312.6v2.6M467.3 312.6v2.6M471.7 312.6v2.6M476.2 311.7v4.4M480.7 312.6v2.6M485.1 312.6v2.6M489.6 312.6v2.6M494 312.6v2.6M498.5 311.7v4.4M503 312.6v2.6M507.4 312.6v2.6M511.9 312.6v2.6M516.3 312.6v2.6M520.8 311.7v4.4M525.3 312.6v2.6M529.7 312.6v2.6M534.2 312.6v2.6M538.6 312.6v2.6" stroke="#333" stroke-width="0.7" fill="none"/>
<polygon points="319.6,279.4 320.6,279.8 321.6,279.6 322.6,279.9 323.6,279.5 324.6,280 325.6,279.9 326.6,279.6 327.6,279.4 328.6,279.6 329.6,279.4 330.6,279.8 331.6,279.8 332.6,279.7 333.6,280 334.6,279.3 335.6,279.8 336.6,279.9 337.6,279.4 338.6,279.5 339.6,279.3 340.6,279.7 341.6,279.8 342.6,279.5 343.6,279.8 344.6,279.6 345.6,279.8 346.6,279.5 347.6,280 348.6,279.6 349.6,279.3 350.6,279.4 351.6,279.8 352.6,279.9 353.6,279.7 354.6,279.4 355.6,279.9 356.6,279.8 357.6,279.4 358.6,278.9 359.6,277.9 360.6,276.3 361.6,275.4 362.6,275 363.6,275.4 364.6,275.8 365.6,275.9 366.6,277.6 367.6,278.9 368.6,280.9 369.6,282.6 370.6,284.8 371.6,286.5 372.6,288.6 373.6,290.2 374.6,291.9 375.6,294 376.6,295.9 377.6,297.7 378.6,299.6 379.6,301.6 380.6,303.5 381.6,303.6 382.6,304 383.6,303.4 384.6,301.9 385.6,300.3 386.6,298.9 387.6,297.8 388.6,297.9 389.6,297.6 390.6,297.8 391.6,297.6 392.6,297.5 393.6,297.4 394.6,297.2 395.6,297.6 396.6,297.4 397.6,297.3 398.6,297.2 399.6,297.3 400.6,297.5 401.6,297.6 402.6,297.3 403.6,297.5 404.6,297.1 405.6,297.3 406.6,297.2 407.6,297.2 408.6,297.2 409.6,297.5 410.6,297.5 411.6,297.1 412.6,297.1 413.6,297.5 414.6,297.4 415.6,297.4 416.6,297.4 417.6,297.5 418.6,297.2 419.6,297 420.6,297.2 421.6,297 422.6,297.6 423.6,297.3 424.6,297.4 425.6,297.6 426.6,297.5 427.6,297.1 428.6,297.2 429.6,297 430.6,297.5 431.6,297.5 432.6,297.3 433.6,297.2 434.6,297.1 435.6,297.3 436.6,297.4 437.6,297.6 438.6,297.5 439.6,297.5 440.6,297.2 441.6,297.2 442.6,297.2 443.6,297.6 444.6,297.1 445.6,297 446.6,297.1 447.6,297.6 448.6,297.5 449.6,297.2 450.6,297.5 451.6,297.5 452.6,297.2 453.6,297.1 454.6,297.5 455.6,297.2 456.6,297 457.6,297.5 458.6,297.2 459.6,297.2 460.6,297.3 461.6,297.1 462.6,296.9 463.6,297.2 464.6,297.2 465.6,296.9 466.6,297.2 467.6,297.4 468.6,297.1 469.6,297.4 470.6,297.3 471.6,297 472.6,296.9 473.6,297.4 474.6,297.3 475.6,297.1 476.6,297 477.6,297.5 478.6,297.5 479.6,297 480.6,297.3 481.6,297.3 482.6,297.1 483.6,296.9 484.6,297.1 485.6,297.3 486.6,297.3 487.6,297.2 488.6,297 489.6,297 490.6,297.1 491.6,297.2 492.6,297.1 493.6,297.5 494.6,296.9 495.6,297.6 496.6,297 497.6,297.5 498.6,297 499.6,297.3 500.6,297.1 501.6,296.9 502.6,297.4 503.6,297.4 504.6,297 505.6,297.4 506.6,297.2 507.6,297.5 508.6,296.9 509.6,297.1 510.6,297 511.6,297.3 512.6,297.4 513.6,297.4 514.6,297.2 515.6,297.1 516.6,297.4 517.6,296.9 518.6,297 519.6,297.4 520.6,297.1 521.6,297.5 522.6,296.9 523.6,297.1 524.6,297 525.6,296.8 526.6,296.9 527.6,296.9 528.6,297.1 529.6,297.1 530.6,297.2 531.6,297 532.6,297.3 533.6,297.2 534.6,297.5 535.6,296.9 536.6,297.2 537.6,297.2 538.6,297.1 539.6,297.4 540.6,296.9 541.6,297.4 542.6,297.1 542.8,297 542.8,311 542.6,311.2 541.6,311.1 540.6,311.2 539.6,311.1 538.6,311.2 537.6,310.7 536.6,310.7 535.6,311.2 534.6,310.7 533.6,310.9 532.6,311.1 531.6,310.7 530.6,310.8 529.6,311.2 528.6,310.9 527.6,310.9 526.6,310.7 525.6,310.8 524.6,311 523.6,310.7 522.6,310.9 521.6,310.6 520.6,311 519.6,310.8 518.6,310.7 517.6,310.6 516.6,311.1 515.6,311 514.6,310.5 513.6,311.1 512.6,310.5 511.6,310.7 510.6,310.8 509.6,310.7 508.6,310.7 507.6,310.9 506.6,310.6 505.6,310.9 504.6,310.9 503.6,310.8 502.6,310.4 501.6,310.9 500.6,310.9 499.6,310.6 498.6,310.7 497.6,310.9 496.6,310.9 495.6,310.3 494.6,310.5 493.6,310.7 492.6,310.4 491.6,310.5 490.6,310.4 489.6,310.3 488.6,310.7 487.6,310.4 486.6,310.8 485.6,310.5 484.6,310.5 483.6,310.5 482.6,310.3 481.6,310.7 480.6,310.3 479.6,310.9 478.6,310.6 477.6,310.7 476.6,310.4 475.6,310.6 474.6,310.5 473.6,310.4 472.6,310.6 471.6,310.7 470.6,310.2 469.6,310.6 468.6,310.3 467.6,310.6 466.6,310.2 465.6,310.4 464.6,310.4 463.6,310.1 462.6,310.6 461.6,310.4 460.6,310.5 459.6,310.3 458.6,310.2 457.6,310.5 456.6,310.6 455.6,310.5 454.6,310.1 453.6,310.2 452.6,310.2 451.6,310.7 450.6,310.3 449.6,310.3 448.6,310.4 447.6,310 446.6,310.5 445.6,310.5 444.6,310.4 443.6,310.1 442.6,310.4 441.6,310 440.6,310.1 439.6,310.4 438.6,309.9 437.6,310.4 436.6,310.3 435.6,310 434.6,310.2 433.6,310.1 432.6,310.4 431.6,309.9 430.6,310.1 429.6,310.1 428.6,309.9 427.6,310.4 426.6,310.3 425.6,310 424.6,309.9 423.6,309.8 422.6,310.3 421.6,309.9 420.6,310.2 419.6,309.8 418.6,309.8 417.6,309.8 416.6,309.8 415.6,310.2 414.6,310.2 413.6,310.3 412.6,310.3 411.6,310 410.6,310.3 409.6,310.3 408.6,310.1 407.6,310.4 406.6,310.1 405.6,309.7 404.6,310.2 403.6,309.7 402.6,310 401.6,309.9 400.6,309.7 399.6,310 398.6,309.7 397.6,310.3 396.6,309.9 395.6,309.7 394.6,310.2 393.6,309.7 392.6,310.1 391.6,309.8 390.6,309.6 389.6,309.6 388.6,310.2 387.6,309.8 386.6,310.2 385.6,309.8 384.6,309.6 383.6,309.5 382.6,309.9 381.6,309.6 380.6,308.4 379.6,307.7 378.6,306.6 377.6,305.9 376.6,305.2 375.6,304.2 374.6,303.5 373.6,303 372.6,302.5 371.6,301.8 370.6,301.5 369.6,301.1 368.6,300.2 367.6,299.7 366.6,300.4 365.6,300.7 364.6,301.4 363.6,301.8 362.6,302.6 361.6,302.9 360.6,303.9 359.6,304.3 358.6,305.4 357.6,305.8 356.6,306 355.6,306.4 354.6,306.4 353.6,306.2 352.6,306.2 351.6,306 350.6,306 349.6,305.8 348.6,306.3 347.6,306.5 346.6,306 345.6,306.2 344.6,305.9 343.6,306.2 342.6,305.9 341.6,306.3 340.6,306.2 339.6,306.2 338.6,306 337.6,306 336.6,306.4 335.6,306.2 334.6,306.2 333.6,305.8 332.6,306.2 331.6,306.3 330.6,305.9 329.6,306.3 328.6,306.3 327.6,306.1 326.6,306 325.6,306.4 324.6,306.2 323.6,305.8 322.6,306.4 321.6,306.3 320.6,306.1 319.6,306.1" fill="#fe0000"/>
<path d="M320.3 278.9h1.3L320.9 279.6zM321.4 306.9h1.3L322.1 305.2zM322.5 278.9h1.3L323.2 279.8zM323.6 306.9h1.3L324.3 305zM324.8 278.9h1.3L325.4 280.3zM325.9 306.9h1.3L326.5 303.1zM327 278.9h1.3L327.6 279.5zM328.1 306.9h1.3L328.7 305.4zM329.2 278.9h1.3L329.9 279.5zM330.3 306.9h1.3L331 305.2zM331.4 278.9h1.3L332.1 279.5zM332.6 306.9h1.3L333.2 303.3zM333.7 278.9h1.3L334.3 280.3zM334.8 306.9h1.3L335.4 300.5zM335.9 278.9h1.3L336.5 279.6zM337 306.9h1.3L337.7 305.6zM338.1 278.9h1.3L338.8 280.2zM339.2 306.9h1.3L339.9 304.9zM340.4 278.9h1.3L341 280.6zM341.5 306.9h1.3L342.1 304.9zM342.6 278.9h1.3L343.2 279.6zM343.7 306.9h1.3L344.4 305.6zM344.8 278.9h1.3L345.5 280.7zM345.9 306.9h1.3L346.6 304.4zM347.1 278.9h1.3L347.7 279.7zM348.2 306.9h1.3L348.8 304.8zM349.3 278.9h1.3L349.9 280.2zM350.4 306.9h1.3L351 302.2zM351.5 278.9h1.3L352.2 279.8zM352.6 306.9h1.3L353.3 305.5zM353.7 278.9h1.3L354.4 279.7zM354.9 306.9h1.3L355.5 301.6zM356 278.9h1.3L356.6 279.7zM357.1 306.6h1.3L357.7 303zM358.2 277.9h1.3L358.8 278.9zM359.3 304.9h1.3L360 302.7zM360.4 275.3h1.3L361.1 276.4zM361.5 303.3h1.3L362.2 301.9zM362.7 274.2h1.3L363.3 275.2zM363.8 302.1h1.3L364.4 297.8zM364.9 275.2h1.3L365.5 275.8zM366 300.9h1.3L366.7 299.3zM367.1 278.3h1.3L367.8 279.9zM368.2 301.2h1.3L368.9 296.4zM369.4 282.6h1.3L370 283.2zM370.5 302.4h1.3L371.1 299.9zM371.6 286.8h1.3L372.2 287.9zM372.7 303.7h1.3L373.3 299.9zM373.8 291.1h1.3L374.5 291.9zM374.9 305h1.3L375.6 304zM376 295.3h1.3L376.7 296zM377.2 306.8h1.3L377.8 304.3zM378.3 299.6h1.3L378.9 300.8zM379.4 308.8h1.3L380 307.8zM380.5 302.9h1.3L381.1 304zM381.6 310.6h1.3L382.3 308.4zM382.7 303h1.3L383.4 304.1zM383.8 310.6h1.3L384.5 309.7zM385 299.6h1.3L385.6 300.4zM386.1 310.6h1.3L386.7 309.6zM387.2 297.3h1.3L387.8 298.3zM388.3 310.6h1.3L389 309.6zM389.4 296.9h1.3L390.1 297.5zM390.5 310.7h1.3L391.2 308.9zM391.7 296.6h1.3L392.3 297.3zM392.8 310.7h1.3L393.4 308.5zM393.9 296.6h1.3L394.5 297.3zM395 310.7h1.3L395.6 309.3zM396.1 296.6h1.3L396.8 298zM397.2 310.7h1.3L397.9 309.9zM398.3 296.6h1.3L399 297.9zM399.5 310.7h1.3L400.1 309.9zM400.6 296.6h1.3L401.2 298.3zM401.7 310.7h1.3L402.3 309.9zM402.8 296.6h1.3L403.4 297.8zM403.9 310.8h1.3L404.6 309.7zM405 296.6h1.3L405.7 297.2zM406.1 310.8h1.3L406.8 309.7zM407.3 296.6h1.3L407.9 297.5zM408.4 310.8h1.3L409 309.6zM409.5 296.6h1.3L410.1 297.2zM410.6 310.8h1.3L411.3 309.4zM411.7 296.6h1.3L412.4 297.3zM412.8 310.8h1.3L413.5 307.8zM414 296.6h1.3L414.6 297.3zM415.1 310.8h1.3L415.7 309.6zM416.2 296.6h1.3L416.8 297.2zM417.3 310.8h1.3L417.9 307.8zM418.4 296.6h1.3L419.1 297.3zM419.5 310.9h1.3L420.2 309.1zM420.6 296.6h1.3L421.3 298zM421.8 310.9h1.3L422.4 309.7zM422.9 296.6h1.3L423.5 297.9zM424 310.9h1.3L424.6 309.9zM425.1 296.6h1.3L425.7 297.2zM426.2 310.9h1.3L426.9 310.1zM427.3 296.6h1.3L428 297.4zM428.4 310.9h1.3L429.1 308.3zM429.6 296.5h1.3L430.2 297.2zM430.7 310.9h1.3L431.3 309.7zM431.8 296.5h1.3L432.4 297.9zM432.9 311h1.3L433.6 310zM434 296.5h1.3L434.7 297.2zM435.1 311h1.3L435.8 309.5zM436.3 296.5h1.3L436.9 297.4zM437.4 311h1.3L438 308zM438.5 296.5h1.3L439.1 298.2zM439.6 311h1.3L440.2 310.1zM440.7 296.5h1.3L441.4 297.5zM441.8 311h1.3L442.5 309.8zM442.9 296.5h1.3L443.6 297.2zM444.1 311h1.3L444.7 309.8zM445.2 296.5h1.3L445.8 298.2zM446.3 311h1.3L446.9 310zM447.4 296.5h1.3L448 297.5zM448.5 311.1h1.3L449.2 309zM449.6 296.5h1.3L450.3 297.2zM450.7 311.1h1.3L451.4 308.1zM451.9 296.5h1.3L452.5 297.2zM453 311.1h1.3L453.6 310.1zM454.1 296.5h1.3L454.7 297.8zM455.2 311.1h1.3L455.9 310.3zM456.3 296.5h1.3L457 297.3zM457.4 311.1h1.3L458.1 310.2zM458.6 296.5h1.3L459.2 297.4zM459.7 311.1h1.3L460.3 310.3zM460.8 296.5h1.3L461.4 297.2zM461.9 311.2h1.3L462.5 310.2zM463 296.5h1.3L463.7 297.1zM464.1 311.2h1.3L464.8 310.3zM465.2 296.5h1.3L465.9 297.2zM466.4 311.2h1.3L467 309.7zM467.5 296.5h1.3L468.1 297.1zM468.6 311.2h1.3L469.2 308.6zM469.7 296.5h1.3L470.3 297.3zM470.8 311.2h1.3L471.5 310.2zM471.9 296.5h1.3L472.6 297.2zM473 311.2h1.3L473.7 308.6zM474.2 296.5h1.3L474.8 297.1zM475.3 311.2h1.3L475.9 309zM476.4 296.5h1.3L477 297.1zM477.5 311.3h1.3L478.2 308zM478.6 296.5h1.3L479.3 297.3zM479.7 311.3h1.3L480.4 309.5zM480.9 296.5h1.3L481.5 298zM482 311.3h1.3L482.6 310.4zM483.1 296.5h1.3L483.7 297.1zM484.2 311.3h1.3L484.8 309.2zM485.3 296.5h1.3L486 297.5zM486.4 311.3h1.3L487.1 309.1zM487.5 296.5h1.3L488.2 297.2zM488.7 311.3h1.3L489.3 309.9zM489.8 296.5h1.3L490.4 297.1zM490.9 311.3h1.3L491.5 310zM492 296.5h1.3L492.6 297.2zM493.1 311.4h1.3L493.8 309.6zM494.2 296.5h1.3L494.9 297.2zM495.3 311.4h1.3L496 310.3zM496.5 296.5h1.3L497.1 297.6zM497.6 311.4h1.3L498.2 310.5zM498.7 296.5h1.3L499.3 297.9zM499.8 311.4h1.3L500.5 309.9zM500.9 296.5h1.3L501.6 297.1zM502 311.4h1.3L502.7 310.5zM503.2 296.5h1.3L503.8 297.4zM504.3 311.4h1.3L504.9 309.9zM505.4 296.4h1.3L506 297.7zM506.5 311.5h1.3L507.1 310.2zM507.6 296.4h1.3L508.3 297.3zM508.7 311.5h1.3L509.4 308.4zM509.8 296.4h1.3L510.5 297.1zM511 311.5h1.3L511.6 307.9zM512.1 296.4h1.3L512.7 298.1zM513.2 311.5h1.3L513.8 307.8zM514.3 296.4h1.3L514.9 298.2zM515.4 311.5h1.3L516.1 310.5zM516.5 296.4h1.3L517.2 297.9zM517.6 311.5h1.3L518.3 309.7zM518.8 296.4h1.3L519.4 297.1zM519.9 311.5h1.3L520.5 307.8zM521 296.4h1.3L521.6 297.5zM522.1 311.6h1.3L522.8 308.8zM523.2 296.4h1.3L523.9 297.4zM524.3 311.6h1.3L525 310.7zM525.5 296.4h1.3L526.1 298zM526.6 311.6h1.3L527.2 310.6zM527.7 296.4h1.3L528.3 297.1zM528.8 311.6h1.3L529.4 309.7zM529.9 296.4h1.3L530.6 297.1zM531 311.6h1.3L531.7 310.2zM532.1 296.4h1.3L532.8 297.6zM533.3 311.6h1.3L533.9 310.7zM534.4 296.4h1.3L535 297.5zM535.5 311.7h1.3L536.1 310.7zM536.6 296.4h1.3L537.2 297.3zM537.7 311.7h1.3L538.4 309.6zM538.8 296.4h1.3L539.5 297.6zM539.9 311.7h1.3L540.6 310.8zM541.1 296.4h1.3L541.7 297.1z" fill="#ffa4a4" fill-opacity="1.0" stroke="#ffa4a4" stroke-width="0.4" stroke-opacity="1.0"/>
<polygon points="319.6,336.9 320.6,336.5 321.6,336.5 322.6,336.5 323.6,336.7 324.6,336.7 325.6,336.7 326.6,336.5 327.6,336.6 328.6,336.6 329.6,336.3 330.6,336.9 331.6,336.9 332.6,336.7 333.6,336.9 334.6,336.5 335.6,336.8 336.6,336.4 337.6,336.7 338.6,336.7 339.6,336.9 340.6,336.8 341.6,336.8 342.6,336.4 343.6,336.8 344.6,336.5 345.6,336.4 346.6,336.5 347.6,336.8 348.6,336.8 349.6,336.8 350.6,336.7 351.6,336.3 352.6,336.3 353.6,336.6 354.6,336.3 355.6,336.4 356.6,336.3 357.6,336.3 358.6,336.7 359.6,336.4 360.6,336.8 361.6,336.4 362.6,336.8 363.6,336.5 364.6,337.3 365.6,338.2 366.6,338.7 367.6,339.8 368.6,340.5 369.6,341.1 370.6,342.5 371.6,342.9 372.6,343.6 373.6,345.3 374.6,345.7 375.6,346.7 376.6,347.6 377.6,348.6 378.6,350 379.6,350.9 380.6,351.9 381.6,352.7 382.6,351.2 383.6,350.1 384.6,348.4 385.6,348.7 386.6,348.6 387.6,347.9 388.6,348.3 389.6,347.6 390.6,348 391.6,347.9 392.6,347.7 393.6,347.5 394.6,347.6 395.6,347.1 396.6,347.3 397.6,347.1 398.6,347.1 399.6,346.9 400.6,347.3 401.6,347.1 402.6,347.2 403.6,347.1 404.6,347 405.6,347.2 406.6,347.1 407.6,346.9 408.6,346.7 409.6,347.1 410.6,346.6 411.6,346.4 412.6,346.5 413.6,346.7 414.6,346.9 415.6,346.6 416.6,346.6 417.6,346.7 418.6,346.6 419.6,346.3 420.6,346.3 421.6,346.5 422.6,346.2 423.6,346.1 424.6,346.4 425.6,346.5 426.6,346.2 427.6,346.5 428.6,346.6 429.6,346.1 430.6,346.1 431.6,346.3 432.6,346.2 433.6,346.6 434.6,346.7 435.6,346.3 436.6,346.5 437.6,346.4 438.6,346.1 439.6,346.6 440.6,346.1 441.6,346 442.6,346.2 443.6,345.9 444.6,346.3 445.6,346.2 446.6,346.6 447.6,346.2 448.6,346.5 449.6,346.4 450.6,346.3 451.6,346.1 452.6,346.1 453.6,346.2 454.6,346.2 455.6,346.3 456.6,346.2 457.6,346.1 458.6,346.3 459.6,346.6 460.6,346 461.6,346.1 462.6,345.9 463.6,345.9 464.6,345.9 465.6,346.1 466.6,346.4 467.6,346.3 468.6,346.5 469.6,346.4 470.6,346.2 471.6,346.2 472.6,345.8 473.6,346.1 474.6,346 475.6,346.3 476.6,345.9 477.6,346.2 478.6,346.1 479.6,346.2 480.6,346.1 481.6,345.9 482.6,346.3 483.6,346.4 484.6,346.2 485.6,345.9 486.6,346.2 487.6,346.4 488.6,346.5 489.6,346.3 490.6,345.8 491.6,346.4 492.6,346.2 493.6,346 494.6,346.4 495.6,346.3 496.6,346.4 497.6,345.9 498.6,346.1 499.6,346 500.6,345.9 501.6,346.3 502.6,346.2 503.6,346 504.6,346.1 505.6,346.4 506.6,346.1 507.6,346.4 508.6,346.1 509.6,346.4 510.6,345.7 511.6,346 512.6,346.1 513.6,346.2 514.6,346.4 515.6,346.1 516.6,346 517.6,346.1 518.6,346.1 519.6,346.2 520.6,346.3 521.6,345.7 522.6,345.9 523.6,346.3 524.6,345.7 525.6,346.2 526.6,345.7 527.6,346.1 528.6,346.2 529.6,345.8 530.6,345.9 531.6,345.8 532.6,346.1 533.6,346 534.6,346.1 535.6,345.9 536.6,346 537.6,346.3 538.6,346.2 539.6,346.3 540.6,345.8 541.6,346 542.6,345.9 542.8,345.8 542.8,371.5 542.6,371.2 541.6,371.3 540.6,371.1 539.6,371.2 538.6,371 537.6,371.4 536.6,371.1 535.6,371.3 534.6,371 533.6,371.5 532.6,371.5 531.6,371.4 530.6,371.3 529.6,371.4 528.6,371.2 527.6,371.1 526.6,371.6 525.6,371.3 524.6,371.6 523.6,371.4 522.6,371.1 521.6,371.2 520.6,371.6 519.6,371.4 518.6,371 517.6,371 516.6,371.3 515.6,371.1 514.6,371.1 513.6,371.6 512.6,371.6 511.6,371.2 510.6,371.2 509.6,371.3 508.6,371.1 507.6,371.4 506.6,371 505.6,371.1 504.6,371.4 503.6,371.5 502.6,371.6 501.6,371.5 500.6,371.2 499.6,370.9 498.6,371.3 497.6,371.3 496.6,371.4 495.6,371.4 494.6,371.3 493.6,371.2 492.6,371.2 491.6,370.9 490.6,371.5 489.6,371.3 488.6,371.4 487.6,371.3 486.6,370.9 485.6,371.3 484.6,371.2 483.6,371.2 482.6,371.6 481.6,371.5 480.6,371.3 479.6,371.2 478.6,370.9 477.6,371 476.6,371.2 475.6,371.3 474.6,371.3 473.6,371.4 472.6,370.9 471.6,371.5 470.6,371.1 469.6,371 468.6,371.5 467.6,371.3 466.6,371.3 465.6,371.1 464.6,371.5 463.6,371 462.6,371.3 461.6,371 460.6,371 459.6,371.6 458.6,370.9 457.6,371.3 456.6,371 455.6,371.2 454.6,371 453.6,371.5 452.6,370.9 451.6,371.3 450.6,371 449.6,371 448.6,371 447.6,371.3 446.6,371.3 445.6,371.4 444.6,371.2 443.6,371.4 442.6,371.1 441.6,371 440.6,371.1 439.6,371.2 438.6,371.5 437.6,371.3 436.6,371 435.6,371 434.6,371.3 433.6,371.3 432.6,370.9 431.6,371.3 430.6,371.5 429.6,371.1 428.6,371.2 427.6,371.5 426.6,371.4 425.6,371.4 424.6,371 423.6,371.2 422.6,371.3 421.6,370.9 420.6,371 419.6,371.3 418.6,371.3 417.6,371.2 416.6,371 415.6,371.4 414.6,371.4 413.6,371.5 412.6,371.1 411.6,371.4 410.6,371.4 409.6,371.3 408.6,371.5 407.6,371.1 406.6,371.2 405.6,371.1 404.6,371.1 403.6,371 402.6,371.4 401.6,371.4 400.6,371.6 399.6,371.3 398.6,371.3 397.6,371 396.6,371.1 395.6,371.4 394.6,371.5 393.6,370.9 392.6,371.1 391.6,370.3 390.6,370.6 389.6,370.2 388.6,369.5 387.6,369.6 386.6,369.5 385.6,369.2 384.6,368.5 383.6,367.6 382.6,366.1 381.6,365.1 380.6,365.9 379.6,366.4 378.6,366.8 377.6,367.4 376.6,368.5 375.6,368.8 374.6,369.5 373.6,370.4 372.6,370.7 371.6,371.3 370.6,372.5 369.6,372.9 368.6,373.6 367.6,374.2 366.6,374.6 365.6,375 364.6,375.6 363.6,376.2 362.6,377.1 361.6,377.2 360.6,377.9 359.6,378.7 358.6,378.2 357.6,378.3 356.6,378.5 355.6,378.4 354.6,378.4 353.6,378.8 352.6,378.3 351.6,378.3 350.6,378.9 349.6,378.7 348.6,378.3 347.6,378.2 346.6,378.7 345.6,378.3 344.6,378.3 343.6,378.8 342.6,378.5 341.6,378.3 340.6,378.8 339.6,378.5 338.6,378.4 337.6,378.7 336.6,378.8 335.6,378.8 334.6,378.7 333.6,378.9 332.6,378.3 331.6,378.5 330.6,378.6 329.6,378.3 328.6,378.8 327.6,378.2 326.6,378.6 325.6,378.7 324.6,378.9 323.6,378.2 322.6,378.4 321.6,378.5 320.6,378.8 319.6,378.3" fill="#000"/>
<path d="M320.3 335.8h1.3L320.9 343.8zM321.4 379.3h1.3L322.1 373.6zM322.5 335.8h1.3L323.2 340.9zM323.6 379.3h1.3L324.3 373.8zM324.8 335.8h1.3L325.4 338.8zM325.9 379.3h1.3L326.5 375.4zM327 335.8h1.3L327.6 339.4zM328.1 379.3h1.3L328.7 372.5zM329.2 335.8h1.3L329.9 338.6zM330.3 379.3h1.3L331 374.9zM331.4 335.8h1.3L332.1 343.1zM332.6 379.3h1.3L333.2 372.9zM333.7 335.8h1.3L334.3 342.1zM334.8 379.3h1.3L335.4 375.6zM335.9 335.8h1.3L336.5 339.4zM337 379.3h1.3L337.7 373.4zM338.1 335.8h1.3L338.8 339.7zM339.2 379.3h1.3L339.9 373.3zM340.4 335.8h1.3L341 339.9zM341.5 379.3h1.3L342.1 373.1zM342.6 335.8h1.3L343.2 341.2zM343.7 379.3h1.3L344.4 372.7zM344.8 335.8h1.3L345.5 343.9zM345.9 379.3h1.3L346.6 375.2zM347.1 335.8h1.3L347.7 343.9zM348.2 379.3h1.3L348.8 376.7zM349.3 335.8h1.3L349.9 343.1zM350.4 379.3h1.3L351 376.6zM351.5 335.8h1.3L352.2 341zM352.6 379.3h1.3L353.3 375.2zM353.7 335.8h1.3L354.4 342.4zM354.9 379.3h1.3L355.5 375.5zM356 335.8h1.3L356.6 339.3zM357.1 379.3h1.3L357.7 372.9zM358.2 335.8h1.3L358.8 341.1zM359.3 379.2h1.3L360 373zM360.4 335.8h1.3L361.1 340.7zM361.5 377.9h1.3L362.2 375.4zM362.7 335.8h1.3L363.3 342.4zM363.8 376.6h1.3L364.4 373.8zM364.9 337.4h1.3L365.5 341.8zM366 375.3h1.3L366.7 373.3zM367.1 339.2h1.3L367.8 342.3zM368.2 374h1.3L368.9 370.2zM369.4 341h1.3L370 345.9zM370.5 372.7h1.3L371.1 369.4zM371.6 342.8h1.3L372.2 345.9zM372.7 371.2h1.3L373.3 368.1zM373.8 345h1.3L374.5 348.3zM374.9 369.7h1.3L375.6 368.2zM376 347.2h1.3L376.7 349.5zM377.2 368.2h1.3L377.8 366.4zM378.3 349.4h1.3L378.9 351.5zM379.4 366.7h1.3L380 365.8zM380.5 351.7h1.3L381.1 352.6zM381.6 366.6h1.3L382.3 365.5zM382.7 349.4h1.3L383.4 350.4zM383.8 369.4h1.3L384.5 367.8zM385 347.7h1.3L385.6 349.8zM386.1 370h1.3L386.7 367.8zM387.2 347.4h1.3L387.8 348.7zM388.3 370.6h1.3L389 367.9zM389.4 347.1h1.3L390.1 348.3zM390.5 371.2h1.3L391.2 368.2zM391.7 346.9h1.3L392.3 348.1zM392.8 371.7h1.3L393.4 370.2zM393.9 346.6h1.3L394.5 348zM395 372h1.3L395.6 369.5zM396.1 346.5h1.3L396.8 348zM397.2 372h1.3L397.9 368.4zM398.3 346.4h1.3L399 349.3zM399.5 372h1.3L400.1 370zM400.6 346.3h1.3L401.2 348.8zM401.7 372h1.3L402.3 368.9zM402.8 346.2h1.3L403.4 348.4zM403.9 372h1.3L404.6 370.1zM405 346.2h1.3L405.7 349.3zM406.1 372h1.3L406.8 368.1zM407.3 346.1h1.3L407.9 347.4zM408.4 372h1.3L409 369.9zM409.5 346h1.3L410.1 347.8zM410.6 372h1.3L411.3 370.2zM411.7 345.9h1.3L412.4 347.9zM412.8 372h1.3L413.5 368.3zM414 345.8h1.3L414.6 347.2zM415.1 372h1.3L415.7 368.5zM416.2 345.7h1.3L416.8 347.6zM417.3 372h1.3L417.9 370.5zM418.4 345.6h1.3L419.1 349zM419.5 372h1.3L420.2 370.1zM420.6 345.6h1.3L421.3 347.3zM421.8 372h1.3L422.4 370.4zM422.9 345.6h1.3L423.5 347.6zM424 372h1.3L424.6 370.4zM425.1 345.6h1.3L425.7 347.2zM426.2 372h1.3L426.9 370.1zM427.3 345.6h1.3L428 348.1zM428.4 372h1.3L429.1 369.6zM429.6 345.6h1.3L430.2 347.4zM430.7 372h1.3L431.3 369.4zM431.8 345.6h1.3L432.4 348.5zM432.9 372h1.3L433.6 368.9zM434 345.6h1.3L434.7 347.5zM435.1 372h1.3L435.8 368.3zM436.3 345.5h1.3L436.9 348.5zM437.4 372h1.3L438 369.3zM438.5 345.5h1.3L439.1 347.7zM439.6 372h1.3L440.2 369.9zM440.7 345.5h1.3L441.4 347zM441.8 372h1.3L442.5 368.4zM442.9 345.5h1.3L443.6 348zM444.1 372h1.3L444.7 370.4zM445.2 345.5h1.3L445.8 348.8zM446.3 372h1.3L446.9 368.4zM447.4 345.5h1.3L448 346.9zM448.5 372h1.3L449.2 368.9zM449.6 345.5h1.3L450.3 347.2zM450.7 372h1.3L451.4 369.4zM451.9 345.5h1.3L452.5 348.5zM453 372h1.3L453.6 369.9zM454.1 345.5h1.3L454.7 347.7zM455.2 372h1.3L455.9 369zM456.3 345.5h1.3L457 347.1zM457.4 372h1.3L458.1 369.1zM458.6 345.5h1.3L459.2 347.5zM459.7 372h1.3L460.3 368.1zM460.8 345.5h1.3L461.4 347zM461.9 372h1.3L462.5 368.9zM463 345.5h1.3L463.7 346.8zM464.1 372h1.3L464.8 370.1zM465.2 345.5h1.3L465.9 346.9zM466.4 372h1.3L467 370.3zM467.5 345.4h1.3L468.1 347.7zM468.6 372h1.3L469.2 370.3zM469.7 345.4h1.3L470.3 348.3zM470.8 372h1.3L471.5 370.4zM471.9 345.4h1.3L472.6 347.9zM473 372h1.3L473.7 368.4zM474.2 345.4h1.3L474.8 346.9zM475.3 372h1.3L475.9 370.2zM476.4 345.4h1.3L477 348.2zM477.5 372h1.3L478.2 369.6zM478.6 345.4h1.3L479.3 348.6zM479.7 372h1.3L480.4 369.9zM480.9 345.4h1.3L481.5 347.3zM482 372h1.3L482.6 368.1zM483.1 345.4h1.3L483.7 347.2zM484.2 372h1.3L484.8 368.1zM485.3 345.4h1.3L486 348.4zM486.4 372h1.3L487.1 370.2zM487.5 345.4h1.3L488.2 347.6zM488.7 372h1.3L489.3 368.2zM489.8 345.4h1.3L490.4 346.8zM490.9 372h1.3L491.5 368.5zM492 345.4h1.3L492.6 348.1zM493.1 372h1.3L493.8 368.8zM494.2 345.4h1.3L494.9 347.6zM495.3 372h1.3L496 370.4zM496.5 345.3h1.3L497.1 348.5zM497.6 372h1.3L498.2 370.4zM498.7 345.3h1.3L499.3 348zM499.8 372h1.3L500.5 368.9zM500.9 345.3h1.3L501.6 347zM502 372h1.3L502.7 369zM503.2 345.3h1.3L503.8 347.2zM504.3 372h1.3L504.9 368.8zM505.4 345.3h1.3L506 346.6zM506.5 372h1.3L507.1 368.2zM507.6 345.3h1.3L508.3 347.1zM508.7 372h1.3L509.4 368.6zM509.8 345.3h1.3L510.5 347.3zM511 372h1.3L511.6 368.6zM512.1 345.3h1.3L512.7 346.9zM513.2 372h1.3L513.8 369.4zM514.3 345.3h1.3L514.9 346.5zM515.4 372h1.3L516.1 369.5zM516.5 345.3h1.3L517.2 346.6zM517.6 372h1.3L518.3 368.5zM518.8 345.3h1.3L519.4 347.6zM519.9 372h1.3L520.5 369.7zM521 345.3h1.3L521.6 348.3zM522.1 372h1.3L522.8 368.2zM523.2 345.3h1.3L523.9 348.3zM524.3 372h1.3L525 370.4zM525.5 345.3h1.3L526.1 347.7zM526.6 372h1.3L527.2 368.9zM527.7 345.2h1.3L528.3 347.4zM528.8 372h1.3L529.4 370.5zM529.9 345.2h1.3L530.6 348.1zM531 372h1.3L531.7 369.7zM532.1 345.2h1.3L532.8 347.4zM533.3 372h1.3L533.9 368.6zM534.4 345.2h1.3L535 346.8zM535.5 372h1.3L536.1 370.5zM536.6 345.2h1.3L537.2 348.1zM537.7 372h1.3L538.4 370.1zM538.8 345.2h1.3L539.5 346.4zM539.9 372h1.3L540.6 370.3zM541.1 345.2h1.3L541.7 348.2z" fill="#939393" fill-opacity="1.0" stroke="#939393" stroke-width="0.4" stroke-opacity="1.0"/>
<path d="M319.6 323.6H366L378 325.4L390 325H542.8" stroke="#46ee46" stroke-width="0.95" fill="none"/>
<path d="M320.7 250.4V252.5M322.9 250V251.9M325.2 249.9V251.8M327.4 250.5V252.7M329.6 250.3V252.4M331.9 250.2V252.3M334.1 249.9V251.8M336.3 250.1V252.1M338.6 250.5V252.8M340.8 249.8V251.6M343 250.1V252.1M345.2 249.8V251.7M347.5 250.5V252.8M349.7 249.9V251.7M351.9 250.5V252.8M354.2 250.4V252.7M356.4 250.3V252.5M358.6 249.2V251M360.9 248.3V250.3M363.1 245.5V247.3M365.3 242.5V244.2M367.5 240V241.1M369.8 237.8V238.6M372 238V238.5M385.4 248.5V249M387.6 249.8V251.1" stroke="#8c8cff" stroke-width="0.7" fill="none"/>
<path d="M320.7 247.1V250.6M322.9 247.1V250.2M325.2 247.1V250.1M327.4 247.1V250.7M329.6 247.1V250.5M331.9 247.1V250.4M334.1 247.1V250.1M336.3 247.1V250.3M338.6 247.1V250.7M340.8 247.1V250M343 247.1V250.3M345.2 247.1V250M347.5 247.1V250.7M349.7 247.1V250.1M351.9 247.1V250.7M354.2 247.1V250.6M356.4 247.1V250.5M358.6 246.6V249.4M360.9 245.4V248.5M363.1 242.8V245.7M365.3 240.1V242.7M367.5 238.4V240.2M369.8 236.6V238M372 237.3V238.2M385.4 247.7V248.7M387.6 247.9V250" stroke="#0a0aff" stroke-width="0.9" fill="none"/>
<polygon points="319.6,245.4 320.6,245.3 321.6,245.3 322.6,245.5 323.6,245.6 324.6,245.5 325.6,245.8 326.6,245.5 327.6,245.5 328.6,245.8 329.6,245.3 330.6,245.2 331.6,245.4 332.6,245.4 333.6,245.2 334.6,245.4 335.6,245.2 336.6,245.8 337.6,245.5 338.6,245.8 339.6,245.6 340.6,245.7 341.6,245.7 342.6,245.4 343.6,245.7 344.6,245.3 345.6,245.5 346.6,245.6 347.6,245.7 348.6,245.3 349.6,245.4 350.6,245.7 351.6,245.7 352.6,245.8 353.6,245.2 354.6,245.3 355.6,245.2 356.6,245.7 357.6,245.6 358.6,244.8 359.6,244.2 360.6,243.3 361.6,242.3 362.6,241.3 363.6,239.9 364.6,238.6 365.6,237.6 366.6,236.8 367.6,236.3 368.6,235.4 369.6,234.4 370.6,234.7 371.6,235.1 372.6,235.5 373.6,235.9 374.6,236.4 375.6,237.3 376.6,238.1 377.6,238.9 378.6,240.2 379.6,240.4 380.6,241.3 381.6,242.8 382.6,243.5 383.6,244.6 384.6,245.7 385.6,246 386.6,246 387.6,245.9 388,246.6 388,248.2 387.6,248.6 386.6,248.1 385.6,248.2 384.6,247.6 383.6,246.8 382.6,246.1 381.6,244.9 380.6,243.7 379.6,242.7 378.6,242.2 377.6,241.1 376.6,240.2 375.6,239.6 374.6,239 373.6,238.4 372.6,237.9 371.6,237.4 370.6,237.4 369.6,237.1 368.6,238.4 367.6,239.1 366.6,239.5 365.6,240.5 364.6,241.1 363.6,242.9 362.6,243.9 361.6,245.1 360.6,246.1 359.6,246.5 358.6,246.9 357.6,247.4 356.6,247.8 355.6,247.9 354.6,247.4 353.6,247.5 352.6,247.7 351.6,247.3 350.6,247.7 349.6,247.9 348.6,247.9 347.6,247.6 346.6,247.7 345.6,247.8 344.6,247.3 343.6,247.8 342.6,247.3 341.6,247.4 340.6,247.6 339.6,247.8 338.6,247.9 337.6,247.7 336.6,247.3 335.6,247.9 334.6,247.9 333.6,247.8 332.6,247.4 331.6,247.5 330.6,247.6 329.6,247.8 328.6,247.7 327.6,247.4 326.6,247.4 325.6,247.8 324.6,247.9 323.6,247.3 322.6,247.5 321.6,247.6 320.6,247.5 319.6,247.9" fill="#0a0aff"/>
<path d="M388.6 249.4V250.4M390.8 249.9V251.2M393.1 250.5V252.3M395.3 250.3V251.9M397.5 250.4V252.2M399.8 250.4V252.1M402 250.3V252M404.2 250.1V251.7M406.5 249.8V251.2M408.7 249.6V250.7M410.9 249.4V250.5M413.1 249.9V251.3M415.4 250.2V251.8M417.6 250.7V252.6M419.8 250.9V253M422.1 250.6V252.4M424.3 250.8V252.8M426.5 250.1V251.6M428.8 250.1V251.7M431 249.5V250.6M433.2 249.5V250.7M435.4 249.8V251.2M437.7 250.1V251.6M439.9 250.3V251.9M442.1 250.9V253M444.4 250.5V252.4M446.6 250.6V252.5M448.8 250.2V251.8M451.1 249.9V251.3M453.3 249.4V250.4M455.5 249.3V250.4M457.7 249.8V251.1M460 250.3V252M462.2 250.5V252.3M464.4 250.3V252M466.7 250.8V252.8M468.9 250.5V252.2M471.1 250V251.5M473.4 249.8V251.1M475.6 249.4V250.4M477.8 249.6V250.8M480 249.9V251.3M482.3 250.1V251.7M484.5 250.3V252M486.7 250.5V252.3M489 250.5V252.3M491.2 250.4V252.1M493.4 250.4V252.1M495.7 250V251.5M497.9 249.5V250.7M500.1 249.6V250.8M502.3 250V251.4M504.6 250V251.5M506.8 250.2V251.8M509 250.4V252.1M511.3 250.5V252.2M513.5 250.5V252.3M515.7 250.4V252.2M518 249.9V251.3M520.2 249.4V250.5M522.4 249.4V250.4M524.6 250.1V251.7M526.9 250.4V252.1M529.1 250.4V252.1M531.3 250.3V252M533.6 251V253.1M535.8 250.3V252M538 250.4V252.2M540.3 249.7V251M542.5 249.5V250.7" stroke="#8c8cff" stroke-width="0.7" fill="none"/>
<path d="M388.6 247.8V249.6M390.8 247.8V250.1M393.1 247.8V250.7M395.3 247.8V250.5M397.5 247.8V250.6M399.8 247.8V250.6M402 247.8V250.5M404.2 247.8V250.3M406.5 247.8V250M408.7 247.8V249.8M410.9 247.8V249.6M413.1 247.8V250.1M415.4 247.8V250.4M417.6 247.8V250.9M419.8 247.8V251.1M422.1 247.8V250.8M424.3 247.8V251M426.5 247.8V250.3M428.8 247.8V250.3M431 247.8V249.7M433.2 247.8V249.7M435.4 247.8V250M437.7 247.8V250.3M439.9 247.8V250.5M442.1 247.8V251.1M444.4 247.8V250.7M446.6 247.8V250.8M448.8 247.8V250.4M451.1 247.8V250.1M453.3 247.8V249.6M455.5 247.8V249.5M457.7 247.8V250M460 247.8V250.5M462.2 247.8V250.7M464.4 247.8V250.5M466.7 247.8V251M468.9 247.8V250.7M471.1 247.8V250.2M473.4 247.8V250M475.6 247.8V249.6M477.8 247.8V249.8M480 247.8V250.1M482.3 247.8V250.3M484.5 247.8V250.5M486.7 247.8V250.7M489 247.8V250.7M491.2 247.8V250.6M493.4 247.8V250.6M495.7 247.8V250.2M497.9 247.8V249.7M500.1 247.8V249.8M502.3 247.8V250.2M504.6 247.8V250.2M506.8 247.8V250.4M509 247.8V250.6M511.3 247.8V250.7M513.5 247.8V250.7M515.7 247.8V250.6M518 247.8V250.1M520.2 247.8V249.6M522.4 247.8V249.6M524.6 247.8V250.3M526.9 247.8V250.6M529.1 247.8V250.6M531.3 247.8V250.5M533.6 247.8V251.2M535.8 247.8V250.5M538 247.8V250.6M540.3 247.8V249.9M542.5 247.8V249.7" stroke="#0a0aff" stroke-width="0.9" fill="none"/>
<polygon points="387.5,246.2 388.5,246.6 389.5,246.2 390.5,246 391.5,246.1 392.5,246.5 393.5,246.6 394.5,246.4 395.5,246.4 396.5,246.1 397.5,246.1 398.5,246 399.5,246.6 400.5,246 401.5,246.4 402.5,246.2 403.5,246.1 404.5,246.3 405.5,246.6 406.5,246.1 407.5,246.1 408.5,246.4 409.5,246.4 410.5,246.3 411.5,246.1 412.5,246.6 413.5,246 414.5,246.1 415.5,246.1 416.5,246.3 417.5,246.3 418.5,246.3 419.5,246.5 420.5,246.6 421.5,246.3 422.5,246 423.5,246.5 424.5,246 425.5,246.2 426.5,246.1 427.5,246.4 428.5,246.5 429.5,246 430.5,246.2 431.5,246.5 432.5,246.4 433.5,246 434.5,246.4 435.5,246.5 436.5,246.2 437.5,246.1 438.5,246.4 439.5,246.2 440.5,246 441.5,246.1 442.5,246.2 443.5,246 444.5,246.2 445.5,246.3 446.5,246.3 447.5,246.2 448.5,246.5 449.5,246 450.5,246.2 451.5,246.6 452.5,246.6 453.5,246.6 454.5,246.5 455.5,246.3 456.5,246.5 457.5,246.4 458.5,246 459.5,246.1 460.5,246 461.5,246.6 462.5,246.2 463.5,246.2 464.5,246.3 465.5,246 466.5,246.4 467.5,246.5 468.5,246.5 469.5,246.6 470.5,246.2 471.5,246.1 472.5,246.5 473.5,246.4 474.5,246.2 475.5,246.2 476.5,246.1 477.5,246.5 478.5,246.3 479.5,246.5 480.5,246.2 481.5,246.2 482.5,246.3 483.5,246.5 484.5,246.6 485.5,246.2 486.5,246.4 487.5,246.2 488.5,246.6 489.5,246.5 490.5,246.3 491.5,246.2 492.5,246.1 493.5,246.6 494.5,246.5 495.5,246.2 496.5,246 497.5,246.1 498.5,246.6 499.5,246 500.5,246.5 501.5,246.3 502.5,246.3 503.5,246.3 504.5,246.2 505.5,246.3 506.5,246 507.5,246.6 508.5,246 509.5,246 510.5,246.4 511.5,246.4 512.5,246.5 513.5,246.4 514.5,246.6 515.5,246 516.5,246 517.5,246.1 518.5,246.5 519.5,246.1 520.5,246.3 521.5,246.5 522.5,246.1 523.5,246.3 524.5,246.6 525.5,246.5 526.5,246.2 527.5,246.3 528.5,246.1 529.5,246.6 530.5,246.5 531.5,246.4 532.5,246.2 533.5,246.5 534.5,246.3 535.5,246.5 536.5,246.2 537.5,246.6 538.5,246.4 539.5,246.3 540.5,246.3 541.5,246.5 542.5,246.3 542.8,246.6 542.8,248.6 542.5,248.5 541.5,248.1 540.5,248 539.5,248.4 538.5,248 537.5,248 536.5,248.3 535.5,248.4 534.5,248.2 533.5,248.1 532.5,248.3 531.5,248.6 530.5,248.1 529.5,248.4 528.5,248.3 527.5,248 526.5,248.6 525.5,248.1 524.5,248.5 523.5,248.3 522.5,248.2 521.5,248.5 520.5,248.4 519.5,248.5 518.5,248.6 517.5,248.3 516.5,248.1 515.5,248.3 514.5,248.6 513.5,248.6 512.5,248.5 511.5,248.3 510.5,248.5 509.5,248.6 508.5,248 507.5,248.1 506.5,248.2 505.5,248.4 504.5,248 503.5,248.6 502.5,248 501.5,248.4 500.5,248.4 499.5,248.1 498.5,248.4 497.5,248.2 496.5,248.1 495.5,248.6 494.5,248.2 493.5,248 492.5,248.5 491.5,248.1 490.5,248.6 489.5,248.6 488.5,248.6 487.5,248.4 486.5,248.2 485.5,248.3 484.5,248.1 483.5,248.6 482.5,248 481.5,248.1 480.5,248.6 479.5,248.3 478.5,248.6 477.5,248.2 476.5,248 475.5,248.6 474.5,248.6 473.5,248.5 472.5,248.3 471.5,248 470.5,248.5 469.5,248.4 468.5,248.6 467.5,248.1 466.5,248.2 465.5,248.2 464.5,248.6 463.5,248.2 462.5,248.5 461.5,248 460.5,248.4 459.5,248.2 458.5,248.2 457.5,248 456.5,248 455.5,248.6 454.5,248.5 453.5,248.1 452.5,248.1 451.5,248.3 450.5,248.5 449.5,248.5 448.5,248.6 447.5,248.6 446.5,248.1 445.5,248.4 444.5,248.3 443.5,248 442.5,248.2 441.5,248.3 440.5,248.3 439.5,248.4 438.5,248.4 437.5,248.5 436.5,248.2 435.5,248.4 434.5,248.3 433.5,248.4 432.5,248.2 431.5,248.3 430.5,248 429.5,248.1 428.5,248 427.5,248.1 426.5,248.1 425.5,248.6 424.5,248.5 423.5,248.6 422.5,248.2 421.5,248 420.5,248.2 419.5,248 418.5,248 417.5,248.5 416.5,248.5 415.5,248.6 414.5,248.6 413.5,248.2 412.5,248.4 411.5,248.2 410.5,248.3 409.5,248.3 408.5,248.5 407.5,248.6 406.5,248 405.5,248.3 404.5,248.1 403.5,248.2 402.5,248.3 401.5,248 400.5,248 399.5,248 398.5,248.4 397.5,248.6 396.5,248.2 395.5,248.5 394.5,248.4 393.5,248.2 392.5,248.1 391.5,248.5 390.5,248.3 389.5,248.4 388.5,248.6 387.5,248" fill="#0a0aff"/>
<path d="M319.6 228.4h1.9M542.8 228.4h-1.9M319.6 232.9h1.9M542.8 232.9h-1.9M319.6 237.4h1.9M542.8 237.4h-1.9M319.6 241.9h1.9M542.8 241.9h-1.9M319.6 246.4h3.6M542.8 246.4h-3.6M319.6 250.9h1.9M542.8 250.9h-1.9M319.6 255.4h1.9M542.8 255.4h-1.9M319.6 259.9h1.9M542.8 259.9h-1.9M319.6 264.4h1.9M542.8 264.4h-1.9M319.6 268.9h3.6M542.8 268.9h-3.6M319.6 273.4h1.9M542.8 273.4h-1.9M319.6 277.9h1.9M542.8 277.9h-1.9M319.6 282.4h1.9M542.8 282.4h-1.9M319.6 286.9h1.9M542.8 286.9h-1.9M319.6 291.4h3.6M542.8 291.4h-3.6M319.6 295.9h1.9M542.8 295.9h-1.9M319.6 300.4h1.9M542.8 300.4h-1.9M319.6 304.9h1.9M542.8 304.9h-1.9M319.6 309.4h1.9M542.8 309.4h-1.9M319.6 313.9h3.6M542.8 313.9h-3.6M319.6 318.4h1.9M542.8 318.4h-1.9M319.6 322.9h1.9M542.8 322.9h-1.9M319.6 327.4h1.9M542.8 327.4h-1.9M319.6 331.9h1.9M542.8 331.9h-1.9M319.6 336.4h3.6M542.8 336.4h-3.6M319.6 340.9h1.9M542.8 340.9h-1.9M319.6 345.4h1.9M542.8 345.4h-1.9M319.6 349.9h1.9M542.8 349.9h-1.9M319.6 354.4h1.9M542.8 354.4h-1.9M319.6 358.9h3.6M542.8 358.9h-3.6M319.6 363.4h1.9M542.8 363.4h-1.9M319.6 367.9h1.9M542.8 367.9h-1.9M319.6 372.4h1.9M542.8 372.4h-1.9M319.6 376.9h1.9M542.8 376.9h-1.9M319.6 381.4h3.6M542.8 381.4h-3.6M319.6 385.9h1.9M542.8 385.9h-1.9M319.6 390.4h1.9M542.8 390.4h-1.9M319.6 394.9h1.9M542.8 394.9h-1.9M319.6 399.4h1.9M542.8 399.4h-1.9M324.6 224.9v1.9M324.6 403.1v-1.9M329 224.9v1.9M329 403.1v-1.9M333.5 224.9v1.9M333.5 403.1v-1.9M337.9 224.9v1.9M337.9 403.1v-1.9M342.4 224.9v3.6M342.4 403.1v-3.6M346.9 224.9v1.9M346.9 403.1v-1.9M351.3 224.9v1.9M351.3 403.1v-1.9M355.8 224.9v1.9M355.8 403.1v-1.9M360.2 224.9v1.9M360.2 403.1v-1.9M364.7 224.9v3.6M364.7 403.1v-3.6M369.2 224.9v1.9M369.2 403.1v-1.9M373.6 224.9v1.9M373.6 403.1v-1.9M378.1 224.9v1.9M378.1 403.1v-1.9M382.5 224.9v1.9M382.5 403.1v-1.9M387 224.9v3.6M387 403.1v-3.6M391.5 224.9v1.9M391.5 403.1v-1.9M395.9 224.9v1.9M395.9 403.1v-1.9M400.4 224.9v1.9M400.4 403.1v-1.9M404.8 224.9v1.9M404.8 403.1v-1.9M409.3 224.9v3.6M409.3 403.1v-3.6M413.8 224.9v1.9M413.8 403.1v-1.9M418.2 224.9v1.9M418.2 403.1v-1.9M422.7 224.9v1.9M422.7 403.1v-1.9M427.1 224.9v1.9M427.1 403.1v-1.9M431.6 224.9v3.6M431.6 403.1v-3.6M436.1 224.9v1.9M436.1 403.1v-1.9M440.5 224.9v1.9M440.5 403.1v-1.9M445 224.9v1.9M445 403.1v-1.9M449.4 224.9v1.9M449.4 403.1v-1.9M453.9 224.9v3.6M453.9 403.1v-3.6M458.4 224.9v1.9M458.4 403.1v-1.9M462.8 224.9v1.9M462.8 403.1v-1.9M467.3 224.9v1.9M467.3 403.1v-1.9M471.7 224.9v1.9M471.7 403.1v-1.9M476.2 224.9v3.6M476.2 403.1v-3.6M480.7 224.9v1.9M480.7 403.1v-1.9M485.1 224.9v1.9M485.1 403.1v-1.9M489.6 224.9v1.9M489.6 403.1v-1.9M494 224.9v1.9M494 403.1v-1.9M498.5 224.9v3.6M498.5 403.1v-3.6M503 224.9v1.9M503 403.1v-1.9M507.4 224.9v1.9M507.4 403.1v-1.9M511.9 224.9v1.9M511.9 403.1v-1.9M516.3 224.9v1.9M516.3 403.1v-1.9M520.8 224.9v3.6M520.8 403.1v-3.6M525.3 224.9v1.9M525.3 403.1v-1.9M529.7 224.9v1.9M529.7 403.1v-1.9M534.2 224.9v1.9M534.2 403.1v-1.9M538.6 224.9v1.9M538.6 403.1v-1.9" stroke="#222" stroke-width="0.8" fill="none"/>
<rect x="319.6" y="224.9" width="223.2" height="178.2" fill="none" stroke="#000" stroke-width="1.25"/>
<path d="M319.6 247H312.3V252.6" stroke="#111" stroke-width="1.2" fill="none"/>
<path d="M307.1 252.6h10.4M309.2 255.5h6.2" stroke="#111" stroke-width="1.2" fill="none"/>
<path d="M310.7 258.3h3.2" stroke="#333" stroke-width="1.1" fill="none"/>
<path d="M319.6 292.3H311.1V297.9" stroke="#111" stroke-width="1.2" fill="none"/>
<path d="M305.9 297.9h10.4M308 300.8h6.2" stroke="#111" stroke-width="1.2" fill="none"/>
<path d="M309.5 303.6h3.2" stroke="#333" stroke-width="1.1" fill="none"/>
<path d="M319.6 324.5H312.6V330.1" stroke="#111" stroke-width="1.2" fill="none"/>
<path d="M307.4 330.1h10.4M309.5 333h6.2" stroke="#111" stroke-width="1.2" fill="none"/>
<path d="M311 335.8h3.2" stroke="#333" stroke-width="1.1" fill="none"/>
<path d="M319.6 359.2H310.4V364.8" stroke="#111" stroke-width="1.2" fill="none"/>
<path d="M305.2 364.8h10.4M307.3 367.7h6.2" stroke="#111" stroke-width="1.2" fill="none"/>
<path d="M308.8 370.5h3.2" stroke="#333" stroke-width="1.1" fill="none"/>
<text x="433" y="234.7" class="lb"><tspan font-size="11.5" font-style="italic">V</tspan><tspan font-size="7.5" font-style="italic" dy="2.9">O</tspan><tspan font-size="7.5">(ac)</tspan><tspan font-size="6.3" dy="-2.5">:</tspan><tspan font-size="6.8">CH1(1V/div)</tspan></text>
<path d="M463.7 239.4L459.2 242.4" stroke="#000" stroke-width="1.2" fill="none"/>
<polygon points="455.50,244.80 458.13,240.79 460.22,243.97" fill="#000"/>
<text x="347" y="263.3" class="lb"><tspan font-size="10.5" font-style="italic">v</tspan><tspan font-size="7.8" font-style="italic" dy="2.2">Cr</tspan><tspan font-size="7.8">(ac)</tspan><tspan font-size="6.3" dy="-2.5">:</tspan><tspan font-size="6.6">CH2(2V/div)</tspan></text>
<path d="M381.8 270.8L376.1 277.2" stroke="#000" stroke-width="1.2" fill="none"/>
<polygon points="373.20,280.50 374.70,275.95 377.54,278.47" fill="#000"/>
<text x="373.2" y="320.8" class="lb"><tspan font-size="8" font-style="italic">v</tspan><tspan font-size="6.6" font-style="italic" dy="0.9">C</tspan><tspan font-size="3"> </tspan><tspan font-size="6.6" font-style="italic">f</tspan><tspan font-size="2.5" dy="-0.9"> </tspan><tspan font-size="6.75">:CH3(5V/div)</tspan></text>
<text x="355.3" y="393.5" class="lb"><tspan font-size="12.5" font-style="italic">i</tspan><tspan font-size="7.2" font-style="italic" dy="1.4">Cr</tspan><tspan font-size="6.6" dy="-1.4">:CH4(1A/div)</tspan></text>
<path d="M382.2 386.7L378.7 380.4" stroke="#000" stroke-width="1.2" fill="none"/>
<polygon points="376.60,376.60 380.40,379.53 377.07,381.37" fill="#000"/>
<text class="lg" y="261.1"><tspan x="479.1">1) CH1</tspan><tspan x="500.3">1</tspan><tspan x="506.3">V</tspan><tspan x="516.7">250 us</tspan></text>
<text class="lg" y="268.7"><tspan x="479.1">2) CH2</tspan><tspan x="500.3">2</tspan><tspan x="506.3">V</tspan><tspan x="516.7">250 us</tspan></text>
<text class="lg" y="276.3"><tspan x="479.1">3) CH3</tspan><tspan x="500.3">5</tspan><tspan x="506.3">V</tspan><tspan x="516.7">250 us</tspan></text>
<text class="lg" y="283.9"><tspan x="479.1">4) CH4</tspan><tspan x="500.3">1</tspan><tspan x="506.3">A</tspan><tspan x="516.7">250 us</tspan></text>
<path d="M520.7 404.8V414.4M542.4 404.8V414.4" stroke="#000" stroke-width="1.3" fill="none"/>
<path d="M524.7 409.6H538.4" stroke="#000" stroke-width="1.2" fill="none"/>
<polygon points="521.3,409.6 527.1,407.1 527.1,412.1" fill="#000"/>
<polygon points="541.8,409.6 536,407.1 536,412.1" fill="#000"/>
<text class="sb" x="520.9" y="421.5">250 µs</text>
<text class="cp" x="427" y="436.3" text-anchor="middle">(<tspan font-weight="bold">d</tspan>)</text>
</svg>
</body></html>
